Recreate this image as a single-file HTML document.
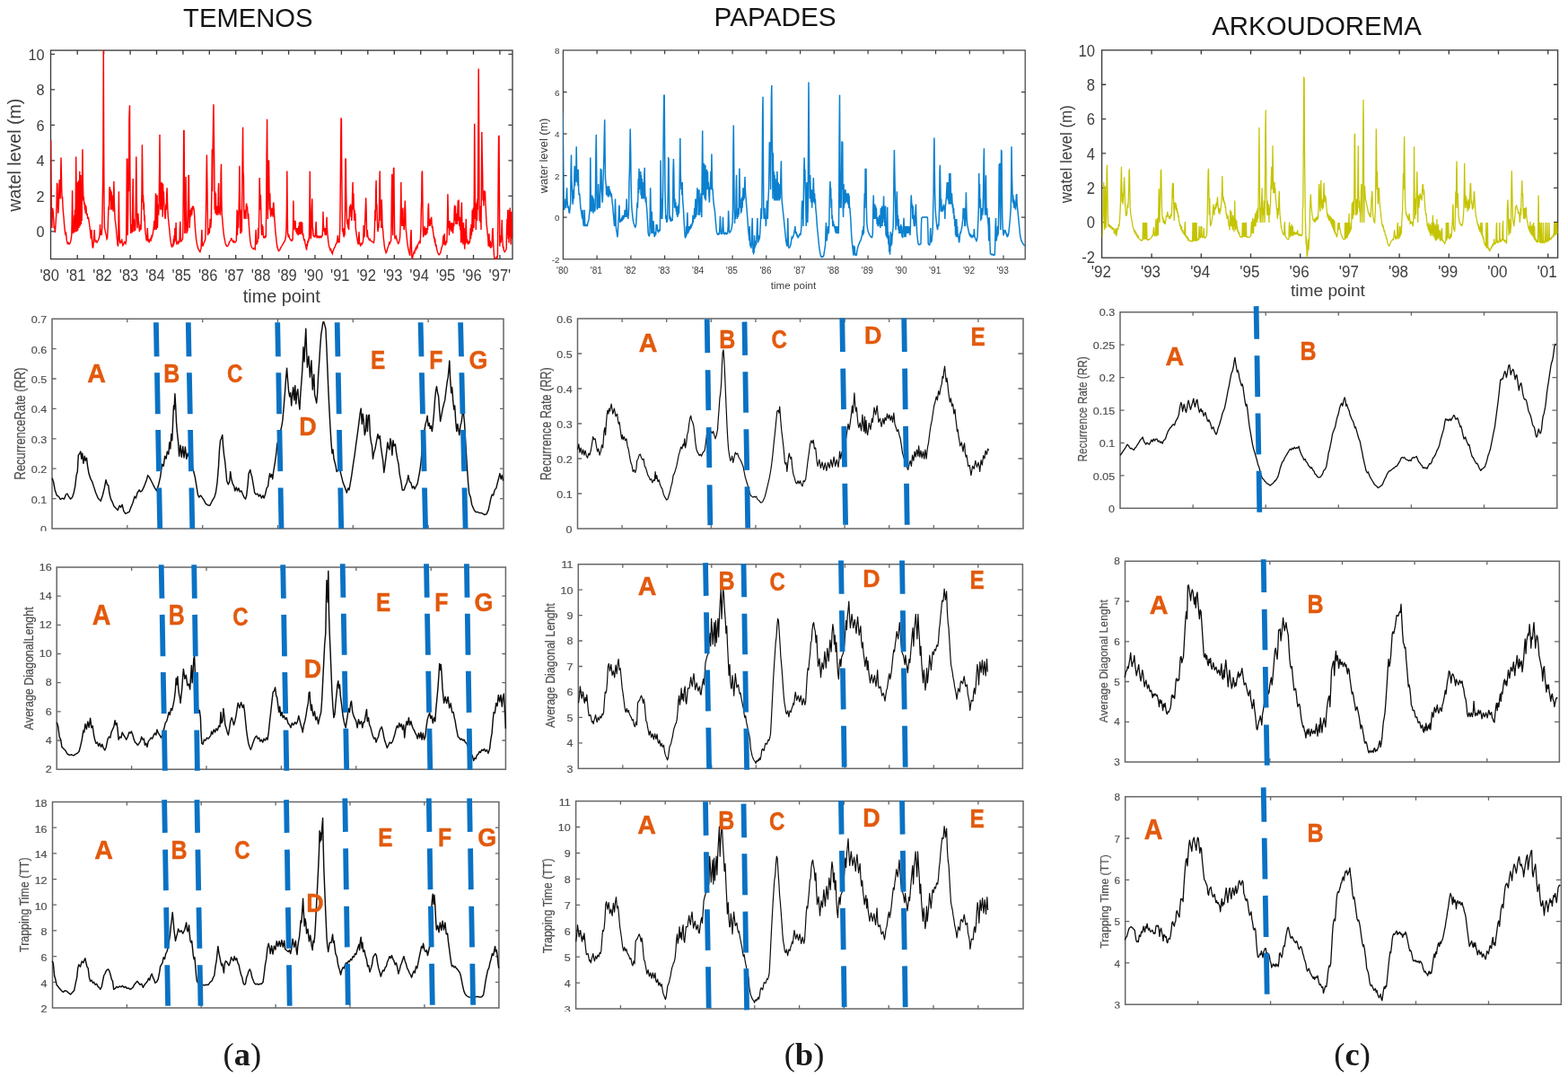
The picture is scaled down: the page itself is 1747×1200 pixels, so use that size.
<!DOCTYPE html>
<html lang="en"><head><meta charset="utf-8"><title>Water level and RQA measures</title>
<style>
html,body{margin:0;padding:0;background:#fff;}
body{width:1747px;height:1200px;overflow:hidden;}
svg{display:block;}
text{white-space:pre;}
</style></head><body>
<svg width="1747" height="1200" viewBox="0 0 1747 1200">
<rect width="1747" height="1200" fill="#fff"/>
<text transform="translate(276.3 30.3) scale(1.000 1.000)" font-size="30.4" text-anchor="middle" fill="#141414" font-family='"Liberation Sans", sans-serif' font-weight="normal" textLength="144.4" lengthAdjust="spacingAndGlyphs">TEMENOS</text>
<text transform="translate(863.6 29) scale(1.000 1.000)" font-size="30.4" text-anchor="middle" fill="#141414" font-family='"Liberation Sans", sans-serif' font-weight="normal" textLength="136" lengthAdjust="spacingAndGlyphs">PAPADES</text>
<text transform="translate(1467 38.5) scale(1.000 1.000)" font-size="30.4" text-anchor="middle" fill="#141414" font-family='"Liberation Sans", sans-serif' font-weight="normal" textLength="233.6" lengthAdjust="spacingAndGlyphs">ARKOUDOREMA</text>
<defs><filter id="soft" filterUnits="userSpaceOnUse" x="0" y="0" width="1747" height="1200" color-interpolation-filters="sRGB"><feGaussianBlur stdDeviation="0.42"/></filter></defs>
<g filter="url(#soft)">
<rect x="56.5" y="56.1" width="514.5" height="232.5" fill="none" stroke="#3c3c3c" stroke-width="1.35"/>
<path d="M86.2 288.6v-4.6M86.2 56.1v4.6M115.6 288.6v-4.6M115.6 56.1v4.6M145.1 288.6v-4.6M145.1 56.1v4.6M174.5 288.6v-4.6M174.5 56.1v4.6M203.9 288.6v-4.6M203.9 56.1v4.6M233.3 288.6v-4.6M233.3 56.1v4.6M262.7 288.6v-4.6M262.7 56.1v4.6M292.2 288.6v-4.6M292.2 56.1v4.6M321.6 288.6v-4.6M321.6 56.1v4.6M351 288.6v-4.6M351 56.1v4.6M380.4 288.6v-4.6M380.4 56.1v4.6M409.8 288.6v-4.6M409.8 56.1v4.6M439.3 288.6v-4.6M439.3 56.1v4.6M468.7 288.6v-4.6M468.7 56.1v4.6M498.1 288.6v-4.6M498.1 56.1v4.6M527.5 288.6v-4.6M527.5 56.1v4.6M556.9 288.6v-4.6M556.9 56.1v4.6M56.5 257.8h4.6M571 257.8h-4.6M56.5 218.3h4.6M571 218.3h-4.6M56.5 178.8h4.6M571 178.8h-4.6M56.5 139.3h4.6M571 139.3h-4.6M56.5 99.8h4.6M571 99.8h-4.6M56.5 60.3h4.6M571 60.3h-4.6" fill="none" stroke="#3c3c3c" stroke-width="1.35"/>
<text transform="translate(55.2 312.6) scale(1.000 1.060)" font-size="16.5" text-anchor="middle" fill="#3d3d3d" font-family='"Liberation Sans", sans-serif' font-weight="normal">'80</text>
<text transform="translate(84.6 312.6) scale(1.000 1.060)" font-size="16.5" text-anchor="middle" fill="#3d3d3d" font-family='"Liberation Sans", sans-serif' font-weight="normal">'81</text>
<text transform="translate(114 312.6) scale(1.000 1.060)" font-size="16.5" text-anchor="middle" fill="#3d3d3d" font-family='"Liberation Sans", sans-serif' font-weight="normal">'82</text>
<text transform="translate(143.5 312.6) scale(1.000 1.060)" font-size="16.5" text-anchor="middle" fill="#3d3d3d" font-family='"Liberation Sans", sans-serif' font-weight="normal">'83</text>
<text transform="translate(172.9 312.6) scale(1.000 1.060)" font-size="16.5" text-anchor="middle" fill="#3d3d3d" font-family='"Liberation Sans", sans-serif' font-weight="normal">'84</text>
<text transform="translate(202.3 312.6) scale(1.000 1.060)" font-size="16.5" text-anchor="middle" fill="#3d3d3d" font-family='"Liberation Sans", sans-serif' font-weight="normal">'85</text>
<text transform="translate(231.7 312.6) scale(1.000 1.060)" font-size="16.5" text-anchor="middle" fill="#3d3d3d" font-family='"Liberation Sans", sans-serif' font-weight="normal">'86</text>
<text transform="translate(261.1 312.6) scale(1.000 1.060)" font-size="16.5" text-anchor="middle" fill="#3d3d3d" font-family='"Liberation Sans", sans-serif' font-weight="normal">'87</text>
<text transform="translate(290.6 312.6) scale(1.000 1.060)" font-size="16.5" text-anchor="middle" fill="#3d3d3d" font-family='"Liberation Sans", sans-serif' font-weight="normal">'88</text>
<text transform="translate(320 312.6) scale(1.000 1.060)" font-size="16.5" text-anchor="middle" fill="#3d3d3d" font-family='"Liberation Sans", sans-serif' font-weight="normal">'89</text>
<text transform="translate(349.4 312.6) scale(1.000 1.060)" font-size="16.5" text-anchor="middle" fill="#3d3d3d" font-family='"Liberation Sans", sans-serif' font-weight="normal">'90</text>
<text transform="translate(378.8 312.6) scale(1.000 1.060)" font-size="16.5" text-anchor="middle" fill="#3d3d3d" font-family='"Liberation Sans", sans-serif' font-weight="normal">'91</text>
<text transform="translate(408.2 312.6) scale(1.000 1.060)" font-size="16.5" text-anchor="middle" fill="#3d3d3d" font-family='"Liberation Sans", sans-serif' font-weight="normal">'92</text>
<text transform="translate(437.7 312.6) scale(1.000 1.060)" font-size="16.5" text-anchor="middle" fill="#3d3d3d" font-family='"Liberation Sans", sans-serif' font-weight="normal">'93</text>
<text transform="translate(467.1 312.6) scale(1.000 1.060)" font-size="16.5" text-anchor="middle" fill="#3d3d3d" font-family='"Liberation Sans", sans-serif' font-weight="normal">'94</text>
<text transform="translate(496.5 312.6) scale(1.000 1.060)" font-size="16.5" text-anchor="middle" fill="#3d3d3d" font-family='"Liberation Sans", sans-serif' font-weight="normal">'95</text>
<text transform="translate(525.9 312.6) scale(1.000 1.060)" font-size="16.5" text-anchor="middle" fill="#3d3d3d" font-family='"Liberation Sans", sans-serif' font-weight="normal">'96</text>
<text transform="translate(544.6 312.6) scale(1.000 1.060)" font-size="16.5" text-anchor="start" fill="#3d3d3d" font-family='"Liberation Sans", sans-serif' font-weight="normal">'97'</text>
<text transform="translate(49.6 264.4) scale(1.000 1.060)" font-size="16.3" text-anchor="end" fill="#3d3d3d" font-family='"Liberation Sans", sans-serif' font-weight="normal">0</text>
<text transform="translate(49.6 224.9) scale(1.000 1.060)" font-size="16.3" text-anchor="end" fill="#3d3d3d" font-family='"Liberation Sans", sans-serif' font-weight="normal">2</text>
<text transform="translate(49.6 185.4) scale(1.000 1.060)" font-size="16.3" text-anchor="end" fill="#3d3d3d" font-family='"Liberation Sans", sans-serif' font-weight="normal">4</text>
<text transform="translate(49.6 145.9) scale(1.000 1.060)" font-size="16.3" text-anchor="end" fill="#3d3d3d" font-family='"Liberation Sans", sans-serif' font-weight="normal">6</text>
<text transform="translate(49.6 106.4) scale(1.000 1.060)" font-size="16.3" text-anchor="end" fill="#3d3d3d" font-family='"Liberation Sans", sans-serif' font-weight="normal">8</text>
<text transform="translate(49.6 66.9) scale(1.000 1.060)" font-size="16.3" text-anchor="end" fill="#3d3d3d" font-family='"Liberation Sans", sans-serif' font-weight="normal">10</text>
<text transform="translate(22.7 172.7) rotate(-90)" font-size="19.6" text-anchor="middle" fill="#3d3d3d" stroke="#3d3d3d" stroke-width="0" font-family='"Liberation Sans", sans-serif' textLength="126" lengthAdjust="spacingAndGlyphs">watel level (m)</text>
<text transform="translate(313.8 337) scale(1.000 1.000)" font-size="19.5" text-anchor="middle" fill="#3d3d3d" font-family='"Liberation Sans", sans-serif' font-weight="normal" textLength="86" lengthAdjust="spacingAndGlyphs">time point</text>
<rect x="627.4" y="56" width="514.8" height="232.8" fill="none" stroke="#3c3c3c" stroke-width="1.2"/>
<path d="M665.1 288.8v-4.2M665.1 56v4.2M702.9 288.8v-4.2M702.9 56v4.2M740.6 288.8v-4.2M740.6 56v4.2M778.4 288.8v-4.2M778.4 56v4.2M816.1 288.8v-4.2M816.1 56v4.2M853.8 288.8v-4.2M853.8 56v4.2M891.6 288.8v-4.2M891.6 56v4.2M929.3 288.8v-4.2M929.3 56v4.2M967.1 288.8v-4.2M967.1 56v4.2M1004.8 288.8v-4.2M1004.8 56v4.2M1042.5 288.8v-4.2M1042.5 56v4.2M1080.3 288.8v-4.2M1080.3 56v4.2M1118 288.8v-4.2M1118 56v4.2M627.4 242.2h4.2M1142.2 242.2h-4.2M627.4 195.7h4.2M1142.2 195.7h-4.2M627.4 149.1h4.2M1142.2 149.1h-4.2M627.4 102.6h4.2M1142.2 102.6h-4.2" fill="none" stroke="#3c3c3c" stroke-width="1.2"/>
<text transform="translate(626.6 304.6) scale(1.000 1.000)" font-size="10.1" text-anchor="middle" fill="#3d3d3d" font-family='"Liberation Sans", sans-serif' font-weight="normal">'80</text>
<text transform="translate(664.3 304.6) scale(1.000 1.000)" font-size="10.1" text-anchor="middle" fill="#3d3d3d" font-family='"Liberation Sans", sans-serif' font-weight="normal">'81</text>
<text transform="translate(702.1 304.6) scale(1.000 1.000)" font-size="10.1" text-anchor="middle" fill="#3d3d3d" font-family='"Liberation Sans", sans-serif' font-weight="normal">'82</text>
<text transform="translate(739.8 304.6) scale(1.000 1.000)" font-size="10.1" text-anchor="middle" fill="#3d3d3d" font-family='"Liberation Sans", sans-serif' font-weight="normal">'83</text>
<text transform="translate(777.6 304.6) scale(1.000 1.000)" font-size="10.1" text-anchor="middle" fill="#3d3d3d" font-family='"Liberation Sans", sans-serif' font-weight="normal">'84</text>
<text transform="translate(815.3 304.6) scale(1.000 1.000)" font-size="10.1" text-anchor="middle" fill="#3d3d3d" font-family='"Liberation Sans", sans-serif' font-weight="normal">'85</text>
<text transform="translate(853 304.6) scale(1.000 1.000)" font-size="10.1" text-anchor="middle" fill="#3d3d3d" font-family='"Liberation Sans", sans-serif' font-weight="normal">'86</text>
<text transform="translate(890.8 304.6) scale(1.000 1.000)" font-size="10.1" text-anchor="middle" fill="#3d3d3d" font-family='"Liberation Sans", sans-serif' font-weight="normal">'87</text>
<text transform="translate(928.5 304.6) scale(1.000 1.000)" font-size="10.1" text-anchor="middle" fill="#3d3d3d" font-family='"Liberation Sans", sans-serif' font-weight="normal">'88</text>
<text transform="translate(966.3 304.6) scale(1.000 1.000)" font-size="10.1" text-anchor="middle" fill="#3d3d3d" font-family='"Liberation Sans", sans-serif' font-weight="normal">'89</text>
<text transform="translate(1004 304.6) scale(1.000 1.000)" font-size="10.1" text-anchor="middle" fill="#3d3d3d" font-family='"Liberation Sans", sans-serif' font-weight="normal">'90</text>
<text transform="translate(1041.7 304.6) scale(1.000 1.000)" font-size="10.1" text-anchor="middle" fill="#3d3d3d" font-family='"Liberation Sans", sans-serif' font-weight="normal">'91</text>
<text transform="translate(1079.5 304.6) scale(1.000 1.000)" font-size="10.1" text-anchor="middle" fill="#3d3d3d" font-family='"Liberation Sans", sans-serif' font-weight="normal">'92</text>
<text transform="translate(1117.2 304.6) scale(1.000 1.000)" font-size="10.1" text-anchor="middle" fill="#3d3d3d" font-family='"Liberation Sans", sans-serif' font-weight="normal">'93</text>
<text transform="translate(623.4 292.6) scale(1.000 1.000)" font-size="9.8" text-anchor="end" fill="#3d3d3d" font-family='"Liberation Sans", sans-serif' font-weight="normal">-2</text>
<text transform="translate(623.4 246.1) scale(1.000 1.000)" font-size="9.8" text-anchor="end" fill="#3d3d3d" font-family='"Liberation Sans", sans-serif' font-weight="normal">0</text>
<text transform="translate(623.4 199.6) scale(1.000 1.000)" font-size="9.8" text-anchor="end" fill="#3d3d3d" font-family='"Liberation Sans", sans-serif' font-weight="normal">2</text>
<text transform="translate(623.4 153) scale(1.000 1.000)" font-size="9.8" text-anchor="end" fill="#3d3d3d" font-family='"Liberation Sans", sans-serif' font-weight="normal">4</text>
<text transform="translate(623.4 106.5) scale(1.000 1.000)" font-size="9.8" text-anchor="end" fill="#3d3d3d" font-family='"Liberation Sans", sans-serif' font-weight="normal">6</text>
<text transform="translate(623.4 59.9) scale(1.000 1.000)" font-size="9.8" text-anchor="end" fill="#3d3d3d" font-family='"Liberation Sans", sans-serif' font-weight="normal">8</text>
<text transform="translate(610.2 173.4) rotate(-90)" font-size="12.6" text-anchor="middle" fill="#3d3d3d" stroke="#3d3d3d" stroke-width="0" font-family='"Liberation Sans", sans-serif' textLength="83.5" lengthAdjust="spacingAndGlyphs">water level (m)</text>
<text transform="translate(884 321.8) scale(1.000 1.000)" font-size="11.6" text-anchor="middle" fill="#3d3d3d" font-family='"Liberation Sans", sans-serif' font-weight="normal" textLength="50.6" lengthAdjust="spacingAndGlyphs">time point</text>
<rect x="1227.6" y="55.9" width="508" height="231.3" fill="none" stroke="#3c3c3c" stroke-width="1.35"/>
<path d="M1283.1 287.2v-4.6M1283.1 55.9v4.6M1338.3 287.2v-4.6M1338.3 55.9v4.6M1393.5 287.2v-4.6M1393.5 55.9v4.6M1448.7 287.2v-4.6M1448.7 55.9v4.6M1503.9 287.2v-4.6M1503.9 55.9v4.6M1559.1 287.2v-4.6M1559.1 55.9v4.6M1614.3 287.2v-4.6M1614.3 55.9v4.6M1669.5 287.2v-4.6M1669.5 55.9v4.6M1724.7 287.2v-4.6M1724.7 55.9v4.6M1227.6 247.6h4.6M1735.6 247.6h-4.6M1227.6 209.3h4.6M1735.6 209.3h-4.6M1227.6 170.9h4.6M1735.6 170.9h-4.6M1227.6 132.6h4.6M1735.6 132.6h-4.6M1227.6 94.2h4.6M1735.6 94.2h-4.6" fill="none" stroke="#3c3c3c" stroke-width="1.35"/>
<text transform="translate(1226.8 309.3) scale(1.000 1.060)" font-size="17.0" text-anchor="middle" fill="#3d3d3d" font-family='"Liberation Sans", sans-serif' font-weight="normal">'92</text>
<text transform="translate(1282 309.3) scale(1.000 1.060)" font-size="17.0" text-anchor="middle" fill="#3d3d3d" font-family='"Liberation Sans", sans-serif' font-weight="normal">'93</text>
<text transform="translate(1337.2 309.3) scale(1.000 1.060)" font-size="17.0" text-anchor="middle" fill="#3d3d3d" font-family='"Liberation Sans", sans-serif' font-weight="normal">'94</text>
<text transform="translate(1392.4 309.3) scale(1.000 1.060)" font-size="17.0" text-anchor="middle" fill="#3d3d3d" font-family='"Liberation Sans", sans-serif' font-weight="normal">'95</text>
<text transform="translate(1447.6 309.3) scale(1.000 1.060)" font-size="17.0" text-anchor="middle" fill="#3d3d3d" font-family='"Liberation Sans", sans-serif' font-weight="normal">'96</text>
<text transform="translate(1502.8 309.3) scale(1.000 1.060)" font-size="17.0" text-anchor="middle" fill="#3d3d3d" font-family='"Liberation Sans", sans-serif' font-weight="normal">'97</text>
<text transform="translate(1558 309.3) scale(1.000 1.060)" font-size="17.0" text-anchor="middle" fill="#3d3d3d" font-family='"Liberation Sans", sans-serif' font-weight="normal">'98</text>
<text transform="translate(1613.2 309.3) scale(1.000 1.060)" font-size="17.0" text-anchor="middle" fill="#3d3d3d" font-family='"Liberation Sans", sans-serif' font-weight="normal">'99</text>
<text transform="translate(1668.4 309.3) scale(1.000 1.060)" font-size="17.0" text-anchor="middle" fill="#3d3d3d" font-family='"Liberation Sans", sans-serif' font-weight="normal">'00</text>
<text transform="translate(1723.6 309.3) scale(1.000 1.060)" font-size="17.0" text-anchor="middle" fill="#3d3d3d" font-family='"Liberation Sans", sans-serif' font-weight="normal">'01</text>
<text transform="translate(1220 292.6) scale(1.000 1.060)" font-size="16.6" text-anchor="end" fill="#3d3d3d" font-family='"Liberation Sans", sans-serif' font-weight="normal">-2</text>
<text transform="translate(1220 254.3) scale(1.000 1.060)" font-size="16.6" text-anchor="end" fill="#3d3d3d" font-family='"Liberation Sans", sans-serif' font-weight="normal">0</text>
<text transform="translate(1220 216) scale(1.000 1.060)" font-size="16.6" text-anchor="end" fill="#3d3d3d" font-family='"Liberation Sans", sans-serif' font-weight="normal">2</text>
<text transform="translate(1220 177.6) scale(1.000 1.060)" font-size="16.6" text-anchor="end" fill="#3d3d3d" font-family='"Liberation Sans", sans-serif' font-weight="normal">4</text>
<text transform="translate(1220 139.3) scale(1.000 1.060)" font-size="16.6" text-anchor="end" fill="#3d3d3d" font-family='"Liberation Sans", sans-serif' font-weight="normal">6</text>
<text transform="translate(1220 100.9) scale(1.000 1.060)" font-size="16.6" text-anchor="end" fill="#3d3d3d" font-family='"Liberation Sans", sans-serif' font-weight="normal">8</text>
<text transform="translate(1220 62.6) scale(1.000 1.060)" font-size="16.6" text-anchor="end" fill="#3d3d3d" font-family='"Liberation Sans", sans-serif' font-weight="normal">10</text>
<text transform="translate(1193.6 171.7) rotate(-90)" font-size="17.6" text-anchor="middle" fill="#3d3d3d" stroke="#3d3d3d" stroke-width="0" font-family='"Liberation Sans", sans-serif' textLength="109" lengthAdjust="spacingAndGlyphs">watel level (m)</text>
<text transform="translate(1479.4 329.9) scale(1.000 1.000)" font-size="19.0" text-anchor="middle" fill="#3d3d3d" font-family='"Liberation Sans", sans-serif' font-weight="normal" textLength="83" lengthAdjust="spacingAndGlyphs">time point</text>
<rect x="58" y="355.3" width="503" height="233.7" fill="none" stroke="#666" stroke-width="1.5"/>
<path d="M141.8 589v-4M141.8 355.3v4M225.7 589v-4M225.7 355.3v4M309.5 589v-4M309.5 355.3v4M393.3 589v-4M393.3 355.3v4M477.1 589v-4M477.1 355.3v4M58 555.6h4.6M561 555.6h-4.0M58 522.2h4.6M561 522.2h-4.0M58 488.8h4.6M561 488.8h-4.0M58 455.4h4.6M561 455.4h-4.0M58 422h4.6M561 422h-4.0M58 388.6h4.6M561 388.6h-4.0" fill="none" stroke="#666" stroke-width="1.3"/>
<clipPath id="cT2"><rect x="0" y="343.3" width="1747" height="248.5"/></clipPath>
<g clip-path="url(#cT2)">
<text transform="translate(52.1 593.9) scale(1.100 1.000)" font-size="11.4" text-anchor="end" fill="#505050" font-family='"Liberation Sans", sans-serif' font-weight="normal" stroke="#505050" stroke-width="0.18">0</text>
<text transform="translate(52.1 560.5) scale(1.100 1.000)" font-size="11.4" text-anchor="end" fill="#505050" font-family='"Liberation Sans", sans-serif' font-weight="normal" stroke="#505050" stroke-width="0.18">0.1</text>
<text transform="translate(52.1 527.1) scale(1.100 1.000)" font-size="11.4" text-anchor="end" fill="#505050" font-family='"Liberation Sans", sans-serif' font-weight="normal" stroke="#505050" stroke-width="0.18">0.2</text>
<text transform="translate(52.1 493.7) scale(1.100 1.000)" font-size="11.4" text-anchor="end" fill="#505050" font-family='"Liberation Sans", sans-serif' font-weight="normal" stroke="#505050" stroke-width="0.18">0.3</text>
<text transform="translate(52.1 460.3) scale(1.100 1.000)" font-size="11.4" text-anchor="end" fill="#505050" font-family='"Liberation Sans", sans-serif' font-weight="normal" stroke="#505050" stroke-width="0.18">0.4</text>
<text transform="translate(52.1 426.9) scale(1.100 1.000)" font-size="11.4" text-anchor="end" fill="#505050" font-family='"Liberation Sans", sans-serif' font-weight="normal" stroke="#505050" stroke-width="0.18">0.5</text>
<text transform="translate(52.1 393.5) scale(1.100 1.000)" font-size="11.4" text-anchor="end" fill="#505050" font-family='"Liberation Sans", sans-serif' font-weight="normal" stroke="#505050" stroke-width="0.18">0.6</text>
<text transform="translate(52.1 360.1) scale(1.100 1.000)" font-size="11.4" text-anchor="end" fill="#505050" font-family='"Liberation Sans", sans-serif' font-weight="normal" stroke="#505050" stroke-width="0.18">0.7</text>
</g>
<text transform="translate(27.5 471.9) rotate(-90)" font-size="16.0" text-anchor="middle" fill="#505050" stroke="#505050" stroke-width="0.2" font-family='"Liberation Sans", sans-serif' textLength="125" lengthAdjust="spacingAndGlyphs">RecurrenceRate (RR)</text>
<rect x="63.2" y="632" width="500.2" height="225.2" fill="none" stroke="#666" stroke-width="1.5"/>
<path d="M146.6 857.2v-4M146.6 632v4M230 857.2v-4M230 632v4M313.4 857.2v-4M313.4 632v4M396.8 857.2v-4M396.8 632v4M480.2 857.2v-4M480.2 632v4M63.2 825h4.6M563.4 825h-4.0M63.2 792.9h4.6M563.4 792.9h-4.0M63.2 760.7h4.6M563.4 760.7h-4.0M63.2 728.5h4.6M563.4 728.5h-4.0M63.2 696.3h4.6M563.4 696.3h-4.0M63.2 664.2h4.6M563.4 664.2h-4.0" fill="none" stroke="#666" stroke-width="1.3"/>
<clipPath id="cT3"><rect x="0" y="620" width="1747" height="246.2"/></clipPath>
<g clip-path="url(#cT3)">
<text transform="translate(57.7 860.9) scale(1.100 1.000)" font-size="11.4" text-anchor="end" fill="#505050" font-family='"Liberation Sans", sans-serif' font-weight="normal" stroke="#505050" stroke-width="0.18">2</text>
<text transform="translate(57.7 828.7) scale(1.100 1.000)" font-size="11.4" text-anchor="end" fill="#505050" font-family='"Liberation Sans", sans-serif' font-weight="normal" stroke="#505050" stroke-width="0.18">4</text>
<text transform="translate(57.7 796.5) scale(1.100 1.000)" font-size="11.4" text-anchor="end" fill="#505050" font-family='"Liberation Sans", sans-serif' font-weight="normal" stroke="#505050" stroke-width="0.18">6</text>
<text transform="translate(57.7 764.4) scale(1.100 1.000)" font-size="11.4" text-anchor="end" fill="#505050" font-family='"Liberation Sans", sans-serif' font-weight="normal" stroke="#505050" stroke-width="0.18">8</text>
<text transform="translate(57.7 732.2) scale(1.100 1.000)" font-size="11.4" text-anchor="end" fill="#505050" font-family='"Liberation Sans", sans-serif' font-weight="normal" stroke="#505050" stroke-width="0.18">10</text>
<text transform="translate(57.7 700) scale(1.100 1.000)" font-size="11.4" text-anchor="end" fill="#505050" font-family='"Liberation Sans", sans-serif' font-weight="normal" stroke="#505050" stroke-width="0.18">12</text>
<text transform="translate(57.7 667.9) scale(1.100 1.000)" font-size="11.4" text-anchor="end" fill="#505050" font-family='"Liberation Sans", sans-serif' font-weight="normal" stroke="#505050" stroke-width="0.18">14</text>
<text transform="translate(57.7 635.7) scale(1.100 1.000)" font-size="11.4" text-anchor="end" fill="#505050" font-family='"Liberation Sans", sans-serif' font-weight="normal" stroke="#505050" stroke-width="0.18">16</text>
</g>
<text transform="translate(36.8 744.9) rotate(-90)" font-size="14.6" text-anchor="middle" fill="#505050" stroke="#505050" stroke-width="0.2" font-family='"Liberation Sans", sans-serif' textLength="137" lengthAdjust="spacingAndGlyphs">Average DiagonalLenght</text>
<rect x="58.5" y="893.5" width="497.4" height="229.5" fill="none" stroke="#666" stroke-width="1.5"/>
<path d="M141.4 1123v-4M141.4 893.5v4M224.2 1123v-4M224.2 893.5v4M307.1 1123v-4M307.1 893.5v4M390 1123v-4M390 893.5v4M472.9 1123v-4M472.9 893.5v4M58.5 1094.3h4.6M555.9 1094.3h-4.0M58.5 1065.6h4.6M555.9 1065.6h-4.0M58.5 1036.9h4.6M555.9 1036.9h-4.0M58.5 1008.2h4.6M555.9 1008.2h-4.0M58.5 979.6h4.6M555.9 979.6h-4.0M58.5 950.9h4.6M555.9 950.9h-4.0M58.5 922.2h4.6M555.9 922.2h-4.0" fill="none" stroke="#666" stroke-width="1.3"/>
<clipPath id="cT4"><rect x="0" y="881.5" width="1747" height="250.5"/></clipPath>
<g clip-path="url(#cT4)">
<text transform="translate(52.6 1128.3) scale(1.100 1.000)" font-size="11.4" text-anchor="end" fill="#505050" font-family='"Liberation Sans", sans-serif' font-weight="normal" stroke="#505050" stroke-width="0.18">2</text>
<text transform="translate(52.6 1099.6) scale(1.100 1.000)" font-size="11.4" text-anchor="end" fill="#505050" font-family='"Liberation Sans", sans-serif' font-weight="normal" stroke="#505050" stroke-width="0.18">4</text>
<text transform="translate(52.6 1070.9) scale(1.100 1.000)" font-size="11.4" text-anchor="end" fill="#505050" font-family='"Liberation Sans", sans-serif' font-weight="normal" stroke="#505050" stroke-width="0.18">6</text>
<text transform="translate(52.6 1042.2) scale(1.100 1.000)" font-size="11.4" text-anchor="end" fill="#505050" font-family='"Liberation Sans", sans-serif' font-weight="normal" stroke="#505050" stroke-width="0.18">8</text>
<text transform="translate(52.6 1013.5) scale(1.100 1.000)" font-size="11.4" text-anchor="end" fill="#505050" font-family='"Liberation Sans", sans-serif' font-weight="normal" stroke="#505050" stroke-width="0.18">10</text>
<text transform="translate(52.6 984.8) scale(1.100 1.000)" font-size="11.4" text-anchor="end" fill="#505050" font-family='"Liberation Sans", sans-serif' font-weight="normal" stroke="#505050" stroke-width="0.18">12</text>
<text transform="translate(52.6 956.2) scale(1.100 1.000)" font-size="11.4" text-anchor="end" fill="#505050" font-family='"Liberation Sans", sans-serif' font-weight="normal" stroke="#505050" stroke-width="0.18">14</text>
<text transform="translate(52.6 927.5) scale(1.100 1.000)" font-size="11.4" text-anchor="end" fill="#505050" font-family='"Liberation Sans", sans-serif' font-weight="normal" stroke="#505050" stroke-width="0.18">16</text>
<text transform="translate(52.6 898.8) scale(1.100 1.000)" font-size="11.4" text-anchor="end" fill="#505050" font-family='"Liberation Sans", sans-serif' font-weight="normal" stroke="#505050" stroke-width="0.18">18</text>
</g>
<text transform="translate(32.3 1008.2) rotate(-90)" font-size="14.6" text-anchor="middle" fill="#505050" stroke="#505050" stroke-width="0.2" font-family='"Liberation Sans", sans-serif' textLength="105.5" lengthAdjust="spacingAndGlyphs">Trapping Time (TT)</text>
<rect x="643.5" y="355" width="496.5" height="234" fill="none" stroke="#666" stroke-width="1.5"/>
<path d="M693.1 589v-4M693.1 355v4M742.7 589v-4M742.7 355v4M792.3 589v-4M792.3 355v4M841.9 589v-4M841.9 355v4M891.5 589v-4M891.5 355v4M941.1 589v-4M941.1 355v4M990.7 589v-4M990.7 355v4M1040.3 589v-4M1040.3 355v4M1089.9 589v-4M1089.9 355v4M643.5 550h4.6M1140 550h-5.6M643.5 511h4.6M1140 511h-5.6M643.5 472h4.6M1140 472h-5.6M643.5 433h4.6M1140 433h-5.6M643.5 394h4.6M1140 394h-5.6" fill="none" stroke="#666" stroke-width="1.3"/>
<clipPath id="cP2"><rect x="0" y="343" width="1747" height="255"/></clipPath>
<g clip-path="url(#cP2)">
<text transform="translate(637.6 594.1) scale(1.100 1.000)" font-size="11.4" text-anchor="end" fill="#505050" font-family='"Liberation Sans", sans-serif' font-weight="normal" stroke="#505050" stroke-width="0.18">0</text>
<text transform="translate(637.6 555.1) scale(1.100 1.000)" font-size="11.4" text-anchor="end" fill="#505050" font-family='"Liberation Sans", sans-serif' font-weight="normal" stroke="#505050" stroke-width="0.18">0.1</text>
<text transform="translate(637.6 516.1) scale(1.100 1.000)" font-size="11.4" text-anchor="end" fill="#505050" font-family='"Liberation Sans", sans-serif' font-weight="normal" stroke="#505050" stroke-width="0.18">0.2</text>
<text transform="translate(637.6 477.1) scale(1.100 1.000)" font-size="11.4" text-anchor="end" fill="#505050" font-family='"Liberation Sans", sans-serif' font-weight="normal" stroke="#505050" stroke-width="0.18">0.3</text>
<text transform="translate(637.6 438.1) scale(1.100 1.000)" font-size="11.4" text-anchor="end" fill="#505050" font-family='"Liberation Sans", sans-serif' font-weight="normal" stroke="#505050" stroke-width="0.18">0.4</text>
<text transform="translate(637.6 399.1) scale(1.100 1.000)" font-size="11.4" text-anchor="end" fill="#505050" font-family='"Liberation Sans", sans-serif' font-weight="normal" stroke="#505050" stroke-width="0.18">0.5</text>
<text transform="translate(637.6 360.1) scale(1.100 1.000)" font-size="11.4" text-anchor="end" fill="#505050" font-family='"Liberation Sans", sans-serif' font-weight="normal" stroke="#505050" stroke-width="0.18">0.6</text>
</g>
<text transform="translate(613.7 472.3) rotate(-90)" font-size="15.8" text-anchor="middle" fill="#505050" stroke="#505050" stroke-width="0.2" font-family='"Liberation Sans", sans-serif' textLength="126" lengthAdjust="spacingAndGlyphs">Recurrence Rate (RR)</text>
<rect x="644.3" y="628.7" width="495.1" height="227.6" fill="none" stroke="#666" stroke-width="1.5"/>
<path d="M693.8 856.3v-4M693.8 628.7v4M743.3 856.3v-4M743.3 628.7v4M792.8 856.3v-4M792.8 628.7v4M842.3 856.3v-4M842.3 628.7v4M891.8 856.3v-4M891.8 628.7v4M941.3 856.3v-4M941.3 628.7v4M990.8 856.3v-4M990.8 628.7v4M1040.3 856.3v-4M1040.3 628.7v4M1089.8 856.3v-4M1089.8 628.7v4M644.3 827.8h4.6M1139.4 827.8h-5.6M644.3 799.4h4.6M1139.4 799.4h-5.6M644.3 771h4.6M1139.4 771h-5.6M644.3 742.5h4.6M1139.4 742.5h-5.6M644.3 714h4.6M1139.4 714h-5.6M644.3 685.6h4.6M1139.4 685.6h-5.6M644.3 657.2h4.6M1139.4 657.2h-5.6" fill="none" stroke="#666" stroke-width="1.3"/>
<clipPath id="cP3"><rect x="0" y="616.7" width="1747" height="248.6"/></clipPath>
<g clip-path="url(#cP3)">
<text transform="translate(638.4 860.7) scale(1.100 1.000)" font-size="11.4" text-anchor="end" fill="#505050" font-family='"Liberation Sans", sans-serif' font-weight="normal" stroke="#505050" stroke-width="0.18">3</text>
<text transform="translate(638.4 832.2) scale(1.100 1.000)" font-size="11.4" text-anchor="end" fill="#505050" font-family='"Liberation Sans", sans-serif' font-weight="normal" stroke="#505050" stroke-width="0.18">4</text>
<text transform="translate(638.4 803.8) scale(1.100 1.000)" font-size="11.4" text-anchor="end" fill="#505050" font-family='"Liberation Sans", sans-serif' font-weight="normal" stroke="#505050" stroke-width="0.18">5</text>
<text transform="translate(638.4 775.3) scale(1.100 1.000)" font-size="11.4" text-anchor="end" fill="#505050" font-family='"Liberation Sans", sans-serif' font-weight="normal" stroke="#505050" stroke-width="0.18">6</text>
<text transform="translate(638.4 746.9) scale(1.100 1.000)" font-size="11.4" text-anchor="end" fill="#505050" font-family='"Liberation Sans", sans-serif' font-weight="normal" stroke="#505050" stroke-width="0.18">7</text>
<text transform="translate(638.4 718.4) scale(1.100 1.000)" font-size="11.4" text-anchor="end" fill="#505050" font-family='"Liberation Sans", sans-serif' font-weight="normal" stroke="#505050" stroke-width="0.18">8</text>
<text transform="translate(638.4 690) scale(1.100 1.000)" font-size="11.4" text-anchor="end" fill="#505050" font-family='"Liberation Sans", sans-serif' font-weight="normal" stroke="#505050" stroke-width="0.18">9</text>
<text transform="translate(638.4 661.5) scale(1.100 1.000)" font-size="11.4" text-anchor="end" fill="#505050" font-family='"Liberation Sans", sans-serif' font-weight="normal" stroke="#505050" stroke-width="0.18">10</text>
<text transform="translate(638.4 633.1) scale(1.100 1.000)" font-size="11.4" text-anchor="end" fill="#505050" font-family='"Liberation Sans", sans-serif' font-weight="normal" stroke="#505050" stroke-width="0.18">11</text>
</g>
<text transform="translate(618.1 741.5) rotate(-90)" font-size="14.4" text-anchor="middle" fill="#505050" stroke="#505050" stroke-width="0.2" font-family='"Liberation Sans", sans-serif' textLength="139" lengthAdjust="spacingAndGlyphs">Average Diagonal Lenght</text>
<rect x="641.6" y="892.6" width="498.4" height="231.4" fill="none" stroke="#666" stroke-width="1.5"/>
<path d="M691.4 1124v-4M691.4 892.6v4M741.2 1124v-4M741.2 892.6v4M791 1124v-4M791 892.6v4M840.8 1124v-4M840.8 892.6v4M890.6 1124v-4M890.6 892.6v4M940.4 1124v-4M940.4 892.6v4M990.2 1124v-4M990.2 892.6v4M1040 1124v-4M1040 892.6v4M1089.8 1124v-4M1089.8 892.6v4M641.6 1095.1h4.6M1140 1095.1h-5.6M641.6 1066.2h4.6M1140 1066.2h-5.6M641.6 1037.2h4.6M1140 1037.2h-5.6M641.6 1008.3h4.6M1140 1008.3h-5.6M641.6 979.4h4.6M1140 979.4h-5.6M641.6 950.5h4.6M1140 950.5h-5.6M641.6 921.5h4.6M1140 921.5h-5.6" fill="none" stroke="#666" stroke-width="1.3"/>
<clipPath id="cP4"><rect x="0" y="880.6" width="1747" height="246.6"/></clipPath>
<g clip-path="url(#cP4)">
<text transform="translate(635.7 1128.9) scale(1.100 1.000)" font-size="11.4" text-anchor="end" fill="#505050" font-family='"Liberation Sans", sans-serif' font-weight="normal" stroke="#505050" stroke-width="0.18">3</text>
<text transform="translate(635.7 1100) scale(1.100 1.000)" font-size="11.4" text-anchor="end" fill="#505050" font-family='"Liberation Sans", sans-serif' font-weight="normal" stroke="#505050" stroke-width="0.18">4</text>
<text transform="translate(635.7 1071) scale(1.100 1.000)" font-size="11.4" text-anchor="end" fill="#505050" font-family='"Liberation Sans", sans-serif' font-weight="normal" stroke="#505050" stroke-width="0.18">5</text>
<text transform="translate(635.7 1042.1) scale(1.100 1.000)" font-size="11.4" text-anchor="end" fill="#505050" font-family='"Liberation Sans", sans-serif' font-weight="normal" stroke="#505050" stroke-width="0.18">6</text>
<text transform="translate(635.7 1013.2) scale(1.100 1.000)" font-size="11.4" text-anchor="end" fill="#505050" font-family='"Liberation Sans", sans-serif' font-weight="normal" stroke="#505050" stroke-width="0.18">7</text>
<text transform="translate(635.7 984.3) scale(1.100 1.000)" font-size="11.4" text-anchor="end" fill="#505050" font-family='"Liberation Sans", sans-serif' font-weight="normal" stroke="#505050" stroke-width="0.18">8</text>
<text transform="translate(635.7 955.3) scale(1.100 1.000)" font-size="11.4" text-anchor="end" fill="#505050" font-family='"Liberation Sans", sans-serif' font-weight="normal" stroke="#505050" stroke-width="0.18">9</text>
<text transform="translate(635.7 926.4) scale(1.100 1.000)" font-size="11.4" text-anchor="end" fill="#505050" font-family='"Liberation Sans", sans-serif' font-weight="normal" stroke="#505050" stroke-width="0.18">10</text>
<text transform="translate(635.7 897.5) scale(1.100 1.000)" font-size="11.4" text-anchor="end" fill="#505050" font-family='"Liberation Sans", sans-serif' font-weight="normal" stroke="#505050" stroke-width="0.18">11</text>
</g>
<text transform="translate(614.8 1009.3) rotate(-90)" font-size="15.0" text-anchor="middle" fill="#505050" stroke="#505050" stroke-width="0.2" font-family='"Liberation Sans", sans-serif' textLength="106" lengthAdjust="spacingAndGlyphs">Trapping Time (TT)</text>
<rect x="1248" y="347.8" width="486.8" height="218.5" fill="none" stroke="#666" stroke-width="1.5"/>
<path d="M1329.1 566.3v-4M1329.1 347.8v4M1410.2 566.3v-4M1410.2 347.8v4M1491.3 566.3v-4M1491.3 347.8v4M1572.4 566.3v-4M1572.4 347.8v4M1653.5 566.3v-4M1653.5 347.8v4M1248 529.9h4.6M1734.8 529.9h-5.4M1248 493.5h4.6M1734.8 493.5h-5.4M1248 457.1h4.6M1734.8 457.1h-5.4M1248 420.6h4.6M1734.8 420.6h-5.4M1248 384.2h4.6M1734.8 384.2h-5.4" fill="none" stroke="#666" stroke-width="1.3"/>
<clipPath id="cA2"><rect x="0" y="335.8" width="1747" height="239.5"/></clipPath>
<g clip-path="url(#cA2)">
<text transform="translate(1242.1 570.9) scale(1.100 1.000)" font-size="11.4" text-anchor="end" fill="#505050" font-family='"Liberation Sans", sans-serif' font-weight="normal" stroke="#505050" stroke-width="0.18">0</text>
<text transform="translate(1242.1 534.5) scale(1.100 1.000)" font-size="11.4" text-anchor="end" fill="#505050" font-family='"Liberation Sans", sans-serif' font-weight="normal" stroke="#505050" stroke-width="0.18">0.05</text>
<text transform="translate(1242.1 498) scale(1.100 1.000)" font-size="11.4" text-anchor="end" fill="#505050" font-family='"Liberation Sans", sans-serif' font-weight="normal" stroke="#505050" stroke-width="0.18">0.1</text>
<text transform="translate(1242.1 461.6) scale(1.100 1.000)" font-size="11.4" text-anchor="end" fill="#505050" font-family='"Liberation Sans", sans-serif' font-weight="normal" stroke="#505050" stroke-width="0.18">0.15</text>
<text transform="translate(1242.1 425.2) scale(1.100 1.000)" font-size="11.4" text-anchor="end" fill="#505050" font-family='"Liberation Sans", sans-serif' font-weight="normal" stroke="#505050" stroke-width="0.18">0.2</text>
<text transform="translate(1242.1 388.8) scale(1.100 1.000)" font-size="11.4" text-anchor="end" fill="#505050" font-family='"Liberation Sans", sans-serif' font-weight="normal" stroke="#505050" stroke-width="0.18">0.25</text>
<text transform="translate(1242.1 352.4) scale(1.100 1.000)" font-size="11.4" text-anchor="end" fill="#505050" font-family='"Liberation Sans", sans-serif' font-weight="normal" stroke="#505050" stroke-width="0.18">0.3</text>
</g>
<text transform="translate(1211.2 455.9) rotate(-90)" font-size="14.2" text-anchor="middle" fill="#505050" stroke="#505050" stroke-width="0.2" font-family='"Liberation Sans", sans-serif' textLength="117.3" lengthAdjust="spacingAndGlyphs">Recurrence Rate (RR)</text>
<rect x="1253.5" y="625.3" width="483.9" height="223.7" fill="none" stroke="#666" stroke-width="1.5"/>
<path d="M1334.2 849v-4M1334.2 625.3v4M1414.8 849v-4M1414.8 625.3v4M1495.5 849v-4M1495.5 625.3v4M1576.1 849v-4M1576.1 625.3v4M1656.8 849v-4M1656.8 625.3v4M1253.5 804.3h4.6M1737.4 804.3h-5.4M1253.5 759.5h4.6M1737.4 759.5h-5.4M1253.5 714.8h4.6M1737.4 714.8h-5.4M1253.5 670h4.6M1737.4 670h-5.4" fill="none" stroke="#666" stroke-width="1.3"/>
<clipPath id="cA3"><rect x="0" y="613.3" width="1747" height="244.7"/></clipPath>
<g clip-path="url(#cA3)">
<text transform="translate(1247.9 853.1) scale(1.100 1.000)" font-size="10.7" text-anchor="end" fill="#505050" font-family='"Liberation Sans", sans-serif' font-weight="normal" stroke="#505050" stroke-width="0.18">3</text>
<text transform="translate(1247.9 808.4) scale(1.100 1.000)" font-size="10.7" text-anchor="end" fill="#505050" font-family='"Liberation Sans", sans-serif' font-weight="normal" stroke="#505050" stroke-width="0.18">4</text>
<text transform="translate(1247.9 763.7) scale(1.100 1.000)" font-size="10.7" text-anchor="end" fill="#505050" font-family='"Liberation Sans", sans-serif' font-weight="normal" stroke="#505050" stroke-width="0.18">5</text>
<text transform="translate(1247.9 718.9) scale(1.100 1.000)" font-size="10.7" text-anchor="end" fill="#505050" font-family='"Liberation Sans", sans-serif' font-weight="normal" stroke="#505050" stroke-width="0.18">6</text>
<text transform="translate(1247.9 674.2) scale(1.100 1.000)" font-size="10.7" text-anchor="end" fill="#505050" font-family='"Liberation Sans", sans-serif' font-weight="normal" stroke="#505050" stroke-width="0.18">7</text>
<text transform="translate(1247.9 629.4) scale(1.100 1.000)" font-size="10.7" text-anchor="end" fill="#505050" font-family='"Liberation Sans", sans-serif' font-weight="normal" stroke="#505050" stroke-width="0.18">8</text>
</g>
<text transform="translate(1234.3 736.7) rotate(-90)" font-size="13.4" text-anchor="middle" fill="#505050" stroke="#505050" stroke-width="0.2" font-family='"Liberation Sans", sans-serif' textLength="137" lengthAdjust="spacingAndGlyphs">Average Diagonal Lenght</text>
<rect x="1253.7" y="887.7" width="485.7" height="231.5" fill="none" stroke="#666" stroke-width="1.5"/>
<path d="M1334.7 1119.2v-4M1334.7 887.7v4M1415.6 1119.2v-4M1415.6 887.7v4M1496.6 1119.2v-4M1496.6 887.7v4M1577.5 1119.2v-4M1577.5 887.7v4M1658.5 1119.2v-4M1658.5 887.7v4M1253.7 1072.9h4.6M1739.4 1072.9h-5.4M1253.7 1026.6h4.6M1739.4 1026.6h-5.4M1253.7 980.3h4.6M1739.4 980.3h-5.4M1253.7 934h4.6M1739.4 934h-5.4" fill="none" stroke="#666" stroke-width="1.3"/>
<clipPath id="cA4"><rect x="0" y="875.7" width="1747" height="247.9"/></clipPath>
<g clip-path="url(#cA4)">
<text transform="translate(1248.1 1123.9) scale(1.100 1.000)" font-size="10.7" text-anchor="end" fill="#505050" font-family='"Liberation Sans", sans-serif' font-weight="normal" stroke="#505050" stroke-width="0.18">3</text>
<text transform="translate(1248.1 1077.6) scale(1.100 1.000)" font-size="10.7" text-anchor="end" fill="#505050" font-family='"Liberation Sans", sans-serif' font-weight="normal" stroke="#505050" stroke-width="0.18">4</text>
<text transform="translate(1248.1 1031.3) scale(1.100 1.000)" font-size="10.7" text-anchor="end" fill="#505050" font-family='"Liberation Sans", sans-serif' font-weight="normal" stroke="#505050" stroke-width="0.18">5</text>
<text transform="translate(1248.1 985) scale(1.100 1.000)" font-size="10.7" text-anchor="end" fill="#505050" font-family='"Liberation Sans", sans-serif' font-weight="normal" stroke="#505050" stroke-width="0.18">6</text>
<text transform="translate(1248.1 938.7) scale(1.100 1.000)" font-size="10.7" text-anchor="end" fill="#505050" font-family='"Liberation Sans", sans-serif' font-weight="normal" stroke="#505050" stroke-width="0.18">7</text>
<text transform="translate(1248.1 892.4) scale(1.100 1.000)" font-size="10.7" text-anchor="end" fill="#505050" font-family='"Liberation Sans", sans-serif' font-weight="normal" stroke="#505050" stroke-width="0.18">8</text>
</g>
<text transform="translate(1234.8 1004.5) rotate(-90)" font-size="13.6" text-anchor="middle" fill="#505050" stroke="#505050" stroke-width="0.2" font-family='"Liberation Sans", sans-serif' textLength="104.6" lengthAdjust="spacingAndGlyphs">Trapping Time (TT)</text>
<clipPath id="clA1"><rect x="1227.6" y="55.9" width="508.0" height="232.3"/></clipPath>
<path d="M1227.8 264.3L1228.4 252.1L1229 239.8L1229.4 211.3L1229.8 203.1L1230.2 231.7L1230.6 256.2L1231 231.7L1231.4 207.2L1231.8 252.1L1232.2 254.1L1232.7 231.7L1233.1 190.9L1233.5 183.7L1233.9 211.3L1234.3 241.9L1234.7 252.1L1235.3 250L1235.9 252.1L1236.5 251.1L1237.1 254.1L1237.8 252.1L1238.4 253.1L1239 255.1L1239.6 254.1L1240.2 256.2L1240.8 254.1L1241.4 260.2L1242 256.2L1242.7 261.3L1243.3 254.1L1243.9 263.3L1244.5 258.2L1245.1 254.1L1245.7 256.2L1246.3 250L1246.9 252.1L1247.6 243.9L1248.2 231.7L1248.6 221.5L1249 203.1L1249.4 185.8L1249.8 203.1L1250.2 225.6L1250.6 215.3L1251 227.6L1251.4 221.5L1251.8 217.4L1252.2 207.2L1252.7 197.4L1253.1 211.3L1253.5 227.6L1253.9 231.7L1254.3 237.8L1254.7 240.9L1255.1 235.8L1255.5 239.8L1255.9 231.7L1256.3 227.6L1256.7 231.7L1257.1 225.6L1257.6 211.3L1258 190.9L1258.4 188.4L1258.8 211.3L1259.2 231.7L1259.6 235.8L1260 239.8L1260.4 241.9L1260.8 243.9L1261.4 248L1262 252.1L1262.7 254.1L1263.3 256.2L1263.9 258.2L1264.5 257.2L1265.1 260.2L1265.7 259.2L1266.3 262.3L1266.9 261.3L1267.6 264.3L1268.2 263.3L1268.8 265.3L1269.4 266.4L1270 266.8L1270.6 267.4L1271.2 268L1271.8 267.4L1272.4 268L1273.1 267.4L1273.5 248L1273.9 266.4L1274.3 248L1274.7 266.8L1275.1 248L1275.5 266.8L1275.9 248L1276.3 266.8L1276.7 248L1277.1 266.8L1277.6 248L1278 266.8L1278.6 267.4L1279.2 266.8L1279.8 267.4L1280.4 266.8L1281 266.4L1281.6 266L1282.2 265.3L1282.9 264.3L1283.5 263.3L1284.1 262.3L1284.7 263.3L1285.1 256.2L1285.5 253.1L1285.9 260.2L1286.5 262.3L1287.1 263.3L1287.6 252.1L1288 243.9L1288.4 260.2L1288.8 263.3L1289.2 252.1L1289.6 242.9L1290 260.2L1290.4 262.3L1290.8 231.7L1291.2 210.2L1291.6 231.7L1292 248L1292.4 231.7L1292.9 211.3L1293.3 190.9L1293.7 188.8L1294.1 211.3L1294.5 231.7L1294.9 239.8L1295.3 243.9L1295.7 241.9L1296.1 248L1296.5 243.9L1296.9 249L1297.3 246L1297.8 250L1298.4 248L1299 243.9L1299.6 239.8L1300.2 241.9L1300.8 235.8L1301.4 240.9L1302 239.8L1302.7 243.9L1303.3 241.9L1303.9 242.9L1304.5 239.8L1305.1 240.9L1305.7 231.7L1306.1 211.3L1306.5 204.1L1306.9 221.5L1307.3 204.1L1307.8 231.7L1308.2 246L1308.6 231.7L1309 225.6L1309.4 231.7L1309.8 225.6L1310.2 233.7L1310.6 227.6L1311 235.8L1311.4 231.7L1311.8 237.8L1312.2 235.8L1312.7 241.9L1313.1 239.8L1313.5 246L1314.1 248L1314.7 252.1L1315.3 250L1315.9 256.2L1316.5 252.1L1317.1 258.2L1317.8 256.2L1318.4 260.2L1319 258.2L1319.6 262.3L1320 252.1L1320.4 247L1320.8 260.2L1321.2 264.3L1321.8 263.3L1322.4 265.3L1323.1 264.3L1323.7 267.4L1324.3 266.4L1324.9 268L1325.5 268.4L1326.1 268.8L1326.7 268.4L1327.3 269L1328 268.4L1328.6 268.8L1329 248L1329.4 268.4L1329.8 248L1330.2 268.8L1330.6 248L1331 268.8L1331.4 248L1331.8 268.8L1332.2 248L1332.7 268.8L1333.1 248L1333.5 268.4L1334.1 267.4L1334.7 266.4L1335.3 266.8L1335.7 260.2L1336.1 252.1L1336.5 262.3L1336.9 265.3L1337.6 264.3L1338 252.1L1338.4 264.3L1338.8 252.1L1339.2 262.3L1339.6 264.3L1340.2 264.7L1340.8 264.3L1341.2 254.1L1341.6 262.3L1342 264.3L1342.7 265.3L1343.3 264.3L1343.9 263.3L1344.5 262.3L1344.9 252.1L1345.3 231.7L1345.7 211.3L1346.1 190.9L1346.5 187.8L1346.9 211.3L1347.3 239.8L1347.8 220.4L1348.2 243.9L1348.6 252.1L1349.2 250L1349.8 248L1350.4 243.9L1351 239.8L1351.6 231.7L1352 227.6L1352.4 235.8L1352.9 239.8L1353.3 231.7L1353.7 230.7L1354.1 233.7L1354.5 227.6L1354.9 231.7L1355.3 225.6L1355.7 229.6L1356.1 223.5L1356.5 219.4L1356.9 227.6L1357.3 231.7L1357.8 235.8L1358.2 237.8L1358.6 231.7L1359 238.8L1359.4 233.7L1359.8 235.8L1360.2 231.7L1360.6 227.6L1361 223.5L1361.4 211.3L1361.8 196L1362.2 211.3L1362.7 223.5L1363.1 219.4L1363.5 225.6L1363.9 223.5L1364.3 227.6L1364.7 225.6L1365.1 231.7L1365.5 229.6L1365.9 235.8L1366.3 239.8L1366.7 237.8L1367.1 243.9L1367.6 241.9L1368 239.8L1368.4 243.9L1368.8 248L1369.2 252.1L1369.6 250L1370 256.2L1370.4 243.9L1370.8 233.7L1371.2 243.9L1371.6 252.1L1372 235.8L1372.4 252.1L1372.9 241.9L1373.3 256.2L1373.7 239.8L1374.1 252.1L1374.5 241.9L1374.9 258.2L1375.3 243.9L1375.7 223.5L1376.1 243.9L1376.5 256.2L1376.9 243.9L1377.3 254.1L1377.8 246L1378.2 256.2L1378.6 252.1L1379 258.2L1379.4 256.2L1379.8 260.2L1380.2 258.2L1380.6 261.3L1381 260.2L1381.4 263.3L1382 263.9L1382.7 264.3L1383.3 263.9L1383.9 264.3L1384.3 248L1384.7 263.9L1385.1 248L1385.5 263.9L1385.9 248L1386.3 263.9L1386.7 248L1387.1 263.9L1387.6 248L1388 263.9L1388.4 248L1388.8 263.9L1389.4 264.3L1390 263.9L1390.6 264.3L1391.2 264.7L1391.8 264.3L1392.4 263.9L1393.1 263.3L1393.7 262.3L1394.1 252.1L1394.5 247L1394.9 260.2L1395.3 252.1L1395.7 242.9L1396.1 256.2L1396.5 260.2L1396.9 252.1L1397.3 243.9L1397.8 252.1L1398.2 243.9L1398.6 237.8L1399 252.1L1399.4 243.9L1400 235.8L1400.4 234.7L1400.8 248L1401.2 231.7L1401.6 243.9L1402 231.7L1402.4 190.9L1402.9 141.9L1403.3 190.9L1403.7 231.7L1404.1 248L1404.5 231.7L1404.9 248L1405.3 231.7L1405.7 221.5L1406.1 209.2L1406.5 231.7L1406.9 248L1407.3 231.7L1407.8 239.8L1408.2 223.5L1408.6 231.7L1409 248L1409.4 211.3L1409.8 150L1410.2 122.5L1410.6 170.4L1411 211.3L1411.4 231.7L1411.8 239.8L1412.2 223.5L1412.7 231.7L1413.1 239.8L1413.5 227.6L1413.9 248L1414.3 231.7L1414.7 239.8L1415.1 231.7L1415.5 227.6L1415.9 211.3L1416.3 201.1L1416.7 185.8L1417.1 211.3L1417.6 190.9L1418 162.3L1418.4 190.9L1418.8 215.3L1419.2 203.1L1419.6 215.3L1420 203.1L1420.4 215.3L1420.8 209.2L1421.2 219.4L1421.6 223.5L1422 227.6L1422.4 231.7L1422.9 235.8L1423.3 243.9L1423.7 231.7L1424.1 239.8L1424.5 231.7L1424.9 221.5L1425.3 212.9L1425.7 231.7L1426.1 239.8L1426.5 243.9L1426.9 248L1427.3 252.1L1427.8 254.1L1428.2 256.2L1428.8 258.2L1429.4 260.2L1430 261.3L1430.6 262.3L1431 252.1L1431.4 247L1431.8 260.2L1432.2 263.3L1432.9 264.3L1433.5 265.3L1434.1 266L1434.7 266.4L1435.3 266.8L1435.9 266.4L1436.3 252.1L1436.7 247.6L1437.1 260.2L1437.6 264.3L1438 252.1L1438.4 262.3L1438.8 260.2L1439.2 250L1439.6 260.2L1440 263.3L1440.4 252.1L1440.8 260.2L1441.2 262.3L1441.6 258.2L1442 261.3L1442.4 258.2L1442.9 261.3L1443.3 259.2L1443.7 261.3L1444.1 259.2L1444.5 260.2L1444.9 258.2L1445.3 261.3L1445.7 256.2L1446.1 261.3L1446.5 260.2L1446.9 261.9L1447.3 261.3L1447.8 261.9L1448.2 261.3L1448.6 262.3L1449 261.9L1449.4 262.3L1449.8 261.9L1450.2 262.7L1450.6 262.3L1451 260.2L1451.4 231.7L1451.8 230.7L1452.2 170.4L1452.7 86.4L1453.1 86.8L1453.5 170.4L1453.9 201.1L1454.3 243.9L1454.7 252.1L1455.1 272.5L1455.5 264.3L1455.9 278.6L1456.3 286.4L1456.7 284.7L1457.1 272.5L1457.6 266.4L1458 278.6L1458.4 272.5L1458.8 264.3L1459.2 252.1L1459.6 231.7L1460 221.5L1460.4 216.4L1460.8 227.6L1461.2 231.7L1461.6 235.8L1462 239.8L1462.4 241.9L1462.9 243.9L1463.3 246L1463.7 244.9L1464.1 247L1464.5 243.9L1464.9 248L1465.3 243.9L1465.7 247L1466.1 241.9L1466.5 246L1466.9 243.9L1467.3 241.9L1467.8 244.9L1468.2 239.8L1468.6 243.9L1469 231.7L1469.4 211.3L1469.8 205.1L1470.2 223.5L1470.6 231.7L1471 235.8L1471.4 211.3L1471.8 200.7L1472.2 221.5L1472.7 231.7L1473.1 223.5L1473.5 233.7L1473.9 221.5L1474.3 231.7L1474.7 211.3L1475.1 203.5L1475.5 221.5L1475.9 225.6L1476.3 217.4L1476.7 221.5L1477.1 219.4L1477.6 227.6L1478 231.7L1478.4 235.8L1478.8 239.8L1479.2 241.9L1479.6 237.8L1480 243.9L1480.4 241.9L1480.8 246L1481.2 239.8L1481.6 243.9L1482 240.9L1482.4 248L1482.9 241.9L1483.3 250L1483.7 242.9L1484.1 252.1L1484.5 243.9L1484.9 254.1L1485.3 243.9L1485.7 256.2L1486.1 244.9L1486.5 258.2L1486.9 246L1487.3 260.2L1487.8 258.2L1488.2 261.3L1488.6 260.2L1489 263.3L1489.4 264.3L1489.8 262.3L1490.2 260.2L1490.6 252.1L1491 248L1491.4 256.2L1491.8 252.1L1492.2 248L1492.7 254.1L1493.1 256.2L1493.5 258.2L1493.9 260.2L1494.3 261.3L1494.7 262.3L1495.1 263.3L1495.5 264.3L1495.9 265.3L1496.3 266L1496.9 266.4L1497.6 266.8L1498.2 266.4L1498.6 248L1499 266.4L1499.4 248L1499.8 266L1500.2 248L1500.6 265.3L1501 248L1501.4 264.3L1501.8 248L1502.2 262.3L1502.7 248L1503.1 237.8L1503.5 260.2L1503.9 248L1504.3 258.2L1504.7 252.1L1505.1 256.2L1505.5 254.1L1505.9 243.9L1506.3 227.6L1506.7 225.6L1507.1 243.9L1507.6 235.8L1508 223.5L1508.4 239.8L1508.8 211.3L1509.2 150L1509.6 149L1510 211.3L1510.4 239.8L1510.8 235.8L1511.2 221.5L1511.6 239.8L1512 231.7L1512.4 237.8L1512.9 190.9L1513.3 162.3L1513.7 211.3L1514.1 231.7L1514.5 223.5L1514.9 235.8L1515.3 231.7L1515.7 248L1516.1 231.7L1516.5 211.3L1516.9 205.1L1517.3 223.5L1517.8 248L1518.2 211.3L1518.6 150L1519 110.9L1519.4 150L1519.8 248L1520.2 211.3L1520.6 207.2L1521 217.4L1521.4 221.5L1521.8 223.5L1522.2 225.6L1522.7 227.6L1523.1 229.6L1523.5 231.7L1523.9 233.7L1524.3 235.8L1524.7 237.8L1525.1 236.8L1525.5 239.8L1525.9 237.8L1526.3 241.9L1526.7 239.8L1527.1 241.9L1527.6 231.7L1528 221.5L1528.4 217.4L1528.8 212.9L1529.2 227.6L1529.6 239.8L1530 241.9L1530.4 243.9L1530.8 246L1531.2 247L1531.6 249L1532 241.9L1532.4 231.7L1532.9 190.9L1533.3 143.5L1533.7 170.4L1534.1 211.3L1534.5 190.9L1534.9 211.3L1535.3 227.6L1535.7 221.5L1536.1 211.3L1536.5 209.2L1536.9 221.5L1537.3 227.6L1537.8 231.7L1538.2 235.8L1538.6 239.8L1539 243.9L1539.4 246L1539.8 249L1540.2 252.1L1540.6 250L1541 254.1L1541.4 252.1L1541.8 256.2L1542.2 258.2L1542.7 256.2L1543.1 260.2L1543.5 262.3L1543.9 261.3L1544.3 264.3L1544.7 266.4L1545.1 265.3L1545.5 268.4L1545.9 270.4L1546.3 271.5L1546.7 272.5L1547.1 273.5L1547.6 274.1L1548 273.5L1548.4 272.5L1548.8 271.5L1549.2 270.4L1549.6 269.4L1550 268.8L1550.4 268.4L1550.8 268L1551.2 267.4L1551.6 266.8L1552 266.4L1552.4 267.4L1552.9 264.3L1553.3 260.2L1553.7 256.2L1554.1 260.2L1554.5 264.3L1554.9 266L1555.3 265.3L1555.7 264.3L1556.1 262.3L1556.5 266.4L1556.9 252.1L1557.3 248L1557.8 260.2L1558.2 266.4L1558.6 264.3L1559 265.3L1559.4 252.1L1559.8 264.3L1560.2 260.2L1560.6 262.3L1561 252.1L1561.4 260.2L1561.8 248L1562.2 239.8L1562.7 231.7L1563.1 211.3L1563.5 192.9L1563.9 211.3L1564.3 170.4L1564.7 152.1L1565.1 190.9L1565.5 221.5L1565.9 231.7L1566.3 235.8L1566.7 239.8L1567.1 237.8L1567.6 241.9L1568 239.8L1568.4 243.9L1568.8 241.9L1569.2 246L1569.6 243.9L1570 237.8L1570.7 243.9L1571.3 250L1571.9 246L1572.5 249L1573.1 247L1573.7 250L1574.3 252.1L1574.8 243.9L1575.2 211.3L1575.6 163.3L1576 211.3L1576.4 243.9L1576.8 221.5L1577.2 231.7L1577.6 239.8L1578 221.5L1578.4 211.3L1578.8 191.3L1579.2 211.3L1579.7 248L1580.1 221.5L1580.5 217.4L1580.9 231.7L1581.3 225.6L1581.7 221.5L1582.1 215.3L1582.5 221.5L1582.9 217.4L1583.3 221.5L1583.7 219.4L1584.1 223.5L1584.6 211.3L1585 206.2L1585.4 205.1L1585.8 211.3L1586.2 217.4L1586.6 211.3L1587 221.5L1587.4 225.6L1587.8 231.7L1588.2 235.8L1588.6 239.8L1589 237.8L1589.4 243.9L1589.9 248L1590.3 252.1L1590.7 250L1591.1 254.1L1591.5 256.2L1591.9 248L1592.3 258.2L1592.7 252.1L1593.1 260.2L1593.5 250L1593.9 263.3L1594.3 252.1L1594.8 260.2L1595.2 248L1595.6 262.3L1596 250L1596.4 239.8L1596.8 252.1L1597.2 264.3L1597.6 248L1598 260.2L1598.4 252.1L1598.8 266.4L1599.2 250L1599.7 268.4L1600.1 252.1L1600.5 267.4L1600.9 243.9L1601.3 266.4L1601.7 252.1L1602.1 264.3L1602.5 250L1602.9 266.4L1603.3 256.2L1603.7 264.3L1604.1 258.2L1604.6 268.4L1605 256.2L1605.4 267.4L1605.8 264.3L1606.2 268.4L1606.6 254.1L1607 266.4L1607.4 267.4L1607.8 268.4L1608.4 269.4L1609 270.4L1609.7 271.5L1610.3 269.4L1610.9 268.4L1611.3 248L1611.7 267.4L1612.1 266.4L1612.5 248L1612.9 265.3L1613.3 264.3L1613.7 248L1614.1 264.3L1614.6 265.3L1615 264.3L1615.4 266.4L1615.8 260.2L1616.2 265.3L1616.6 262.3L1617 264.3L1617.4 260.2L1617.8 252.1L1618.2 248L1618.6 231.7L1619 227.6L1619.4 252.1L1619.9 256.2L1620.3 254.1L1620.7 258.2L1621.1 252.1L1621.5 231.7L1621.9 213.3L1622.3 231.7L1622.7 190.9L1623.1 179.6L1623.5 211.3L1623.9 231.7L1624.3 215.3L1624.8 231.7L1625.2 241.9L1625.6 243.9L1626 248L1626.4 247L1626.8 249L1627.2 250L1627.6 249L1628 251.1L1628.4 250L1628.8 252.1L1629.2 250L1629.7 249L1630.1 243.9L1630.5 239.8L1630.9 231.7L1631.3 211.3L1631.7 181.7L1632.1 211.3L1632.5 231.7L1632.9 217.4L1633.3 227.6L1633.7 219.4L1634.1 231.7L1634.6 223.5L1635 235.8L1635.4 225.6L1635.8 231.7L1636.2 221.5L1636.6 233.7L1637 225.6L1637.4 231.7L1637.8 215.3L1638.2 205.1L1638.6 204.1L1639 217.4L1639.4 227.6L1639.9 223.5L1640.3 231.7L1640.7 233.7L1641.1 227.6L1641.5 231.7L1641.9 221.5L1642.3 214.3L1642.7 213.3L1643.1 223.5L1643.5 231.7L1643.9 235.8L1644.3 239.8L1644.8 241.9L1645.2 243.9L1645.6 246L1646 249L1646.4 248L1646.8 252.1L1647.2 250L1647.6 254.1L1648 256.2L1648.4 252.1L1648.8 258.2L1649.2 256.2L1649.7 248L1650.1 260.2L1650.5 258.2L1650.9 262.3L1651.3 248L1651.7 264.3L1652.1 262.3L1652.5 266.4L1652.9 264.3L1653.3 268.4L1653.7 270.4L1654.1 272.5L1654.6 271.5L1655 274.5L1655.4 272.5L1655.8 248L1656.2 275.6L1656.6 276.6L1657 274.5L1657.4 248L1657.8 274.5L1658.2 276.6L1658.6 277.6L1659 276.6L1659.4 278.6L1659.9 279.6L1660.3 278.6L1660.7 277.6L1661.1 276.6L1661.5 275.6L1661.9 276.6L1662.3 274.5L1662.7 273.5L1663.1 272.5L1663.5 273.5L1663.9 272.5L1664.3 270.4L1664.8 266.4L1665.2 271.5L1665.6 272.5L1666 270.4L1666.4 271.5L1666.8 269.4L1667.2 252.1L1667.6 248L1668 269.4L1668.4 270.4L1668.8 269.4L1669.2 270.4L1669.7 268.4L1670.1 269.4L1670.5 268.4L1670.9 248L1671.3 268.4L1671.7 269.4L1672.1 267.4L1672.5 268.4L1672.9 267.4L1673.3 268.4L1673.7 266.4L1674.1 252.1L1674.6 246L1675 267.4L1675.4 268L1675.8 267.4L1676.2 268.4L1676.6 267.4L1677 269.4L1677.4 268.4L1677.8 269.4L1678.2 270.4L1678.6 271.5L1679 252.1L1679.4 231.7L1679.9 222.5L1680.3 231.7L1680.7 252.1L1681.1 262.3L1681.5 252.1L1681.9 243.9L1682.3 252.1L1682.7 260.2L1683.1 256.2L1683.5 252.1L1683.9 211.3L1684.3 190.2L1684.8 211.3L1685.2 231.7L1685.6 243.9L1686 248L1686.4 250L1686.8 252.1L1687.2 248L1687.6 243.9L1688 239.8L1688.4 231.7L1688.8 230.7L1689.2 229.6L1689.7 228.6L1690.1 231.7L1690.5 233.7L1690.9 232.7L1691.3 235.8L1691.7 237.8L1692.1 235.8L1692.5 239.8L1692.9 238.8L1693.3 248L1693.7 243.9L1694.1 231.7L1694.6 239.8L1695 221.5L1695.4 211.3L1695.8 201.1L1696.2 217.4L1696.6 215.3L1697 231.7L1697.4 239.8L1697.8 243.9L1698.2 231.7L1698.6 237.8L1699 243.9L1699.4 231.7L1699.9 241.9L1700.3 230.7L1700.7 239.8L1701.1 243.9L1701.5 246L1701.9 248L1702.3 250L1702.7 252.1L1703.1 254.1L1703.5 256.2L1703.9 252.1L1704.3 258.2L1704.8 247L1705.2 260.2L1705.6 252.1L1706 261.3L1706.4 252.1L1706.8 262.3L1707.2 250L1707.6 263.3L1708 252.1L1708.4 264.3L1708.8 248L1709.2 266.4L1709.7 252.1L1710.1 267.4L1710.5 264.3L1710.9 268.4L1711.3 266.4L1711.7 269.4L1712.1 267.4L1712.5 270.4L1712.9 269.4L1713.3 270L1713.7 252.1L1714.1 217.4L1714.6 252.1L1715 270L1715.4 269.4L1715.8 248L1716.2 269.4L1716.6 270.4L1717 269.4L1717.4 248L1717.8 270L1718.2 270.4L1718.6 269.4L1719 270.4L1719.4 248L1719.9 270.4L1720.3 269.4L1720.7 270.4L1721.1 269.4L1721.5 270L1721.9 248L1722.3 269.4L1722.7 268.4L1723.1 269.4L1723.5 268.4L1723.9 248L1724.3 268L1724.8 267.4L1725.2 268.4L1725.6 267.4L1726 248L1726.4 267.4L1726.8 266.4L1727.2 266.8L1727.6 266L1728 266.4L1728.4 265.3L1728.8 264.3L1729.2 264.7L1729.7 263.9L1730.1 263.3L1730.5 262.3L1730.9 263.3L1731.3 262.3L1731.7 248L1732.1 262.3L1732.5 248L1732.9 261.9L1733.3 248L1733.7 261.3L1734.1 248L1734.6 261.3L1735 248L1735.4 260.2" fill="none" stroke="#c4c400" stroke-width="1.25" clip-path="url(#clA1)" stroke-linejoin="miter" stroke-miterlimit="3"/>
<path d="M1248.2 507.4L1250.2 504.4L1252.2 501.3L1254.3 498.3L1255.9 495.2L1257.1 496.2L1258.4 498.3L1259.6 499.9L1260.8 499.3L1262 500.7L1263.3 501.3L1264.5 499.3L1265.7 498.3L1266.9 496.2L1268.2 494.2L1269.4 492.1L1270.6 490.1L1271.8 489.1L1273.1 487L1274.3 491.1L1275.5 493.2L1276.7 495.2L1278 493.2L1279.2 494.2L1280.4 495.2L1281.6 493.2L1282.9 490.1L1284.1 492.1L1285.3 489.1L1286.5 491.1L1287.8 489.1L1289 489.1L1290.2 492.1L1291.4 491.1L1292.7 493.2L1293.9 492.1L1295.1 494.2L1296.3 491.1L1297.6 490.1L1298.8 488.1L1300 484L1301.2 480.9L1302.4 478.9L1303.7 476.8L1304.9 475.8L1306.1 473.8L1307.3 472.8L1308.6 473.8L1309.8 469.7L1311 467.7L1312.2 465.6L1313.5 461.5L1314.3 455.4L1315.1 451.3L1315.9 448.3L1316.7 451.3L1317.6 458.5L1318.4 454.4L1319.2 450.3L1320 453.4L1320.8 457.4L1321.6 459.5L1322.4 455.4L1323.3 449.3L1324.1 446.2L1324.9 449.3L1325.7 453.4L1326.5 456.4L1327.3 453.4L1328.2 450.3L1329 447.2L1329.8 444.2L1330.6 449.3L1331.4 453.4L1332.2 450.3L1333.1 446.2L1333.9 445.2L1334.7 451.3L1335.5 455.4L1336.3 459.5L1337.1 457.4L1338 455.4L1338.8 458.5L1339.6 457.4L1340.4 460.5L1341.2 463.6L1342 461.5L1342.9 459.5L1343.7 462.6L1344.5 465.6L1345.3 468.7L1346.1 469.7L1346.9 467.7L1347.8 469.7L1348.6 471.7L1349.4 474.8L1350.2 477.9L1351 476.8L1351.8 475.8L1352.7 478.9L1353.5 480.9L1354.3 483L1355.1 484L1355.9 482.3L1356.7 478.9L1357.6 475.8L1358.4 473.8L1359.6 469.7L1360.8 465.6L1362 460.5L1363.3 457.4L1364.5 454.4L1365.7 448.3L1366.9 442.1L1368.2 435L1369.4 429.9L1370.6 422.8L1371.8 416.6L1373.1 413.6L1374.3 408.5L1375.1 402.3L1375.9 398.3L1376.7 404.4L1377.6 409.5L1378.4 414.6L1379.2 412.6L1380 415.6L1380.8 420.7L1381.6 423.8L1382.4 426.8L1383.3 429.9L1384.1 427.9L1384.9 430.9L1385.7 437L1386.5 443.2L1387.3 448.3L1388.2 452.3L1389 450.3L1389.8 455.4L1390.6 462.6L1391.4 469.7L1392.2 475.8L1393.1 480.9L1394.3 488.1L1395.5 495.2L1396.7 500.3L1398 504.4L1399.2 508.5L1400.4 512.6L1401.6 517.7L1402.9 520.7L1404.1 525.8L1405.3 529.9L1406.5 533L1407.8 534L1409 536L1410.2 537L1411.4 538.7L1412.7 539.1L1413.9 540.1L1415.1 541.1L1416.3 540.1L1417.6 539.1L1418.8 538.1L1420 536L1420.6 536L1422.2 534L1423.9 530.9L1425.1 526.8L1426.3 521.7L1427.6 517.7L1428.8 514.6L1430 513.6L1431.2 510.5L1432.4 508.5L1433.7 506.4L1434.9 504.4L1436.1 502.3L1437.3 500.3L1438.6 501.3L1439.8 499.3L1441 500.3L1442.2 498.3L1443.5 499.9L1444.7 498.7L1445.9 499.3L1447.1 497.2L1448 501.3L1448.8 503.4L1449.6 505.4L1450.4 507.4L1451.6 509.5L1452.9 512.6L1454.1 511.5L1455.3 514.6L1456.5 515.6L1457.8 518.7L1459 519.7L1460.2 521.7L1461.4 520.7L1462.7 523.8L1463.9 524.8L1465.1 527.9L1466.3 528.9L1467.6 530.9L1468.8 531.9L1470 531.9L1471.2 531.3L1472.4 529.9L1473.7 527.9L1474.5 524.8L1475.3 523.8L1476.5 522.8L1477.8 519.7L1478.6 514.6L1479.4 510.5L1480.2 504.4L1481 502.3L1481.8 498.3L1482.7 494.2L1483.5 490.1L1484.3 485L1485.1 481.9L1485.9 479.9L1486.7 477.9L1487.6 475.8L1488.4 471.7L1489.2 467.7L1490 464.6L1490.8 462.6L1491.6 459.5L1492.4 455.4L1493.3 452.3L1494.1 450.3L1494.9 449.3L1495.7 452.3L1496.5 449.3L1497.3 445.2L1498.2 442.8L1499 446.2L1499.8 452.3L1500.6 450.3L1501.4 453.4L1502.2 455.4L1503.1 457.4L1503.9 461.5L1504.7 463.6L1505.5 465.6L1506.3 467.7L1507.1 468.7L1508 470.7L1508.8 473.8L1509.6 476.8L1510.4 475.8L1511.2 478.9L1512 481.9L1512.9 485L1513.7 488.1L1514.5 490.1L1515.3 492.1L1516.1 496.2L1516.9 500.3L1517.8 504.4L1518.6 509.5L1519.4 512.6L1520.2 516.6L1521 519.7L1521.8 523.8L1522.7 525.8L1523.5 526.8L1524.3 525.8L1525.1 527.9L1525.9 529.9L1526.7 531.9L1528 534L1529.2 536L1530.4 538.1L1531.6 540.1L1532.9 541.1L1534.1 542.1L1535.3 543.6L1536.5 542.8L1537.8 542.1L1539 541.1L1540.2 540.1L1541.4 537L1542.7 534L1543.9 531.9L1545.1 528.9L1546.3 526.8L1547.6 524.8L1548.8 524.8L1550 523.8L1551.2 522.8L1552.4 521.7L1553.7 521.1L1554.9 519.7L1556.1 519.7L1557.3 517.7L1558.6 515.6L1559.8 513.6L1561 510.5L1562.2 509.5L1563.5 510.1L1564.7 509.5L1565.9 511.5L1567.1 512.1L1568.4 512.6L1569.6 513.6L1570.8 512.6L1572 513.6L1573.3 510.5L1574.5 509.5L1575.7 510.1L1576.9 509.5L1578.2 508.5L1579.4 511.5L1580.6 514.6L1581.8 515.6L1583.1 517.7L1584.3 518.7L1585.5 521.7L1586.7 520.7L1588 521.7L1589.2 521.1L1590 522.3L1591.5 518.7L1592.7 516.6L1593.9 517L1595.2 514.6L1596.4 510.5L1597.6 509.5L1598.8 507.4L1600.1 504.4L1601.3 501.3L1602.5 499.3L1603.7 496.2L1605 490.1L1606.2 486L1607.4 481.9L1608.6 477.9L1609.9 469.7L1610.7 466.6L1611.5 467.7L1612.3 468.1L1613.1 467.2L1613.9 468.7L1614.8 467.7L1615.6 466.6L1616.4 468.7L1617.2 467.7L1618 465.6L1618.8 464.6L1619.7 462.6L1620.5 463.2L1621.3 465.6L1622.1 467.2L1622.9 466.6L1623.7 465.6L1624.6 467.7L1625.4 470.7L1626.2 472.8L1627 475.8L1627.8 474.8L1628.6 477.9L1629.4 481.9L1630.3 486L1631.1 489.1L1631.9 488.1L1632.7 487L1633.5 490.1L1634.3 492.1L1635.2 494.2L1636 496.2L1636.8 495.2L1637.6 498.3L1638.4 502.3L1639.2 505.4L1640.1 508.5L1640.9 509.5L1641.7 510.5L1642.5 512.6L1643.3 513.6L1644.1 515.6L1645 516.6L1645.8 516.2L1646.6 517.7L1647.4 519.7L1648.2 521.7L1649 523.2L1649.9 524.4L1650.7 522.8L1651.9 522.3L1653.1 521.1L1654.3 520.3L1655.6 516.6L1656.8 512.6L1658 507.4L1659.2 504.4L1660.5 500.3L1661.7 494.2L1662.9 488.1L1664.1 481.9L1665.4 475.8L1666.6 466.6L1667.8 457.4L1669 448.3L1670.3 437L1671.1 428.9L1671.9 422.8L1672.7 423.2L1673.5 421.7L1674.3 422.3L1675.2 418.7L1676 415.6L1676.8 413.6L1677.6 416.6L1678.4 420.7L1679.2 416.6L1680.1 411.5L1680.9 407.4L1681.7 406.4L1682.5 411.5L1683.3 417.7L1684.1 414.6L1685 412.6L1685.8 411.5L1686.6 413.6L1687.4 418.7L1688.2 422.8L1689 418.7L1689.9 417.7L1690.7 422.8L1691.5 428.9L1692.3 435L1693.1 430.9L1693.9 427.9L1694.8 426.8L1695.6 430.9L1696.4 437L1697.2 441.1L1698 444.2L1698.8 445.2L1699.7 444.8L1700.5 446.2L1701.3 449.3L1702.1 453.4L1702.9 457.4L1703.7 459.5L1704.6 461.5L1705.4 463.6L1706.2 466.6L1707 470.7L1707.8 473.8L1708.6 474.8L1709.4 475.8L1710.3 479.9L1711.1 485L1711.9 487L1712.7 486L1713.5 481.9L1714.3 477.9L1715.2 480.9L1716 483L1716.8 481.9L1717.6 477.9L1718.4 469.7L1719.2 463.6L1720.1 461.5L1720.9 457.4L1721.7 453.4L1722.5 447.2L1723.3 439.1L1724.1 433L1725.4 424.8L1726.6 416.6L1727.8 408.5L1728.6 404.4L1729.4 402.3L1730.3 398.3L1731.1 392.1L1731.9 386L1732.7 384L1733.5 383" fill="none" stroke="#0c0c0c" stroke-width="1.3" stroke-linejoin="round"/>
<path d="M1399.6 341.1L1400.2 377.8M1400.5 396.2L1401.2 442.1M1401.5 460.5L1402.3 506.4M1402.6 524.8L1403.3 570.7" fill="none" stroke="#0a72c4" stroke-width="5.8"/>
<text transform="translate(1308.8 407.0) scale(0.955 1)" font-size="30.0" font-weight="bold" text-anchor="middle" fill="#e2590c" stroke="#e2590c" stroke-width="0.45" font-family='"Liberation Sans", sans-serif'>A</text>
<text transform="translate(1457.6 400.9) scale(0.856 1)" font-size="29.2" font-weight="bold" text-anchor="middle" fill="#e2590c" stroke="#e2590c" stroke-width="0.45" font-family='"Liberation Sans", sans-serif'>B</text>
<path d="M1253.2 754.9L1254.4 748.7L1255.6 746.7L1256.4 742.6L1257.2 744.7L1258.1 738.5L1258.9 734.4L1259.7 727.3L1260.5 736.5L1261.3 742.6L1262.1 738.5L1263 736.5L1263.8 730.4L1264.6 740.6L1265.4 746.7L1266.2 752.8L1267 748.7L1267.9 744.7L1268.7 740.6L1269.5 748.7L1270.3 754.9L1271.1 758.9L1271.9 752.8L1272.8 746.7L1273.6 750.8L1274.4 758.9L1275.2 765.1L1276 761L1276.8 757.9L1277.7 763L1278.5 767.1L1279.8 763L1281.2 770.5L1282.6 769.1L1283.4 773.2L1284.2 777.3L1285 773.2L1285.8 775.3L1286.6 773.2L1287.4 773.2L1288.3 775.3L1289.1 774.2L1289.9 777.3L1290.7 781.4L1291.5 787.5L1292.3 779.3L1293.2 783.4L1294 780.4L1294.8 785.5L1295.6 791.6L1296.4 784.4L1297.2 787.5L1298.1 783.4L1298.9 789.6L1299.7 794.7L1300.5 795.7L1301.3 792.6L1302.1 793.6L1303 791.6L1303.8 789.6L1304.6 785.5L1305.4 775.3L1306.2 774.2L1307 777.3L1307.9 775.3L1308.7 778.3L1309.5 767.1L1310.3 756.9L1311.1 755.9L1311.9 758.9L1312.8 756.9L1313.6 757.9L1314.4 744.7L1315.2 732.4L1316 731.4L1316.8 738.5L1317.7 734.4L1318.5 732.4L1319.3 718.1L1320.1 703.8L1320.9 689.6L1321.7 681.4L1322.6 689.6L1323.4 652.8L1324.2 651.8L1325 655.9L1325.8 663L1326.6 669.1L1327.4 661L1328.3 656.9L1329.1 658.9L1329.9 667.1L1330.7 673.2L1331.5 665.1L1332.3 677.3L1333.2 663L1334 660L1334.8 671.2L1335.6 681.4L1336.4 689.6L1337.2 679.3L1338.1 681.4L1338.9 693.6L1339.7 705.9L1340.5 718.1L1341.3 730.4L1342.1 732.4L1343 728.3L1343.8 734.4L1344.6 730.4L1345.4 738.5L1346.2 741.6L1347 734.4L1347.9 738.5L1348.7 733.4L1349.5 742.6L1350.3 745.7L1351.8 738.5L1353.3 746.4L1354.9 743.2L1356.4 750.2L1357.9 746.4L1359.4 752.5L1360.9 739.6L1361.7 754.9L1362.6 756.9L1363.4 746.7L1364.2 754.9L1365 742.6L1365.8 735.5L1366.6 744.7L1367.4 752.8L1368.3 765.1L1369.1 754.9L1369.9 746.7L1370.7 754.9L1371.5 761L1372.3 767.1L1373.2 763L1374 754.9L1374.8 758.9L1375.6 765.1L1376.4 761L1377.2 764L1378.1 756.9L1378.9 752.8L1379.7 748.7L1380.5 754.9L1381.3 750.8L1382.1 752.8L1383 748.7L1383.8 744.7L1384.6 750.8L1385.4 756.9L1386.2 763L1387 762L1387.9 761L1388.7 765.1L1389.5 769.1L1390.3 773.2L1391.1 775.3L1391.9 771.2L1392.8 769.1L1393.6 779.3L1394.4 783.4L1395.2 789.6L1396 785.5L1396.8 779.3L1397.7 789.6L1398.5 795.7L1399.3 803.8L1400.1 812L1400.9 813L1401.7 807.9L1402.6 803.8L1403.4 801.8L1404.2 797.7L1405 801.8L1405.8 807.9L1406.6 795.7L1407.4 791.6L1408.3 785.5L1409.1 779.3L1409.9 781.4L1410.7 775.3L1411.5 771.2L1412.3 767.1L1413.2 773.2L1414 771.2L1414.8 763L1415.6 758.9L1416.4 754.9L1417.2 763L1418.1 754.9L1418.9 744.7L1419.7 734.4L1420.5 724.2L1421.3 722.2L1422.1 728.3L1423 734.4L1423.8 722.2L1424.6 701.8L1425.5 701.8L1426.3 700.8L1427.1 714L1428 705.9L1428.8 697.7L1429.6 688.5L1431.2 702.8L1432.9 693.6L1433.7 699.8L1434.5 703.8L1435.3 707.9L1436.1 722.2L1436.9 734.4L1437.8 742.6L1438.6 744.7L1439.4 742.6L1440.2 752.8L1441 761L1441.8 769.1L1442.7 768.1L1443.5 767.1L1444.3 773.2L1445.1 781.4L1445.9 787.5L1446.7 785.5L1447.6 784.4L1448.4 787.5L1449.2 795.7L1450 801.8L1450.8 805.9L1451.6 810L1452.4 808.9L1453.3 814L1454.1 816.1L1454.9 822.2L1455.7 816.1L1456.5 813L1457.3 818.1L1458.2 812L1459 816.1L1459.8 820.2L1461.2 812.3L1462.5 817.4L1463.9 814L1465.2 817.4L1466.6 806.6L1468 820.2L1468.8 813L1469.6 807.9L1470.4 816.1L1471.2 799.8L1472 807.9L1472.9 816.1L1473.7 807.9L1474.5 803.8L1475.3 799.8L1476.1 805.9L1476.9 810L1477.8 795.7L1478.6 787.5L1479.4 781.4L1480.2 777.3L1481 775.3L1481.8 787.5L1482.7 767.1L1483.5 746.7L1484.3 742.6L1485.1 738.5L1485.9 736.5L1486.7 752.8L1487.6 734.4L1488.4 725.3L1489.2 736.5L1490 730.4L1490.8 734.4L1491.6 744.7L1492.9 734.4L1494.1 740.6L1495.3 737.5L1496.5 742.6L1497.3 739.6L1498.2 738.5L1499 742.6L1499.8 740.6L1500.6 746.7L1501.4 750.8L1502.2 744.7L1503.1 746.7L1503.9 754.9L1504.7 761L1505.5 767.1L1506.3 773.2L1507.1 771.2L1508 775.3L1508.8 781.4L1509.6 785.5L1510.4 791.6L1511.2 789.6L1512 787.5L1512.9 791.6L1513.7 795.7L1514.5 799.8L1515.3 805.9L1516.1 812L1516.9 807.9L1517.8 810L1518.6 816.1L1519.4 820.2L1520.2 826.3L1521 828.3L1521.8 826.3L1522.7 828.3L1523.5 832.4L1524.3 836.5L1525.1 838.9L1526.3 836.2L1527.6 838.3L1528.8 836.2L1530 838.5L1530.8 834.4L1531.6 833.4L1532.4 837.5L1533.3 835.5L1534.1 836.5L1534.9 834.4L1535.7 832.4L1536.5 828.3L1537.3 825.3L1538.2 832.4L1539 828.3L1539.8 822.2L1540.6 812L1541.4 803.8L1542.2 799.8L1543.1 793.6L1543.9 783.4L1544.7 771.2L1545.5 758.9L1546.3 744.7L1547.1 734.4L1548 742.6L1548.8 738.5L1549.6 730.4L1550.4 718.1L1551.2 705.9L1552 703.8L1552.9 705.9L1553.7 701.8L1554.5 697.7L1555.3 691.6L1556.1 685.5L1557.8 686.5L1559.4 681.4L1560.2 682.4L1561 673.2L1561.8 689.6L1562.7 705.9L1563.5 716.1L1564.3 718.1L1565.1 722.2L1565.9 721.2L1566.7 734.4L1567.6 744.7L1568.4 754.9L1569.2 765.1L1570 763L1570.8 767.1L1571.6 775.3L1572.4 785.5L1573.3 787.5L1574.1 791.6L1575.6 791.3L1577.1 799.2L1578.6 798.9L1580.1 805.3L1581.7 804.1L1583.2 811.1L1584.7 807.9L1585.5 814L1586.3 816.1L1587.1 810L1588 814L1588.8 805.9L1590 814L1590.7 811L1591.5 807.9L1592.3 812L1593.1 805.9L1593.9 813L1594.8 801.8L1595.6 793.6L1596.9 799.1L1598.3 788.2L1599.7 793.6L1600.5 789.6L1601.3 785.5L1602.1 791.6L1602.9 794.7L1604.6 788.5L1606.2 792.6L1607 785.5L1607.8 783.4L1608.6 779.3L1609.4 775.3L1610.3 769.1L1611.1 773.2L1611.9 765.1L1612.7 758.9L1613.5 754.9L1614.3 747.7L1615.2 748.7L1616 754.9L1616.8 761L1617.6 752.8L1618.4 750.8L1619.2 751.8L1620.1 754.9L1620.9 758.9L1621.7 764L1622.5 756.9L1623.3 758.9L1624.1 761L1625 763L1626.3 757.9L1627.7 761.3L1629 758.9L1629.9 765.1L1630.7 767.1L1631.5 773.2L1632.3 777.3L1633.1 779.3L1633.9 785.5L1634.8 795.7L1635.6 798.7L1636.8 794.1L1638 798.7L1639.2 794.1L1640.5 798.7L1641.3 793.6L1642.1 781.4L1642.9 791.6L1643.7 797.7L1644.9 794.4L1646 797.1L1647.2 791.2L1648.3 795.3L1649.4 791.6L1650.3 795.7L1651.1 800.8L1652.6 794.5L1654.1 798.9L1655.6 794.1L1657.1 799.8L1658.7 791.3L1660.2 796.5L1661.7 793.6L1662.5 799.8L1663.3 800.8L1664.1 803.8L1665 804.9L1665.8 795.7L1666.6 787.5L1667.4 783.4L1668.2 791.6L1669 783.4L1669.9 787.5L1670.7 779.3L1671.5 773.2L1672.3 781.4L1673.1 771.2L1673.9 773.2L1674.8 765.1L1675.6 758.9L1676.4 756.9L1677.2 763L1678 758.9L1678.8 764L1679.7 754.9L1680.5 746.7L1681.9 755.7L1683.4 743.4L1684.9 747.9L1686.3 737.7L1687.8 752.8L1688.6 742.6L1689.4 738.5L1690.3 730.4L1691.1 740.6L1691.9 744.7L1692.7 734.4L1693.5 742.6L1694.3 738.5L1695.2 736.5L1696 748.7L1696.8 742.6L1697.6 734.4L1698.4 722.2L1699.2 712L1700.1 728.3L1700.9 714L1701.7 710L1702.5 705.9L1703.3 707.9L1704.1 695.7L1705 705.9L1705.8 722.2L1706.6 710L1707.4 712L1708.2 701.8L1709 693.6L1709.9 707.9L1710.7 722.2L1711.5 714L1712.3 707.9L1713.1 710L1713.9 718.1L1714.8 730.4L1715.6 734.4L1716.4 738.5L1717.2 742.6L1718 746.7L1718.8 758.9L1719.7 744.7L1720.5 742.6L1721.3 754.9L1722.1 763L1722.9 771.2L1723.7 763L1724.6 767.1L1725.4 763L1726.2 771.2L1727 775.3L1727.8 781.4L1728.6 775.3L1729.4 773.2L1730.3 779.3L1731.1 781.4L1731.9 787.5L1732.7 783.4L1733.5 779.3L1734.3 777.3L1735.2 778.3" fill="none" stroke="#0c0c0c" stroke-width="1.3" stroke-linejoin="round"/>
<path d="M1407.7 623.2L1408.3 660.0M1408.7 678.9L1409.5 724.2M1409.8 743.0L1410.6 788.5M1410.9 807.5L1411.7 852.8" fill="none" stroke="#0a72c4" stroke-width="5.8"/>
<text transform="translate(1291.1 683.6) scale(0.973 1)" font-size="29.5" font-weight="bold" text-anchor="middle" fill="#e2590c" stroke="#e2590c" stroke-width="0.45" font-family='"Liberation Sans", sans-serif'>A</text>
<text transform="translate(1465.5 683.4) scale(0.856 1)" font-size="29.2" font-weight="bold" text-anchor="middle" fill="#e2590c" stroke="#e2590c" stroke-width="0.45" font-family='"Liberation Sans", sans-serif'>B</text>
<path d="M1253.2 1047.4L1254.4 1044.4L1255.6 1043.4L1256.8 1038.3L1258.1 1034.2L1259.3 1033.2L1260.5 1032.6L1261.7 1033.8L1263 1035.2L1264.2 1036.2L1265 1042.3L1265.8 1047.4L1266.6 1049.5L1267.4 1048.5L1268.3 1049.5L1269.4 1041.9L1270.6 1043.6L1271.7 1037.9L1272.8 1039.1L1274 1032.1L1274.8 1036.2L1275.6 1038.3L1276.4 1032.1L1277.2 1034.2L1278.1 1029.1L1278.9 1034.2L1279.7 1036.2L1280.5 1034.2L1281.3 1037.2L1282.1 1038.3L1283.8 1036.2L1285.4 1040.3L1286.2 1039.3L1287 1040.3L1287.9 1032.1L1288.7 1031.1L1289.5 1032.1L1290.3 1031.1L1291.1 1034.2L1291.9 1043.4L1292.8 1036.2L1293.6 1034.2L1294.4 1038.3L1295.2 1042.3L1296 1048.5L1296.8 1041.3L1297.7 1042.3L1298.5 1044.4L1299.3 1043.4L1300.1 1049.5L1300.9 1050.5L1301.7 1046.4L1302.6 1045.4L1303.4 1046.4L1304.2 1042.3L1305 1036.2L1305.8 1028.1L1306.6 1027L1307.4 1030.1L1308.3 1032.1L1309.1 1028.1L1309.9 1026L1310.7 1015.8L1311.5 1014.8L1312.3 1017.9L1313.2 1019.9L1314 1021.9L1314.8 1009.7L1315.6 1001.5L1316.4 1002.6L1317.2 1001.5L1318.1 1004.6L1318.9 989.3L1319.7 977L1320.5 966.8L1321.3 958.7L1322.1 956.6L1323 964.8L1323.8 952.6L1324.6 942.3L1325.4 936.2L1326.2 940.3L1327 944.4L1327.9 948.5L1328.7 938.3L1329.5 935.2L1330.3 933.2L1331.1 938.3L1331.9 942.3L1332.8 947.4L1333.6 938.3L1334.4 933.2L1335.2 934.2L1336 942.3L1336.8 950.5L1337.7 944.4L1338.5 945.4L1339.3 956.6L1340.1 964.8L1340.9 973L1341.7 980.1L1342.6 981.1L1343.4 983.2L1344.2 985.2L1345 987.2L1345.8 995.4L1346.6 997.4L1347.4 991.3L1348.3 989.3L1349.1 988.3L1349.9 993.4L1350.7 997.4L1351.5 999.5L1352.3 997.4L1353.2 996.4L1354 1001.5L1354.8 1005.6L1355.6 1003.6L1356.4 1006.6L1357.2 1005.6L1358.1 1007.7L1358.9 1009.7L1359.7 1015.8L1360.5 1007.7L1361.3 1001.5L1362.1 1009.7L1363 1005.6L1363.8 1007.7L1364.6 1001.5L1365.4 995.4L1366.2 989.3L1367 997.4L1367.9 1005.6L1368.7 997.4L1369.5 991.3L1370.3 989.3L1371.1 997.4L1371.9 1001.5L1372.8 993.4L1373.6 989.3L1374.4 993.4L1375.2 997.4L1376 991.3L1376.8 987.2L1377.7 995.4L1378.5 993.4L1379.3 989.3L1380.1 983.2L1380.9 981.1L1382.6 986.2L1384.2 981.1L1385 983.2L1385.8 995.4L1386.6 997.4L1387.4 1001.5L1388.3 1003.6L1389.1 1001.5L1389.9 1003.6L1390.7 1009.7L1391.5 1015.8L1392.3 1019.9L1393.2 1017.9L1394 1015.8L1394.8 1024L1395.6 1028.1L1396.4 1034.2L1397.2 1036.2L1398.1 1034.2L1398.9 1036.2L1399.7 1048.5L1400.5 1058.7L1401.3 1065.8L1402.1 1066.8L1403 1064.8L1403.8 1062.8L1404.6 1063.8L1405.4 1059.7L1406.2 1062.8L1407 1066.8L1407.9 1060.7L1408.7 1058.7L1409.5 1056.6L1410.3 1056.6L1411.1 1062.8L1411.9 1061.7L1412.8 1063.8L1413.6 1062.8L1414.4 1065.8L1415.2 1070.9L1416 1073L1416.8 1078.1L1417.7 1076L1418.5 1074L1419.3 1076L1420.1 1075L1420.9 1077L1421.7 1074L1422.6 1076L1423.4 1075L1424.2 1077L1425 1070.9L1425.5 1062.8L1426.3 1061.7L1427.1 1064.8L1428 1066.8L1428.8 1063.8L1429.6 1056.6L1430.4 1053.6L1431.2 1054.6L1432 1048.5L1432.9 1042.3L1433.7 1038.3L1434.5 1034.2L1435.3 1033.2L1436.1 1036.2L1436.9 1040.3L1437.8 1044.4L1438.6 1045.4L1439.4 1043.4L1440.2 1044.4L1441 1046.4L1441.8 1048.5L1442.7 1049.5L1443.5 1050.5L1444.3 1048.5L1445.1 1049.5L1445.9 1052.6L1446.7 1056.6L1447.6 1057.7L1448.4 1055.6L1449.2 1054.6L1450 1055.6L1450.8 1058.7L1451.6 1062.8L1452.4 1064.8L1453.3 1068.9L1454.1 1070.9L1454.9 1074L1455.7 1079.1L1456.5 1082.1L1457.3 1081.1L1458.2 1079.1L1459 1081.1L1459.8 1084.2L1460.6 1085.2L1461.4 1087.2L1462.2 1088.3L1463.1 1090.3L1463.9 1088.3L1464.7 1091.3L1465.5 1089.3L1466.3 1088.3L1467.1 1089.3L1468 1087.2L1468.8 1091.3L1469.6 1095.4L1470.4 1097.4L1471.2 1096.4L1472 1098.5L1472.9 1100.5L1473.7 1099.5L1474.5 1106.6L1475.3 1103.6L1476.1 1100.5L1476.9 1098.5L1477.8 1099.5L1478.6 1093.4L1479.4 1085.2L1480.2 1079.1L1481 1076L1481.8 1077L1482.7 1073L1483.5 1058.7L1484.3 1044.4L1485.1 1032.1L1485.9 1026L1486.7 1024L1487.6 1026L1488.4 1013.8L1489.2 1001.5L1490 995.4L1490.8 993.4L1491.6 994.4L1492.4 991.3L1493.3 988.3L1494.1 984.2L1494.9 983.2L1495.7 979.1L1496.5 977L1497.3 981.1L1498.2 975L1499 970.9L1499.8 971.9L1500.6 969.9L1501.4 975L1502.2 973L1503.1 970.9L1503.9 966.8L1504.7 975L1505.5 981.1L1506.3 989.3L1507.1 997.4L1508 1001.5L1508.8 999.5L1509.6 1005.6L1510.4 1011.7L1511.2 1017.9L1512 1024L1512.9 1026L1513.7 1025L1514.5 1028.1L1515.3 1032.1L1516.1 1038.3L1516.9 1044.4L1517.8 1050.5L1518.6 1054.6L1519.4 1052.6L1520.2 1056.6L1521 1062.8L1521.8 1068.9L1522.7 1079.1L1523.5 1081.1L1524.3 1083.2L1525.1 1087.2L1525.9 1093.4L1526.7 1097.4L1527.6 1098.5L1528.4 1097.4L1529.2 1099.5L1530 1101.5L1530.8 1103.6L1531.6 1102.6L1532.4 1101.5L1533.3 1105.6L1534.1 1103.6L1534.9 1107.7L1535.7 1109.7L1536.5 1111.7L1537.3 1109.7L1538.2 1107.7L1539 1112.8L1539.8 1114.8L1540.6 1109.7L1541.4 1103.6L1542.2 1099.5L1543.1 1101.5L1543.9 1098.5L1544.7 1099.5L1545.5 1091.3L1546.3 1083.2L1547.1 1075L1548 1066.8L1548.8 1060.7L1549.6 1061.7L1550.4 1054.6L1551.2 1046.4L1552 1042.3L1552.9 1040.3L1553.7 1041.3L1554.5 1040.3L1555.3 1038.3L1556.1 1037.2L1556.9 1041.3L1557.8 1039.3L1558.6 1040.3L1559.4 1038.3L1560.2 1039.3L1561 1041.3L1561.8 1040.3L1562.7 1044.4L1563.5 1042.3L1564.3 1040.3L1565.1 1041.3L1565.9 1038.3L1566.7 1040.3L1567.6 1044.4L1568.4 1048.5L1569.2 1052.6L1570 1056.6L1570.8 1059.7L1571.6 1058.7L1572.4 1060.7L1573.3 1064.8L1574.1 1068.9L1574.9 1070.9L1575.7 1069.9L1576.5 1070.9L1577.3 1069.9L1578.2 1071.9L1579 1070.9L1579.8 1071.9L1580.6 1070.9L1581.4 1073L1582.2 1070.9L1583.1 1071.9L1583.9 1073L1584.7 1075L1585.5 1079.1L1586.3 1081.1L1587.1 1083.2L1588 1082.1L1588.8 1084.2L1590 1085.2L1590.7 1087.2L1591.5 1084.2L1592.3 1082.1L1593.1 1085.2L1593.9 1083.2L1594.8 1084.2L1595.6 1079.1L1596.4 1073L1597.2 1066.8L1598 1062.8L1598.8 1066.8L1599.7 1060.7L1600.5 1062.8L1601.3 1056.6L1602.1 1052.6L1602.9 1050.5L1603.7 1054.6L1604.6 1049.5L1605.4 1051.5L1606.2 1048.5L1607 1047.4L1607.8 1044.4L1608.6 1040.3L1609.4 1036.2L1610.3 1032.1L1611.1 1026L1611.9 1021.9L1612.7 1015.8L1613.5 1011.7L1614.3 1005.6L1615.2 999.5L1616 995.4L1616.8 997.4L1617.6 1001.5L1618.4 1007.7L1619.2 999.5L1620.1 1005.6L1620.9 1002.6L1621.7 1004.6L1622.5 1012.8L1623.3 1005.6L1624.1 1003.6L1625.4 1006.9L1626.6 1004.6L1627.8 1008.4L1629 1005.6L1629.9 1009.7L1630.7 1011.7L1631.5 1015.8L1632.3 1017.9L1633.1 1021.9L1633.9 1028.1L1634.8 1036.2L1635.6 1042.3L1636.4 1048.5L1637.2 1054.6L1638 1052.6L1638.8 1050.5L1639.7 1048.5L1640.5 1052.6L1641.3 1055.6L1642.1 1050.5L1642.9 1054.6L1643.7 1050.5L1644.6 1056.6L1645.4 1058.7L1646.2 1063.8L1647 1060.7L1647.8 1058.7L1649 1063.3L1650.3 1060.7L1651.5 1066.3L1652.7 1062.8L1653.5 1064.8L1654.3 1066.8L1655.2 1068.9L1656.8 1059.7L1658.4 1062.8L1660.1 1053.6L1661.7 1056.6L1662.5 1048.5L1663.3 1044.4L1664.1 1052.6L1665 1050.5L1665.8 1053.6L1666.6 1046.4L1667.4 1040.3L1668.2 1034.2L1669 1028.1L1669.9 1026L1670.7 1032.1L1671.5 1021.9L1672.3 1013.8L1673.1 1009.7L1673.9 1007.7L1674.8 1011.7L1675.6 1001.5L1676.4 993.4L1677.2 987.2L1678 985.2L1678.8 984.2L1679.7 987.2L1680.5 989.3L1681.3 981.1L1682.1 975L1682.9 970.9L1683.7 975L1684.6 981.1L1685.4 973L1686.2 966.8L1687 962.8L1687.8 964.8L1688.6 968.9L1689.4 973L1690.3 966.8L1691.1 960.7L1691.9 956.6L1692.7 954.6L1693.5 962.8L1694.3 964.8L1695.2 962.8L1696 966.8L1696.8 968.9L1697.6 977L1698.4 970.9L1699.2 964.8L1700.1 958.7L1700.9 954.6L1701.7 952.6L1702.5 968.9L1703.3 962.8L1704.1 956.6L1705 952.6L1705.8 948.5L1706.6 947.4L1707.4 973L1708.2 977L1709 970.9L1709.9 966.8L1710.7 962.8L1711.5 973L1712.3 985.2L1713.1 993.4L1713.9 989.3L1714.8 985.2L1715.6 997.4L1716.4 1005.6L1717.2 1009.7L1718 1007.7L1718.8 1003.6L1719.7 1011.7L1720.5 1019.9L1721.3 1011.7L1722.1 1005.6L1722.9 1003.6L1723.7 1007.7L1724.6 1015.8L1725.4 1009.7L1726.2 1005.6L1727 1001.5L1727.8 1005.6L1728.6 1003.6L1729.4 1009.7L1730.3 1001.5L1731.1 997.4L1731.9 999.5L1732.7 995.4L1733.5 1001.5L1734.3 1005.6L1735.2 997.4L1736 989.3L1736.8 987.2L1737.6 986.2L1738.4 987.2" fill="none" stroke="#0c0c0c" stroke-width="1.3" stroke-linejoin="round"/>
<path d="M1407.7 877.4L1408.4 915.8M1408.7 933.8L1409.5 979.5M1409.8 997.9L1410.6 1044.0M1410.9 1061.7L1411.7 1107.7" fill="none" stroke="#0a72c4" stroke-width="5.8"/>
<text transform="translate(1285.2 935.2) scale(0.937 1)" font-size="30.6" font-weight="bold" text-anchor="middle" fill="#e2590c" stroke="#e2590c" stroke-width="0.45" font-family='"Liberation Sans", sans-serif'>A</text>
<text transform="translate(1465.5 938.3) scale(0.833 1)" font-size="30.0" font-weight="bold" text-anchor="middle" fill="#e2590c" stroke="#e2590c" stroke-width="0.45" font-family='"Liberation Sans", sans-serif'>B</text>
<clipPath id="clP1"><rect x="627.4" y="56.0" width="514.8" height="232.8"/></clipPath>
<path d="M627.1 125.6L627.8 190.9L628.2 231.7L628.8 233.7L629.4 227.6L630 221.5L630.6 231.7L631.2 217.4L631.6 209.2L632 223.5L632.7 231.7L633.3 229.6L633.9 235.8L634.5 237.8L635.1 231.7L635.7 225.6L636.1 190.9L636.5 172.5L636.9 201.1L637.3 207.2L637.8 221.5L638.2 227.6L638.6 223.5L639 211.3L639.4 221.5L639.8 199L640.2 184.7L640.6 207.2L641 186.8L641.4 203.1L641.8 190.9L642.2 163.3L642.7 194.9L643.1 203.1L643.5 188.8L643.9 207.2L644.3 188.8L644.7 211.3L645.1 217.4L645.7 215.3L646.3 223.5L646.9 231.7L647.6 235.8L648.2 239.8L648.8 243.9L649.2 233.7L649.6 246L650 250L650.6 252.1L651.2 233.7L651.8 252.1L652.4 250L653.1 252.1L653.7 250L654.3 252.1L654.9 248L655.5 247L656.1 243.9L656.7 237.8L657.3 231.7L657.8 175.6L658.2 211.3L658.6 235.8L659 223.5L659.4 235.8L659.8 217.4L660.2 231.7L660.6 219.4L661 237.8L661.4 221.5L661.8 235.8L662.2 227.6L662.7 235.8L663.1 231.7L663.5 211.3L663.9 170.4L664.3 150L664.7 190.9L665.1 231.7L665.5 233.7L665.9 223.5L666.3 231.7L666.7 205.1L667.1 217.4L667.6 231.7L668 221.5L668.4 231.7L668.8 211.3L669.2 187.8L669.6 203.1L670 188.8L670.4 211.3L670.8 217.4L671.2 225.6L671.6 217.4L672 201.1L672.4 190.9L672.9 172.5L673.3 150L673.7 133.3L674.1 170.4L674.5 199L674.9 203.1L675.3 207.2L675.7 217.4L676.1 209.2L676.5 217.4L676.9 207.2L677.3 219.4L677.8 209.2L678.2 219.4L678.6 207.2L679 217.4L679.4 211.3L679.8 217.4L680.2 213.3L680.6 219.4L681 215.3L681.4 217.4L681.8 221.5L682.2 225.6L682.7 229.6L683.1 235.8L683.5 239.8L683.9 243.9L684.3 250L684.7 252.1L685.1 237.8L685.5 221.5L685.9 237.8L686.3 252.1L686.7 256.2L687.1 258.2L687.6 262.3L688 264.3L688.4 260.2L688.8 248L689.2 243.9L689.6 231.7L690 228.6L690.4 241.9L690.8 248L691.2 246L691.6 247L692 243.9L692.4 247L692.9 241.9L693.3 246L693.7 239.8L694.1 244.9L694.5 241.9L694.9 243.9L695.3 239.8L695.7 241.9L696.1 233.7L696.5 241.9L696.9 237.8L697.3 241.9L697.8 231.7L698.2 221.5L698.6 231.7L699 241.9L699.4 237.8L699.8 243.9L700.2 239.8L700.6 231.7L701 201.1L701.4 190.9L701.8 170.4L702.2 143.5L702.7 170.4L703.1 203.1L703.5 221.5L703.9 231.7L704.3 235.8L704.7 239.8L705.1 243.9L705.5 246L705.9 248L706.5 250L707.1 252.1L707.8 253.1L708.4 252.1L708.8 248L709.2 241.9L709.6 231.7L710 225.6L710.4 231.7L710.8 221.5L711.2 199L711.6 215.3L712 187.8L712.4 211.3L712.9 190.9L713.3 209.2L713.7 190.9L714.1 217.4L714.5 194.9L714.9 221.5L715.3 199L715.7 211.3L716.1 221.5L716.5 203.1L716.9 215.3L717.3 221.5L717.8 194.9L718.2 186.8L718.6 211.3L719 221.5L719.4 225.6L719.8 219.4L720.2 227.6L720.6 231.7L721 237.8L721.4 243.9L721.8 252.1L722.2 260.2L722.9 262.3L723.5 263.3L723.9 260.2L724.3 231.7L724.7 209.2L725.1 231.7L725.5 252.1L725.9 260.2L726.3 235.8L726.7 252.1L727.1 260.2L727.6 252.1L728 246L728.4 252.1L728.8 260.2L729.2 264.3L729.6 260.2L730 258.2L730.4 262.3L730.8 260.2L731.2 250L731.6 256.2L732 250L732.4 254.1L732.9 258.2L733.3 257.2L733.7 258.2L734.1 257.2L734.5 258.2L734.9 256.2L735.3 257.2L735.7 231.7L736.1 178.6L736.5 211.3L736.9 243.9L737.3 221.5L737.8 243.9L738.2 231.7L738.6 211.3L739 170.4L739.4 129.6L739.8 106.2L740.2 106.2L740.6 162.3L741 211.3L741.4 231.7L741.8 243.9L742.2 239.8L742.7 248L743.1 246L743.5 247L743.9 231.7L744.3 211.3L744.7 176.2L745.1 176.6L745.5 211.3L745.9 243.9L746.3 239.8L746.7 246L747.1 241.9L747.6 247L748 243.9L748.4 246L748.8 244.9L749.2 246L749.6 231.7L750 190.9L750.4 177L750.8 190.9L751.2 221.5L751.6 231.7L752 221.5L752.4 231.7L752.9 225.6L753.3 235.8L753.7 231.7L754.1 239.8L754.5 229.6L754.9 241.9L755.3 231.7L755.7 239.8L756.1 227.6L756.5 237.8L756.9 221.5L757.3 190.9L757.8 154.1L758.2 190.9L758.6 203.1L759 211.3L759.4 205.1L759.8 217.4L760.2 203.1L760.6 221.5L761 227.6L761.4 231.7L761.8 239.8L762.2 248L762.7 256.2L763.1 262.3L763.5 265.3L763.9 262.3L764.3 264.3L764.7 252.1L765.1 262.3L765.5 246L765.9 236.8L766.3 252.1L766.7 260.2L767.1 252.1L767.6 258.2L768 252.1L768.4 256.2L768.8 252.1L769.2 255.1L769.6 250L770 254.1L770.4 250L770.8 252.1L771.2 248L771.6 250L772 239.8L772.4 248L772.9 239.8L773.3 243.9L773.7 231.7L774.1 243.9L774.5 231.7L774.9 221.5L775.3 241.9L775.7 231.7L776.1 239.8L776.5 221.5L776.9 209.2L777.3 221.5L777.8 211.3L778.2 239.8L778.6 231.7L779 211.3L779.4 239.8L779.8 219.4L780.2 235.8L780.6 231.7L781 215.3L781.4 237.8L781.8 241.9L782.2 190.9L782.7 145.6L783.1 190.9L783.5 217.4L783.9 190.9L784.3 181.7L784.7 211.3L785.1 221.5L785.5 190.9L785.9 183.7L786.3 223.5L786.7 211.3L787.1 194.9L787.6 188.8L788 211.3L788.4 190.9L788.8 205.1L789.2 203.1L789.6 211.3L790 219.4L790.4 225.6L790.8 211.3L791.2 207.2L791.6 201.1L792 190.9L792.4 211.3L792.9 171.5L793.3 194.9L793.7 211.3L794.1 211.3L794.7 221.5L795.3 227.6L795.9 231.7L796.5 235.8L797.1 243.9L797.8 252.1L798.4 258.2L799 260.2L799.6 261.3L800.2 261.3L800.8 260.2L801.4 261.3L802 252.1L802.4 240.9L802.9 252.1L803.3 260.2L803.9 260.7L804.5 260.2L805.1 252.1L805.5 241.9L805.9 252.1L806.3 260.2L806.9 259.8L807.6 260.7L808.2 259.2L808.8 260.2L809.4 260.7L810 259.8L810.6 260.2L811.2 252.1L811.6 234.7L812 243.9L812.4 258.2L813.1 259.2L813.7 258.2L814.3 257.2L814.9 255.1L815.5 252.1L816.1 248L816.5 231.7L816.9 170.4L817.3 139.4L817.8 190.9L818.2 231.7L818.6 249L819 235.8L819.4 243.9L819.8 237.8L820.2 211.3L820.6 194.9L821 231.7L821.4 243.9L821.8 235.8L822.2 241.9L822.7 231.7L823.1 239.8L823.5 211.3L823.9 187.4L824.3 211.3L824.7 231.7L825.1 221.5L825.5 237.8L825.9 223.5L826.3 235.8L826.7 219.4L827.1 231.7L827.6 219.4L828 209.2L828.4 223.5L828.8 209.2L829.2 221.5L829.6 207.2L830 197L830.4 211.3L830.8 217.4L831.2 221.5L831.6 227.6L832 231.7L832.4 237.8L832.9 243.9L833.3 250L833.7 256.2L834.1 260.2L834.5 264.3L834.9 268.4L835.3 252.1L835.7 272.5L836.1 274.5L836.5 270.4L836.9 276.6L837.3 272.5L837.8 252.1L838.2 242.9L838.6 262.3L839 280.7L839.6 282.3L840.2 280.7L840.6 262.3L841 276.6L841.4 268.4L841.8 274.5L842.2 270.4L842.7 272.5L843.1 262.3L843.5 252.1L843.9 242.9L844.3 260.2L844.7 270.4L845.1 264.3L845.5 268.4L845.9 262.3L846.3 266.4L846.7 260.2L847.1 252.1L847.6 241.9L848 231.7L848.4 243.9L848.8 231.7L849.2 190.9L849.6 129.6L850 107.8L850.4 170.4L850.8 231.7L851.2 243.9L851.6 237.8L852 231.7L852.4 243.9L852.9 239.8L853.3 252.1L853.7 248L854.1 231.7L854.5 223.5L854.9 231.7L855.3 243.9L855.7 231.7L856.1 219.4L856.5 211.3L856.9 190.9L857.3 158.2L857.8 190.9L858.2 158.2L858.6 211.3L859 158.2L859.4 109.2L859.8 94.9L860.2 150L860.6 170.4L861 221.5L861.4 170.4L861.8 211.3L862.2 190.9L862.7 223.5L863.1 194.9L863.5 221.5L863.9 199L864.3 223.5L864.7 207.2L865.1 223.5L865.5 203.1L865.9 190.9L866.3 211.3L866.7 223.5L867.1 203.1L867.6 221.5L868 205.1L868.4 223.5L868.8 211.3L869.2 221.5L869.6 207.2L870 190.9L870.4 179.2L870.8 211.3L871.2 223.5L871.6 227.6L872 231.7L872.4 235.8L872.9 239.8L873.3 243.9L873.7 248L874.1 252.1L874.5 256.2L874.9 260.2L875.3 264.3L875.7 268.4L876.1 270.4L876.5 272.5L876.9 274.5L877.3 264.3L877.8 242.9L878.2 264.3L878.6 275.6L879.2 276.2L879.8 275.6L880.4 274.5L881 272.5L881.6 268.4L882.2 264.3L882.9 265.3L883.5 264.3L884.1 262.3L884.7 260.2L885.3 256.2L885.9 252.1L886.3 258.2L886.7 260.2L887.1 258.2L887.6 262.3L888 260.2L888.4 264.3L888.8 262.3L889.2 265.3L889.6 264.3L890 263.3L890.4 262.3L890.8 261.3L891.2 260.2L891.6 262.3L892 261.3L892.4 258.2L892.9 252.1L893.3 231.7L893.7 223.5L894.1 243.9L894.5 223.5L894.9 252.1L895.3 221.5L895.7 190.9L896.1 175.6L896.5 190.9L896.9 188.8L897.3 211.3L897.8 231.7L898.2 252.1L898.6 211.3L899 203.1L899.4 231.7L899.8 248L900.2 231.7L900.6 150L901 91.5L901.4 150L901.8 194.9L902.2 221.5L902.7 194.9L903.1 211.3L903.5 221.5L903.9 225.6L904.3 211.3L904.7 231.7L905.1 221.5L905.5 225.6L905.9 211.3L906.3 198L906.7 211.3L907.1 225.6L907.6 215.3L908 227.6L908.4 221.5L908.8 231.7L909.2 235.8L909.6 239.8L910 246L910.4 252.1L910.8 256.2L911.2 260.2L911.6 264.3L912 268.4L912.4 272.5L912.9 276.6L913.5 280.7L914.1 283.7L914.7 285.8L915.3 286.4L915.9 285.8L916.5 286.4L917.1 285.8L917.8 284.7L918.4 280.7L919 276.6L919.6 272.5L920 256.2L920.4 248L920.8 260.2L921.2 268.4L921.6 264.3L922 260.2L922.4 252.1L922.9 256.2L923.3 260.2L923.7 252.1L924.1 231.7L924.5 211.3L924.9 202.1L925.3 211.3L925.7 209.2L926.1 231.7L926.5 221.5L926.9 243.9L927.3 239.8L927.8 252.1L928.2 246L928.6 248L929 252.1L929.4 250L929.8 254.1L930.2 252.1L930.6 258.2L931 254.1L931.4 260.2L931.8 252.1L932.2 259.2L932.7 254.1L933.1 260.2L933.5 252.1L933.9 259.2L934.3 260.2L934.7 231.7L935.1 150L935.5 105.8L935.9 170.4L936.3 231.7L936.7 221.5L937.1 231.7L937.6 190.9L938 157.2L938.4 211.3L938.8 158.2L939.2 231.7L939.6 241.9L940 205.1L940.4 231.7L940.8 211.3L941.2 227.6L941.6 215.3L942 211.3L942.4 225.6L942.9 215.3L943.3 223.5L943.7 215.3L944.1 225.6L944.5 217.4L944.9 227.6L945.3 215.3L945.7 231.7L946.1 217.4L946.5 231.7L946.9 231.7L947.3 237.8L947.8 243.9L948.2 252.1L948.6 260.2L949 266.4L949.4 270.4L949.8 274.5L950.2 278.6L950.6 281.7L951 284.7L951.4 273.5L951.8 282.7L952.2 274.5L952.7 283.7L953.1 284.7L953.5 282.7L953.9 283.7L954.3 284.7L954.7 280.7L955.1 278.6L955.5 276.6L956.1 274.5L956.7 272.5L957.3 271.5L958 269.4L958.6 268.4L959.2 267.4L959.8 264.3L960.4 262.3L961 256.2L961.6 262.3L962 252.1L962.4 260.2L962.9 231.7L963.3 215.3L963.7 231.7L964.1 188.4L965 188.4L965.4 231.7L965.8 248L966.2 252.1L966.8 256.2L967.4 258.2L968.1 260.2L968.7 261.3L969.3 262.3L969.9 263.3L970.5 264.3L971.1 263.9L971.7 264.3L972.3 260.2L972.8 231.7L973.2 217.4L973.6 231.7L974 243.9L974.4 231.7L974.8 227.6L975.2 243.9L975.6 229.6L976 239.8L976.4 231.7L976.8 243.9L977.2 250L977.7 241.9L978.1 252.1L978.5 243.9L978.9 252.1L979.3 246L979.7 239.8L980.1 250L980.5 243.9L980.9 254.1L981.3 231.7L981.7 243.9L982.1 252.1L982.6 229.6L983 252.1L983.4 230.7L983.8 248L984.2 231.7L984.6 218.4L985 243.9L985.4 229.6L985.8 252.1L986.2 243.9L986.6 229.6L987 262.3L987.4 260.2L987.9 264.3L988.3 252.1L988.7 230.7L989.1 266.4L989.5 258.2L989.9 272.5L990.3 262.3L990.7 280.7L991.1 272.5L991.5 283.7L991.9 278.6L992.3 258.2L992.8 274.5L993.2 260.2L993.6 272.5L994 264.3L994.4 260.2L994.8 256.2L995.2 252.1L995.6 231.7L996 190.9L996.4 167L996.8 190.9L997.2 211.3L997.7 231.7L998.1 256.2L998.5 248L998.9 231.7L999.3 213.3L999.7 231.7L1000.1 252.1L1000.5 239.8L1000.9 256.2L1001.3 243.9L1001.7 260.2L1002.1 252.1L1002.6 258.2L1003 260.2L1003.4 256.2L1003.8 250L1004.2 260.2L1004.6 252.1L1005 264.3L1005.4 260.2L1005.8 265.3L1006.2 258.2L1006.6 252.1L1007 242.9L1007.4 252.1L1007.9 264.3L1008.3 260.2L1008.7 252.1L1009.1 264.3L1009.5 254.1L1009.9 260.2L1010.3 252.1L1010.7 260.2L1011.1 254.1L1011.5 260.2L1011.9 252.1L1012.3 259.2L1012.8 254.1L1013.2 260.2L1013.6 252.1L1014 262.3L1014.4 252.1L1014.8 231.7L1015.2 217.4L1015.6 223.5L1016 231.7L1016.4 227.6L1016.8 243.9L1017.2 229.6L1017.7 241.9L1018.1 248L1018.5 252.1L1018.9 239.8L1019.3 252.1L1019.7 243.9L1020.1 231.7L1020.5 227.6L1020.9 243.9L1021.3 252.1L1021.7 260.2L1022.1 264.3L1022.6 268.4L1023 271.5L1023.6 272.5L1024.2 272.1L1024.8 272.5L1025.4 272.1L1026 271.5L1026.4 252.1L1026.8 242.9L1027.4 242.3L1028.3 241.9L1029.3 242.3L1030.3 241.9L1031.3 242.3L1032.3 241.9L1033.4 242.3L1033.8 252.1L1034.2 271.5L1034.8 272.5L1035.4 272.9L1036 272.5L1036.4 260.2L1036.8 254.1L1037.2 268.4L1037.7 269.4L1038.1 268.4L1038.5 264.3L1038.9 260.2L1039.3 252.1L1039.7 231.7L1040.1 215.3L1040.5 170.4L1040.9 153.5L1041.3 190.9L1041.7 217.4L1042.1 231.7L1042.6 239.8L1043 243.9L1043.4 248L1043.8 252.1L1044.2 254.1L1044.6 256.2L1045 252.1L1045.4 250L1045.8 252.1L1046.2 243.9L1046.6 231.7L1047 190.9L1047.4 183.7L1047.9 211.3L1048.3 235.8L1048.7 221.5L1049.1 231.7L1049.5 235.8L1049.9 231.7L1050.3 235.8L1050.7 229.6L1051.1 233.7L1051.5 227.6L1051.9 231.7L1052.3 229.6L1052.8 243.9L1053.2 231.7L1053.6 227.6L1054 223.5L1054.4 219.4L1054.8 211.3L1055.2 203.1L1055.6 221.5L1056 207.2L1056.4 223.5L1056.8 203.1L1057.2 227.6L1057.7 192.9L1058.1 211.3L1058.5 227.6L1058.9 192.9L1059.3 211.3L1059.7 221.5L1060.1 227.6L1060.5 215.3L1060.9 223.5L1061.3 231.7L1061.7 227.6L1062.1 237.8L1062.6 231.7L1063 243.9L1063.4 239.8L1063.8 252.1L1064.2 243.9L1064.6 262.3L1065 248L1065.4 264.3L1065.8 243.9L1066.2 260.2L1066.6 252.1L1067 264.3L1067.4 260.2L1067.9 264.3L1068.3 268.4L1068.7 270.4L1069.1 266.4L1069.5 262.3L1069.9 258.2L1070.3 260.2L1070.7 258.2L1071.1 256.2L1071.5 254.1L1071.9 252.1L1072.3 248L1072.8 243.9L1073.2 231.7L1073.6 239.8L1074 243.9L1074.4 231.7L1074.8 252.1L1075.2 243.9L1075.6 252.1L1076 231.7L1076.4 214.3L1076.8 231.7L1077.2 243.9L1077.7 250L1078.1 252.1L1078.5 254.1L1078.9 256.2L1079.3 258.2L1079.7 260.2L1080.1 261.3L1080.5 262.3L1080.9 261.3L1081.3 262.3L1081.7 263.3L1082.1 262.3L1082.6 263.3L1083 264.3L1083.4 263.3L1083.8 264.3L1084.2 262.3L1084.6 264.3L1085 260.2L1085.4 255.1L1085.8 262.3L1086.2 264.3L1086.6 265.3L1087 266.4L1087.4 267.4L1087.9 268.4L1088.3 267.4L1088.7 266.4L1089.1 262.3L1089.5 252.1L1089.9 243.9L1090.3 231.7L1090.7 192.9L1091.1 211.3L1091.5 205.1L1091.9 231.7L1092.3 221.5L1092.8 246L1093.2 231.7L1093.6 243.9L1094 235.8L1094.4 231.7L1094.8 239.8L1095.2 231.7L1095.6 211.3L1096 180.7L1096.4 165.3L1096.8 211.3L1097.2 231.7L1097.7 239.8L1098.1 211.3L1098.5 195.3L1098.9 231.7L1099.3 239.8L1099.7 231.7L1100.1 241.9L1100.5 243.9L1100.9 248L1101.3 252.1L1101.7 268.4L1102.1 241.9L1102.6 252.1L1103 272.5L1103.4 282.7L1104 283.1L1104.6 283.7L1105.2 283.1L1105.8 283.7L1106.4 284.3L1107 283.7L1107.7 284.3L1108.3 283.7L1108.7 272.5L1109.1 252.1L1109.5 242.9L1109.9 260.2L1110.3 268.4L1110.7 260.2L1111.1 264.3L1111.5 252.1L1111.9 262.3L1112.3 258.2L1112.8 231.7L1113.2 182.7L1113.6 211.3L1114 181.7L1114.4 231.7L1114.8 256.2L1115.2 211.3L1115.6 168L1116 168.4L1116.4 211.3L1116.8 243.9L1117.2 252.1L1117.7 260.2L1118.1 262.3L1118.5 260.2L1118.9 256.2L1119.3 258.2L1119.7 257.2L1120.1 256.2L1120.5 260.2L1120.9 258.2L1121.3 262.3L1121.7 260.2L1122.1 264.3L1122.6 262.3L1123 263.3L1123.4 261.3L1123.8 260.2L1124.2 256.2L1124.6 252.1L1125 248L1125.4 243.9L1125.8 237.8L1126.2 231.7L1126.6 211.3L1127 163.3L1127.4 190.9L1127.9 211.3L1128.3 225.6L1128.7 217.4L1129.1 227.6L1129.5 221.5L1129.9 231.7L1130.3 223.5L1130.7 231.7L1131.1 225.6L1131.5 233.7L1131.9 227.6L1132.3 217.4L1132.8 216.4L1133.2 227.6L1133.6 231.7L1134 235.8L1134.4 239.8L1134.8 243.9L1135.2 248L1135.6 252.1L1136 256.2L1136.4 260.2L1136.8 263.3L1137.2 265.3L1137.7 267.4L1138.1 268.4L1138.5 269.4L1139.1 270.4L1139.7 271.5L1140.3 272.5L1140.9 272.9L1141.5 273.5L1142.1 273.5" fill="none" stroke="#0b80cf" stroke-width="1.5" clip-path="url(#clP1)" stroke-linejoin="miter" stroke-miterlimit="3"/>
<path d="M643.6 501L644.8 494.9L646 504.1L647.2 499L648.5 506.1L649.7 501L650.9 507.1L652.1 502L653.4 508.2L654.6 510.2L655.8 505.1L657 507.1L658.3 502L659.5 494.9L660.7 486.7L661.9 489.8L663.2 488.8L664.4 496.9L665.6 503.1L666.8 500L668.1 507.1L669.3 503.1L670.5 495.9L671.7 499L673 480.6L673.8 476.5L674.6 484.7L675.4 472.4L676.2 462.2L677 457.1L677.9 461.2L678.7 455.1L679.5 458.2L680.3 454.1L681.1 450L682.8 461.2L684.4 455.1L686 463.8L687.7 461.2L688.5 468.4L689.3 472.4L690.1 470.4L690.9 476.5L691.7 482.7L692.6 488.8L693.4 484.7L694.2 489.8L695.4 486.7L696.6 490.8L697.9 488.8L699.1 496.9L700.3 501L701.5 508.2L702.8 515.3L704 518.4L705.2 525.5L706.4 523.5L707.7 526.5L708.9 522.4L709.7 513.3L710.9 511.2L712.1 507.1L713.4 506.1L714.6 510.2L715.8 512.2L717 511.2L718.3 519.4L719.5 521.4L720.7 525.5L721.9 529.6L723.2 531.6L724.4 534.7L725.6 533.7L726.8 537.8L728.1 534.7L729.3 535.7L730.1 525.5L730.9 533.7L731.7 529.6L733 536.7L734.2 534.7L735.4 539.8L736.6 542.9L737.9 544.9L739.1 550L740.3 553.1L741.5 555.1L742.8 557.1L744 556.1L745.2 552L746.4 548L747.7 541.8L748.9 537.8L750.1 529.6L751.3 527.6L752.6 523.5L753.8 519.4L755 513.3L756.2 507.1L757.4 503.1L758.7 498L759.9 500L761.1 494.9L761.9 496.9L762.8 488.8L763.6 499L764.8 492.9L765.6 484.7L766.8 480.6L767.7 472.4L768.7 466.3L769.7 463.3L770.7 468.4L771.7 470.4L772.8 474.5L773.8 482.7L774.8 492.9L775.8 500L776.8 503.1L777.9 505.1L779.1 507.6L780.3 506.1L781.5 508.2L782.8 505.1L784 503.1L785.2 502L786.4 492.9L787.7 482.7L789.3 479.6L790.9 478.6L792.1 480.6L793.4 482.7L794.6 480.6L795.8 484.7L797 488.8L798.3 484.7L799.5 478.6L800.3 466.3L801.1 456.1L801.9 443.9L802.8 437.8L803.6 427.6L804.4 407.1L805.2 392.9L806 389.8L806.8 401L807.7 419.4L808.5 439.8L809.3 458.2L810.1 476.5L810.9 490.8L811.7 501L812.6 507.1L813.8 513.3L815 511.2L815.6 508.2L816.8 515.3L818.1 509.2L819.3 504.1L820.5 506.1L821.7 505.1L823 509.2L824.2 511.2L825.4 513.3L826.6 516.3L827.9 519.4L829.1 525.5L830.3 531.6L831.5 535.7L832.8 539.8L834 543.9L835.2 549L836.4 552L837.7 553.1L838.9 554.1L840.1 553.1L841.3 554.1L842.6 553.1L843.8 556.1L845 557.1L846.2 558.2L847.4 559.8L848.7 559.8L849.9 558.6L851.1 556.1L852.3 553.1L853.6 548L854.8 542.9L856 537.8L857.2 532.7L858.5 525.5L859.7 517.3L860.9 507.1L862.1 494.9L863.4 482.7L864.6 470.4L865.8 458.2L867 457.1L867.9 460.2L868.7 453.1L869.5 464.3L870.3 474.5L871.1 482.7L871.9 488.8L872.8 496.9L873.6 505.1L874.4 515.3L875.2 517.3L876 515.3L876.8 525.5L877.7 517.3L878.5 509.2L879.3 505.1L880.1 509.2L880.9 511.2L881.7 509.2L882.6 519.4L883.4 525.5L884.2 529.6L885 531.6L885.8 534.7L886.6 537.8L887.9 538.8L889.1 535.7L890.3 538.8L891.5 535.7L892.8 539.8L894 541.8L895.2 535.7L896.4 536.7L897.7 533.7L898.9 523.5L900.1 513.3L901.3 505.1L902.6 494.9L903.8 490.8L905 493.9L906.2 490.3L907.4 500L908.7 499L909.5 507.1L910.3 515.3L911.1 519.4L912.8 512.2L914.4 521.4L916 514.8L917.7 523.5L919.3 515.8L920.9 524.5L922.6 515.3L924.2 521.4L925.8 512.2L927.4 520.4L929.1 509.2L930.7 519.4L932.3 512.2L934 520.4L934.8 513.3L935.6 503.1L936.6 511.2L937.7 505.1L938.9 501L940.1 496.9L941.3 492.9L942.6 488.8L943.8 480.6L945 472.4L946.2 478.6L947.4 470.4L948.7 460.2L949.5 452L950.3 460.2L951.1 450L951.9 437.8L952.8 452L953.6 458.2L954.4 454.1L955.2 464.3L956 472.4L956.8 476.5L958.2 471.1L959.6 479.9L960.9 462.2L961.7 472.4L962.6 480.6L963.4 464.3L964.2 482.7L965 468.4L965.8 480.6L966.6 484.7L968.3 471.4L969.9 478.6L970.7 472.4L971.5 466.3L972.3 470.4L973.2 462.2L974 454.1L975.6 462.2L977.2 452L978.9 470.4L980.5 466.3L982.1 475.5L983.8 466.3L985 472.4L986 465.3L987.2 468.4L988.5 461.2L989.7 466.3L990.9 462.2L992.1 468.4L993.4 463.3L994.6 470.4L995.8 460.2L997 472.4L998.3 476.5L999.5 480.6L1000.7 478.6L1001.9 484.7L1003.2 488.8L1004.4 496.9L1005.6 505.1L1006.8 509.2L1008.1 513.3L1009.3 517.3L1010.5 520.4L1011.7 523.5L1013 517.3L1014.2 513.3L1015.4 519.4L1016.6 507.1L1017.9 513.3L1019.1 503.1L1020.3 509.2L1021.5 501L1022.8 508.2L1023.6 496.9L1024.8 509.2L1026 502L1027.2 510.2L1028.5 503.1L1029.7 511.2L1030.9 501L1032.1 511.2L1033.4 499L1034.6 492.9L1035.8 482.7L1037 474.5L1038.3 468.4L1039.5 460.2L1040.7 452L1041.9 448L1043.2 441.8L1044.4 445.9L1045.6 435.7L1046.8 439.8L1048.1 431.6L1049.3 427.6L1050.1 419.4L1050.9 421.4L1051.7 413.3L1052.6 408.2L1053.4 417.3L1054.2 425.5L1055 421.4L1055.8 427.6L1056.6 435.7L1057.4 441.8L1058.3 448L1059.4 443.9L1060.6 452.4L1061.7 450L1062.8 461L1064 456.1L1064.8 466.3L1065.6 472.4L1066.4 480.6L1067.2 478.6L1068.1 486.7L1068.9 490.8L1069.7 496.9L1071.3 492.9L1073 503.1L1073.8 496.9L1074.6 493.9L1075.4 505.1L1076.2 509.2L1077 507.1L1077.9 513.3L1078.7 519.4L1080.3 518.4L1081.9 529.6L1082.8 524.5L1083.6 519.4L1085.2 522.4L1086.8 513.3L1088.5 520.4L1090.1 515.3L1090.9 519.4L1091.7 525.5L1093 512.7L1094.3 518.2L1095.6 507.7L1096.9 510.9L1098.1 502.2L1099.4 506.3L1100.7 500L1101.5 502" fill="none" stroke="#0c0c0c" stroke-width="1.2" stroke-linejoin="round"/>
<path d="M787.7 355.5L788.3 393.1M788.6 412.2L789.3 457.1M789.6 476.1L790.3 521.0M790.6 540.2L791.3 585.1" fill="none" stroke="#0a72c4" stroke-width="5.8"/>
<path d="M829.5 358.6L830.1 395.9M830.4 414.3L831.1 459.8M831.4 478.2L832.2 523.9M832.5 542.2L833.2 588.2" fill="none" stroke="#0a72c4" stroke-width="5.8"/>
<path d="M938.3 354.5L938.9 392.0M939.2 410.6L940.0 456.1M940.3 474.9L941.0 520.4M941.3 538.8L942.1 584.7" fill="none" stroke="#0a72c4" stroke-width="5.8"/>
<path d="M1007.2 354.5L1007.8 392.0M1008.1 410.6L1008.7 456.1M1009.0 474.9L1009.7 520.4M1010.0 538.8L1010.7 584.7" fill="none" stroke="#0a72c4" stroke-width="5.8"/>
<text transform="translate(722.1 392.2) scale(0.964 1)" font-size="29.7" font-weight="bold" text-anchor="middle" fill="#e2590c" stroke="#e2590c" stroke-width="0.45" font-family='"Liberation Sans", sans-serif'>A</text>
<text transform="translate(810.3 387.6) scale(0.865 1)" font-size="28.9" font-weight="bold" text-anchor="middle" fill="#e2590c" stroke="#e2590c" stroke-width="0.45" font-family='"Liberation Sans", sans-serif'>B</text>
<text transform="translate(868.3 388.4) scale(0.816 1)" font-size="29.5" font-weight="bold" text-anchor="middle" fill="#e2590c" stroke="#e2590c" stroke-width="0.45" font-family='"Liberation Sans", sans-serif'>C</text>
<text transform="translate(972.6 383.1) scale(0.948 1)" font-size="28.4" font-weight="bold" text-anchor="middle" fill="#e2590c" stroke="#e2590c" stroke-width="0.45" font-family='"Liberation Sans", sans-serif'>D</text>
<text transform="translate(1089.7 384.7) scale(0.834 1)" font-size="29.2" font-weight="bold" text-anchor="middle" fill="#e2590c" stroke="#e2590c" stroke-width="0.45" font-family='"Liberation Sans", sans-serif'>E</text>
<path d="M644.6 783.3L645.6 775.1L646.4 764.9L648.1 778.2L649.7 771L650.5 779.2L651.3 783.3L652.1 777.1L653 781.2L653.8 774.1L654.6 783.3L655.4 791.4L656.2 797.6L657.9 796.5L659.5 804.7L660.3 803.7L661.1 806.7L661.9 802.7L662.8 799.6L663.6 796.5L664.4 801.6L665.2 804.7L666.3 799.4L667.5 802.2L668.6 798L669.8 800L670.9 795.5L671.7 796.5L672.6 793.5L673.4 781.2L674.2 771L675 772L675.8 769L676.6 758.8L677.4 742.4L678.3 739.4L679.5 747.7L680.8 740.4L682.1 752.4L683.4 747.7L684.7 755L686 741L687.2 750.6L688.1 740.4L689.1 734.3L690.1 746.5L691.1 744.5L692.1 754.7L693.2 766.9L694.2 773.1L695.2 781.2L696.2 789.4L697.2 793.5L698.3 789.4L699.3 793.5L700.3 791.4L701.3 795.5L702.3 797.6L703.4 799.6L704.4 802.7L705.4 801.6L706.4 807.8L707.4 809.8L708.5 804.7L709.5 807.8L710.5 783.3L711.5 781.2L712.6 780.2L713.6 777.1L714.6 775.1L715.6 778.2L716.6 783.3L717.4 779.2L718.3 785.3L719.1 795.5L719.9 803.7L720.7 804.7L721.5 809.8L722.3 813.9L723.2 819L724.4 814.5L725.7 821.6L727 817.7L728.3 823.8L729.6 817.7L730.9 823.5L732.1 818L733 826.1L733.8 828.2L734.9 824.7L736.1 831.4L737.2 828.4L738.3 832.4L739.5 830.2L740.3 836.3L741.1 840.4L741.9 842.4L742.8 844.5L743.6 846.9L744.4 844.5L745.2 838.4L746 832.2L746.8 830.2L747.7 828.2L748.5 824.1L749.3 821L750.1 815.9L750.9 811.8L751.7 809.8L752.6 806.7L753.4 805.7L754.2 801.6L755 793.5L755.8 781.2L756.6 775.1L757.4 785.3L758.3 779.2L759.1 766.9L759.9 779.2L760.7 773.1L761.5 781.2L762.3 769L763.2 764.9L764 781.2L764.8 784.3L765.6 775.1L766.4 766.9L768.1 766.9L769.7 754.7L770.5 760.8L771.3 764.9L772.1 756.7L773 750.6L774.6 768.5L776.2 760.8L777.9 770L779.5 764.9L780.3 773.1L781.1 774.1L781.9 766.9L782.8 760.8L783.6 756.7L784.4 762.9L785.2 750.6L786 738.4L787 734.3L788.1 730.2L789.1 728.2L790.1 715.9L791.1 705.7L791.7 720L792.6 689.4L793.4 701.6L794.2 718L795 705.7L795.8 693.5L796.6 720L797.4 691.4L798.3 715.9L799.1 701.6L799.9 689.4L800.7 709.8L801.5 687.3L802.3 671L803.2 656.7L804 689.4L804.8 671L805.6 656.7L806.4 660.8L807.2 677.1L808.1 689.4L808.9 705.7L809.7 697.6L810.5 718L811.3 734.3L812.1 752.7L813 740.4L813.8 758.8L814.6 766.9L815.2 766.9L816 752.7L816.8 760.8L817.7 775.1L818.5 762.9L819.3 750.6L820.9 765.9L822.6 762.9L823.4 769L824.2 773.1L825 772L825.8 777.1L826.6 781.2L827.4 785.3L828.3 789.4L829.1 795.5L829.9 799.6L830.7 797.6L831.5 803.7L832.3 807.8L833.2 811.8L834 815.9L834.8 819L835.6 824.1L836.4 834.3L837.2 838.4L838.1 842.4L838.9 844.5L839.7 846.5L840.5 847.6L841.3 848.6L842.1 850.6L843 847.6L843.8 848.6L844.6 846.5L845.4 847.6L846.2 844.5L847 846.5L847.9 842.4L848.7 836.3L849.5 834.3L851.1 836.3L852.8 828.2L854.4 829.2L856 824.1L856.8 825.1L857.7 822L858.5 818L859.3 803.7L860.1 787.3L860.9 771L861.7 754.7L862.6 740.4L863.4 728.2L864.2 715.9L865 709.8L865.8 697.6L866.6 689.4L867.4 691.4L868.3 705.7L869.1 718L869.9 732.2L870.7 740.4L871.5 750.6L872.3 762.9L873.2 775.1L874 783.3L874.8 787.3L875.6 793.5L876.4 795.5L877.7 791.9L878.9 798.6L880.1 791.9L881.3 793.5L882.1 789.4L883 787.3L883.8 783.3L884.6 785.3L885.4 777.1L886.2 771L887.7 780.3L889.3 775.1L890.8 781.8L892.3 775.1L893.8 785.5L895.3 778.3L896.8 785.3L897.7 781.2L898.5 766.9L899.3 752.7L900.1 744.5L900.9 746.5L901.7 736.3L902.6 728.2L903.4 715.9L904.2 713.9L905 701.6L905.8 695.5L906.6 693.5L907.4 699.6L908.3 703.7L909.1 715.9L909.9 707.8L910.7 728.2L911.5 742.4L913 733.9L914.5 754.7L915.9 738.4L917.4 745.7L918.9 726.1L920.3 744.1L921.8 722.4L923.3 736.7L924.8 713.1L926.2 726.1L927 705.7L927.9 695.5L928.7 701.6L929.5 718L930.3 707.8L931.1 726.1L931.9 715.9L932.8 738.4L933.6 750.6L934.4 756.7L935.2 740.4L936 734.3L936.8 742.4L937.7 732.2L938.5 730.2L939.3 728.2L940.1 724.1L940.9 718L941.7 705.7L942.6 691.4L943.4 701.6L944.2 687.3L945 679.2L945.8 670L946.6 687.3L947.4 699.6L949.1 684.3L950.7 699.6L952.3 690.4L954 705.7L954.8 695.5L955.6 687.3L957.2 707.8L958.9 697.6L959.7 713.9L960.5 722L961.3 715.9L962.1 728.2L963 734.3L963.8 742.4L964.6 736.3L965.4 732.2L966.2 746.5L967 736.3L967.9 748.6L968.7 754.7L969.5 760.8L971.1 751.6L972.8 760.8L974.4 752.7L976 764.9L976.8 756.7L977.7 746.5L978.5 762.9L979.3 766.9L981 765L982.7 775.2L984.3 772.2L986 781.2L986.8 775.1L987.7 769L988.5 766.9L989.3 760.8L990.1 754.7L990.9 750.6L991.7 756.7L992.6 752.7L993.4 746.5L994.2 738.4L995 730.2L995.8 724.1L996.6 726.1L997.4 718L998.3 711.8L999.1 703.7L1000.7 711.8L1002.3 693.5L1003.2 705.7L1004 718L1004.8 726.1L1005.6 728.2L1006.4 730.2L1007.2 734.3L1008.1 740.4L1008.9 730.2L1009.7 738.4L1010.5 742.4L1011.3 749.6L1012.1 742.4L1013 734.3L1013.8 738.4L1014.6 728.2L1015.4 718L1016.2 707.8L1017 699.6L1017.9 720L1018.7 701.6L1019.5 693.5L1020.3 684.3L1021.1 697.6L1021.9 711.8L1022.8 684.3L1023.6 699.6L1024.4 711.8L1025.2 730.2L1026 720L1026.8 738.4L1027.7 750.6L1028.5 760.8L1029.3 746.5L1030.1 754.7L1030.9 769L1031.7 762.9L1032.6 744.5L1033.4 760.8L1034.2 752.7L1035 742.4L1035.8 730.2L1036.6 738.4L1037.4 746.5L1038.3 736.3L1039.1 726.1L1040.2 729.4L1041.4 723.3L1042.5 724.9L1043.7 718.8L1044.8 720L1045.6 713.9L1046.4 701.6L1047.2 695.5L1048.1 685.3L1048.9 677.1L1049.7 669L1050.9 670L1052.1 656.2L1053.4 668.5L1054.6 658.8L1055.4 681.2L1056.2 693.5L1057 699.6L1057.9 713.9L1058.7 728.2L1059.5 740.4L1060.3 744.5L1061.1 748.6L1061.9 754.7L1062.8 758.8L1063.6 764.9L1064.4 769L1065.2 773.1L1066 779.2L1067.7 766.9L1069.3 771L1070.1 760.8L1070.9 758.8L1072.6 761.8L1074.2 753.7L1075.8 764.9L1077.4 762.9L1078.3 773.1L1079.1 777.1L1079.9 781.2L1080.7 791.4L1082.3 780.2L1084 781.2L1084.8 771L1085.6 766.9L1086.4 773.1L1087.2 764.9L1088.1 750.6L1088.9 740.4L1089.7 746.5L1090.5 762.9L1091.8 737.5L1093.1 749.2L1094.4 735.5L1095.6 751.8L1096.9 737.2L1098.2 752.9L1099.5 734.3L1100.3 748.6" fill="none" stroke="#0c0c0c" stroke-width="1.2" stroke-linejoin="round"/>
<path d="M786.0 627.1L786.7 663.9M787.0 682.2L787.8 728.2M788.1 746.5L789.0 792.4M789.3 810.8L790.1 856.7" fill="none" stroke="#0a72c4" stroke-width="5.8"/>
<path d="M828.5 628.2L829.1 665.3M829.4 683.7L830.1 729.2M830.4 747.8L831.1 793.5M831.4 811.8L832.1 857.8" fill="none" stroke="#0a72c4" stroke-width="5.8"/>
<path d="M937.0 624.5L937.6 661.8M937.9 680.2L938.6 726.1M938.9 744.5L939.7 790.4M940.0 808.8L940.7 854.7" fill="none" stroke="#0a72c4" stroke-width="5.8"/>
<path d="M1005.0 624.5L1005.6 661.8M1005.9 680.2L1006.6 726.1M1006.9 744.5L1007.7 790.4M1008.0 808.8L1008.7 854.7" fill="none" stroke="#0a72c4" stroke-width="5.8"/>
<text transform="translate(721.1 662.9) scale(0.955 1)" font-size="30.0" font-weight="bold" text-anchor="middle" fill="#e2590c" stroke="#e2590c" stroke-width="0.45" font-family='"Liberation Sans", sans-serif'>A</text>
<text transform="translate(809.5 656.7) scale(0.856 1)" font-size="29.2" font-weight="bold" text-anchor="middle" fill="#e2590c" stroke="#e2590c" stroke-width="0.45" font-family='"Liberation Sans", sans-serif'>B</text>
<text transform="translate(866.2 658.2) scale(0.809 1)" font-size="29.7" font-weight="bold" text-anchor="middle" fill="#e2590c" stroke="#e2590c" stroke-width="0.45" font-family='"Liberation Sans", sans-serif'>C</text>
<text transform="translate(971.0 654.0) scale(0.952 1)" font-size="28.2" font-weight="bold" text-anchor="middle" fill="#e2590c" stroke="#e2590c" stroke-width="0.45" font-family='"Liberation Sans", sans-serif'>D</text>
<text transform="translate(1088.7 655.7) scale(0.834 1)" font-size="29.2" font-weight="bold" text-anchor="middle" fill="#e2590c" stroke="#e2590c" stroke-width="0.45" font-family='"Liberation Sans", sans-serif'>E</text>
<path d="M641.7 1049.1L642.7 1040.8L643.5 1030.5L645.2 1043.9L646.8 1036.7L647.7 1045L648.5 1049.1L649.3 1042.9L650.1 1047L650.9 1039.8L651.8 1049.1L652.6 1057.4L653.4 1063.6L655.1 1062.5L656.7 1070.8L657.5 1069.7L658.3 1072.8L659.2 1068.7L660 1065.6L660.8 1062.5L661.6 1067.7L662.4 1070.8L663.6 1065.4L664.8 1068.3L665.9 1064L667.1 1066L668.2 1061.5L669 1062.5L669.8 1059.4L670.7 1047L671.5 1036.7L672.3 1037.7L673.1 1034.6L674 1024.3L674.8 1007.8L675.6 1004.7L676.9 1013.1L678.2 1005.7L679.5 1017.8L680.8 1013.1L682.1 1020.5L683.4 1006.3L684.6 1016.1L685.5 1005.7L686.5 999.5L687.5 1011.9L688.6 1009.9L689.6 1020.2L690.6 1032.6L691.6 1038.8L692.7 1047L693.7 1055.3L694.7 1059.4L695.7 1055.3L696.8 1059.4L697.8 1057.4L698.8 1061.5L699.9 1063.6L700.9 1065.6L701.9 1068.7L702.9 1067.7L704 1073.9L705 1075.9L706 1070.8L707 1073.9L708.1 1049.1L709.1 1047L710.1 1046L711.2 1042.9L712.2 1040.8L713.2 1043.9L714.2 1049.1L715.1 1045L715.9 1051.2L716.7 1061.5L717.5 1069.7L718.4 1070.8L719.2 1075.9L720 1080.1L720.8 1085.2L722.1 1080.7L723.4 1087.9L724.7 1083.9L726 1090.1L727.3 1083.9L728.6 1089.8L729.9 1084.2L730.7 1092.5L731.5 1094.5L732.7 1091L733.8 1097.8L735 1094.7L736.1 1098.9L737.3 1096.6L738.1 1102.8L738.9 1106.9L739.7 1109L740.5 1111L741.4 1113.5L742.2 1111L743 1104.9L743.8 1098.7L744.7 1096.6L745.5 1094.5L746.3 1090.4L747.1 1087.3L747.9 1082.1L748.8 1078L749.6 1075.9L750.4 1072.8L751.2 1071.8L752.1 1067.7L752.9 1059.4L753.7 1047L754.5 1040.8L755.3 1051.2L756.2 1045L757 1032.6L757.8 1045L758.6 1038.8L759.5 1047L760.3 1034.6L761.1 1030.5L761.9 1047L762.7 1050.1L763.6 1040.8L764.4 1032.6L766 1032.6L767.7 1020.2L768.5 1026.4L769.3 1030.5L770.1 1022.3L771 1016.1L772.6 1034.1L774.3 1026.4L775.9 1035.7L777.5 1030.5L778.4 1038.8L779.2 1039.8L780 1032.6L780.8 1026.4L781.7 1022.3L782.5 1028.4L783.3 1016.1L784.1 1003.7L785.1 999.5L786.2 995.4L787.2 993.3L788.2 981L789.3 970.6L789.9 985.1L790.7 954.1L791.5 966.5L792.3 983L793.2 970.6L794 958.2L794.8 985.1L795.6 956.2L796.5 981L797.3 966.5L798.1 954.1L798.9 974.8L799.7 952L800.6 935.5L801.4 921.1L802.2 954.1L803 935.5L803.9 921.1L804.7 925.2L805.5 941.7L806.3 954.1L807.1 970.6L808 962.4L808.8 983L809.6 999.5L810.4 1018.1L811.3 1005.7L812.1 1024.3L812.9 1032.6L813.5 1032.6L814.3 1018.1L815.2 1026.4L816 1040.8L816.8 1028.4L817.6 1016.1L819.3 1031.5L820.9 1028.4L821.7 1034.6L822.6 1038.8L823.4 1037.7L824.2 1042.9L825 1047L825.8 1051.2L826.7 1055.3L827.5 1061.5L828.3 1065.6L829.1 1063.6L830 1069.7L830.8 1073.9L831.6 1078L832.4 1082.1L833.2 1085.2L834.1 1090.4L834.9 1100.7L835.7 1104.9L836.5 1109L837.4 1111L838.2 1113.1L839 1114.1L839.8 1115.2L840.6 1117.2L841.5 1114.1L842.3 1115.2L843.1 1113.1L843.9 1114.1L844.8 1111L845.6 1113.1L846.4 1109L847.2 1102.8L848 1100.7L849.7 1102.8L851.3 1094.5L853 1095.6L854.6 1090.4L855.4 1091.4L856.3 1088.3L857.1 1084.2L857.9 1069.7L858.7 1053.2L859.5 1036.7L860.4 1020.2L861.2 1005.7L862 993.3L862.8 981L863.7 974.8L864.5 962.4L865.3 954.1L866.1 956.2L866.9 970.6L867.8 983L868.6 997.5L869.4 1005.7L870.2 1016.1L871.1 1028.4L871.9 1040.8L872.7 1049.1L873.5 1053.2L874.3 1059.4L875.2 1061.5L876.4 1057.9L877.6 1064.6L878.9 1057.9L880.1 1059.4L880.9 1055.3L881.7 1053.2L882.6 1049.1L883.4 1051.2L884.2 1042.9L885 1036.7L886.6 1046.1L888.1 1040.8L889.6 1047.6L891.1 1040.8L892.7 1051.3L894.2 1044.1L895.7 1051.2L896.5 1047L897.4 1032.6L898.2 1018.1L899 1009.9L899.8 1011.9L900.7 1001.6L901.5 993.3L902.3 981L903.1 978.9L903.9 966.5L904.8 960.3L905.6 958.2L906.4 964.4L907.2 968.6L908.1 981L908.9 972.7L909.7 993.3L910.5 1007.8L912 999.1L913.5 1020.2L915 1003.7L916.4 1011.1L917.9 991.3L919.4 1009.4L920.9 987.6L922.4 1002L923.8 978.1L925.3 991.3L926.1 970.6L927 960.3L927.8 966.5L928.6 983L929.4 972.7L930.2 991.3L931.1 981L931.9 1003.7L932.7 1016.1L933.5 1022.3L934.4 1005.7L935.2 999.5L936 1007.8L936.8 997.5L937.6 995.4L938.5 993.3L939.3 989.2L940.1 983L940.9 970.6L941.8 956.2L942.6 966.5L943.4 952L944.2 943.8L945 934.5L945.9 952L946.7 964.4L948.3 948.9L950 964.4L951.6 955.1L953.3 970.6L954.1 960.3L954.9 952L956.6 972.7L958.2 962.4L959 978.9L959.8 987.1L960.7 981L961.5 993.3L962.3 999.5L963.1 1007.8L964 1001.6L964.8 997.5L965.6 1011.9L966.4 1001.6L967.2 1014L968.1 1020.2L968.9 1026.4L970.5 1017.1L972.2 1026.4L973.8 1018.1L975.5 1030.5L976.3 1022.3L977.1 1011.9L977.9 1028.4L978.8 1032.6L980.4 1030.6L982.1 1041L983.8 1037.9L985.5 1047L986.4 1040.8L987.2 1034.6L988 1032.6L988.8 1026.4L989.6 1020.2L990.5 1016.1L991.3 1022.3L992.1 1018.1L992.9 1011.9L993.8 1003.7L994.6 995.4L995.4 989.2L996.2 991.3L997 983L997.9 976.8L998.7 968.6L1000.3 976.8L1002 958.2L1002.8 970.6L1003.6 983L1004.4 991.3L1005.3 993.3L1006.1 995.4L1006.9 999.5L1007.7 1005.7L1008.6 995.4L1009.4 1003.7L1010.2 1007.8L1011 1015L1011.8 1007.8L1012.7 999.5L1013.5 1003.7L1014.3 993.3L1015.1 983L1016 972.7L1016.8 964.4L1017.6 985.1L1018.4 966.5L1019.2 958.2L1020.1 948.9L1020.9 962.4L1021.7 976.8L1022.5 948.9L1023.4 964.4L1024.2 976.8L1025 995.4L1025.8 985.1L1026.6 1003.7L1027.5 1016.1L1028.3 1026.4L1029.1 1011.9L1029.9 1020.2L1030.8 1034.6L1031.6 1028.4L1032.4 1009.9L1033.2 1026.4L1034 1018.1L1034.9 1007.8L1035.7 995.4L1036.5 1003.7L1037.3 1011.9L1038.2 1001.6L1039 991.3L1040.1 994.6L1041.3 988.4L1042.4 990L1043.6 983.8L1044.7 985.1L1045.5 978.9L1046.4 966.5L1047.2 960.3L1048 950L1048.8 941.7L1049.7 933.5L1050.9 934.5L1052.1 920.6L1053.4 932.9L1054.6 923.1L1055.4 945.8L1056.2 958.2L1057.1 964.4L1057.9 978.9L1058.7 993.3L1059.5 1005.7L1060.3 1009.9L1061.2 1014L1062 1020.2L1062.8 1024.3L1063.6 1030.5L1064.5 1034.6L1065.3 1038.8L1066.1 1045L1067.7 1032.6L1069.4 1036.7L1070.2 1026.4L1071 1024.3L1072.7 1027.4L1074.3 1019.2L1076 1030.5L1077.6 1028.4L1078.4 1038.8L1079.3 1042.9L1080.1 1047L1080.9 1057.4L1082.5 1046L1084.2 1047L1085 1036.7L1085.8 1032.6L1086.7 1038.8L1087.5 1030.5L1088.3 1016.1L1089.1 1005.7L1089.9 1011.9L1090.8 1028.4L1092.1 1002.8L1093.3 1014.6L1094.6 1000.7L1095.9 1017.2L1097.2 1002.5L1098.5 1018.4L1099.8 999.5L1100.6 1014" fill="none" stroke="#0c0c0c" stroke-width="1.2" stroke-linejoin="round"/>
<path d="M786.0 893.2L786.6 930.9M786.9 949.3L787.6 994.8M787.9 1013.2L788.7 1058.9M789.0 1077.2L789.7 1123.2" fill="none" stroke="#0a72c4" stroke-width="5.8"/>
<path d="M828.5 895.6L829.1 933.2M829.4 951.3L830.1 997.2M830.4 1015.6L831.1 1061.5M831.4 1079.3L832.1 1125.4" fill="none" stroke="#0a72c4" stroke-width="5.8"/>
<path d="M937.0 892.1L937.6 929.6M937.9 947.9L938.6 993.6M938.9 1011.9L939.7 1058.1M940.0 1076.4L940.7 1122.1" fill="none" stroke="#0a72c4" stroke-width="5.8"/>
<path d="M1005.0 892.1L1005.6 929.6M1005.9 947.9L1006.6 993.6M1006.9 1011.9L1007.7 1058.1M1008.0 1076.4L1008.7 1122.1" fill="none" stroke="#0a72c4" stroke-width="5.8"/>
<text transform="translate(720.7 928.9) scale(0.964 1)" font-size="29.7" font-weight="bold" text-anchor="middle" fill="#e2590c" stroke="#e2590c" stroke-width="0.45" font-family='"Liberation Sans", sans-serif'>A</text>
<text transform="translate(809.3 923.8) scale(0.856 1)" font-size="29.2" font-weight="bold" text-anchor="middle" fill="#e2590c" stroke="#e2590c" stroke-width="0.45" font-family='"Liberation Sans", sans-serif'>B</text>
<text transform="translate(865.8 924.8) scale(0.824 1)" font-size="29.2" font-weight="bold" text-anchor="middle" fill="#e2590c" stroke="#e2590c" stroke-width="0.45" font-family='"Liberation Sans", sans-serif'>C</text>
<text transform="translate(971.0 920.7) scale(0.921 1)" font-size="29.2" font-weight="bold" text-anchor="middle" fill="#e2590c" stroke="#e2590c" stroke-width="0.45" font-family='"Liberation Sans", sans-serif'>D</text>
<text transform="translate(1088.7 921.7) scale(0.834 1)" font-size="29.2" font-weight="bold" text-anchor="middle" fill="#e2590c" stroke="#e2590c" stroke-width="0.45" font-family='"Liberation Sans", sans-serif'>E</text>
<clipPath id="clT1"><rect x="56.5" y="56.1" width="514.5" height="232.5"/></clipPath>
<path d="M56.7 156.1L57.3 233.7L57.8 254.1L58.4 231.6L59 233.7L59.6 241.8L60.2 254.1L60.8 252L61.4 259.2L62 250L62.7 239.8L63.1 227.6L63.5 204.1L63.9 205.1L64.3 223.5L64.7 237.8L65.1 233.7L65.5 225.5L65.9 209.2L66.3 200L66.7 213.3L67.1 221.4L67.6 199L68 175.5L68.4 192.9L68.8 213.3L69.2 221.4L69.6 219.4L70 229.6L70.4 235.7L71 241.8L71.6 250L72.2 256.1L72.9 262.2L73.5 258.2L74.1 266.3L74.7 269.4L75.3 271.4L76.1 270.4L76.9 272L77.8 271.4L78.6 269.4L79.2 266.3L79.8 262.2L80.2 243.9L80.6 212.2L81 243.9L81.4 260.2L81.8 245.9L82.2 258.2L82.7 239.8L83.1 259.2L83.5 233.7L83.9 258.2L84.3 223.5L84.7 174.5L85.1 213.3L85.5 258.2L85.9 233.7L86.3 203.1L86.7 257.1L87.1 213.3L87.6 201L88 254.1L88.4 223.5L88.8 190.8L89.2 252L89.6 213.3L90 194.9L90.4 250L90.8 213.3L91.2 245.9L91.6 192.9L92 166.3L92.4 203.1L92.9 223.5L93.3 219.4L93.7 227.6L94.1 225.5L94.5 233.7L94.9 227.6L95.3 237.8L95.9 229.6L96.5 239.8L97.1 237.8L97.8 243.9L98.4 241.8L99 245.9L99.6 250L100.2 254.1L100.8 260.2L101.4 266.3L102 256.1L102.7 270.4L103.3 276.5L103.9 274.5L104.5 266.3L105.1 256.1L105.7 266.3L106.3 269.4L107.1 268.4L108 270L108.8 268.8L109.6 267.3L110.4 265.3L111 262.2L111.6 250L112 262.2L112.4 260.2L112.9 256.1L113.3 262.2L113.7 254.1L114.1 233.7L114.5 209.2L114.9 172.4L115.3 56.1L115.7 172.4L116.1 233.7L116.5 254.1L117.1 256.1L117.8 260.2L118.4 262.2L119 266.3L119.6 265.3L120.2 254.1L120.8 233.7L121.2 229.6L121.6 233.7L122 209.2L122.4 208.2L122.9 223.5L123.3 211.2L123.7 233.7L124.1 213.3L124.5 227.6L124.9 217.3L125.3 233.7L125.7 219.4L126.1 235.7L126.5 221.4L126.9 202L127.3 223.5L127.8 237.8L128.2 245.9L128.6 246.9L129.2 252L129.8 260.2L130.4 266.3L131 272.4L131.6 274.5L132 254.1L132.4 213.3L132.9 254.1L133.3 268.4L133.9 271.4L134.5 268.4L135.1 270.4L135.7 266.3L136.3 271.4L136.9 273.5L137.6 272.4L138.2 270.4L138.8 269.4L139.4 270.4L140 271.4L140.6 268.4L141 233.7L141.4 176.5L141.8 233.7L142.2 262.2L142.7 233.7L143.1 176.5L143.5 213.3L143.9 131.6L144.5 117.3L144.9 192.9L145.3 233.7L145.7 260.2L146.1 254.1L146.5 258.2L146.9 250L147.3 259.2L147.8 223.5L148.2 199L148.6 233.7L149 258.2L149.4 243.9L149.8 256.1L150.2 254.1L150.6 257.1L151 250L151.4 213.3L151.8 174.5L152.2 213.3L152.7 243.9L153.1 254.1L153.5 245.9L153.9 237.8L154.3 245.9L154.7 248L155.1 254.1L155.5 258.2L155.9 252L156.3 254.1L156.7 250L157.1 256.1L157.6 233.7L158 213.3L158.4 161.2L158.8 192.9L159.2 225.5L159.6 217.3L160 233.7L160.4 225.5L160.8 245.9L161.2 239.8L161.6 254.1L162 258.2L162.7 264.3L163.3 268.4L163.9 266.3L164.3 254.1L164.7 262.2L165.1 269.4L165.7 266.3L166.3 269.4L166.9 268.4L167.6 266.3L168.2 267.3L168.8 263.3L169.4 264.3L170 262.2L170.6 258.2L171.2 254.1L171.8 245.9L172.2 254.1L172.7 256.1L173.1 233.7L173.5 215.3L173.9 233.7L174.3 256.1L174.7 229.6L175.1 217.3L175.5 254.1L175.9 233.7L176.3 227.6L176.7 239.8L177.1 229.6L177.6 192.9L178 150L178.4 192.9L178.8 233.7L179.2 205.1L179.6 225.5L180 203.1L180.4 233.7L180.8 204.1L181.2 241.8L181.6 205.1L182 223.5L182.4 213.3L182.9 227.6L183.3 233.7L183.7 239.8L184.1 243.9L184.5 237.8L184.9 227.6L185.3 233.7L185.7 217.3L186.1 209.2L186.5 223.5L186.9 233.7L187.3 241.8L188 248L188.6 254.1L189.2 260.2L189.8 266.3L190.4 270.4L191 273.5L191.6 275.5L192.2 273.5L192.9 274.5L193.3 266.3L193.7 272.4L194.1 262.2L194.5 270.4L194.9 254.1L195.3 268.4L195.7 262.2L196.1 248L196.5 266.3L196.9 271.4L197.6 270.4L198.2 271.4L198.8 269.4L199.4 270.4L200 269.4L200.4 254.1L200.8 246.9L201.2 262.2L201.6 269.4L202.2 268.4L202.9 267.3L203.5 266.3L203.9 254.1L204.3 213.3L204.7 145.9L205.1 144.9L205.5 213.3L205.9 260.2L206.3 258.2L206.7 233.7L207.1 196.9L207.6 233.7L208 260.2L208.4 256.1L208.8 258.2L209.2 254.1L209.6 233.7L210 195.9L210.4 194.9L210.8 233.7L211.2 254.1L211.6 243.9L212 233.7L212.4 241.8L212.9 235.7L213.3 231.6L213.7 239.8L214.1 233.7L214.5 229.6L214.9 233.7L215.3 229.6L215.7 231.6L216.1 233.7L216.5 237.8L216.9 243.9L217.3 252L218 260.2L218.6 266.3L219.2 270.4L219.8 273.5L220.4 275.5L221 277.6L221.6 278.6L222.2 279.6L222.9 280.6L223.5 278.6L224.1 276.5L224.5 266.3L224.9 256.1L225.3 270.4L225.7 274.5L226.3 273.5L226.9 271.4L227.6 269.4L228.2 268.4L228.8 266.3L229.2 254.1L229.8 213.3L230.4 172.4L231 213.3L231.6 262.2L232.2 254.1L232.9 260.2L233.5 258.2L234.1 243.9L234.7 254.1L235.3 245.9L235.9 213.3L236.3 166.3L236.7 213.3L237.1 166.3L237.6 131.6L238 116.3L238.4 152L238.8 188.8L239.2 233.7L239.6 213.3L240 237.8L240.4 215.3L240.8 233.7L241.2 239.8L241.6 229.6L242 237.8L242.4 233.7L242.9 239.8L243.3 209.2L243.7 204.1L244.1 233.7L244.5 237.8L244.9 229.6L245.3 239.8L245.7 231.6L246.1 192.9L246.5 182.7L246.9 223.5L247.3 239.8L247.8 243.9L248.2 250L248.6 254.1L249.2 260.2L249.8 264.3L250.4 267.3L251 270.4L251.6 272.4L252.2 273.5L252.9 274.5L253.5 274.5L254.1 273.5L254.7 272.4L255.3 270.4L255.9 269.4L256.5 268.4L257.1 267.3L257.8 265.3L258.4 267.3L259 268.4L259.6 269.4L260.2 268.4L260.8 270L261.4 269.4L262 270L262.7 269.4L263.3 268.4L263.7 254.1L264.1 233.7L264.5 262.2L264.9 250L265.3 235.7L265.7 254.1L266.1 233.7L266.5 213.3L266.9 184.7L267.3 213.3L267.8 260.2L268.2 233.7L268.6 260.2L269 241.8L269.4 258.2L269.8 213.3L270.2 172.4L270.6 141.8L271 192.9L271.4 195.9L271.8 233.7L272.2 243.9L272.7 233.7L273.1 241.8L273.5 235.7L273.9 243.9L274.3 229.6L274.7 226.5L275.1 233.7L275.5 229.6L275.9 235.7L276.3 243.9L276.7 237.8L277.1 245.9L277.6 254.1L278.2 262.2L278.8 268.4L279.4 272.4L280 274.5L280.6 275.5L281.2 276.5L281.8 276.9L282.4 277.6L283.1 276.5L283.7 276.9L284.3 277.6L284.7 266.3L285.1 256.1L285.5 268.4L285.9 272.4L286.5 270.4L287.1 269.4L287.6 254.1L288 266.3L288.4 254.1L288.8 233.7L289.2 198L289.6 213.3L290 233.7L290.4 217.3L290.8 233.7L291.2 254.1L291.6 262.2L292 250L292.4 260.2L292.9 252L293.3 262.2L293.9 265.3L294.5 263.3L295.1 265.3L295.7 263.3L296.3 264.3L296.7 233.7L297.1 172.4L297.6 132.7L298 192.9L298.4 243.9L298.8 213.3L299.2 178.6L299.6 179.6L300 213.3L300.4 233.7L300.8 215.3L301.2 233.7L301.6 241.8L302 233.7L302.4 239.8L302.9 231.6L303.3 239.8L303.7 233.7L304.1 241.8L304.5 227.6L304.9 225.5L305.3 233.7L305.7 241.8L306.3 250L306.9 258.2L307.6 264.3L308.2 270.4L308.8 274.5L309.4 276.5L310 278.6L310.6 279.6L311.2 279L311.8 278.6L312.4 276.5L313.1 275.5L313.7 274.5L314.3 273.5L314.9 272.4L315.5 271.4L316.1 270.4L316.7 269.4L317.3 268.4L318 266.3L318.6 262.2L319 254.1L319.4 233.7L319.8 190.4L320.2 233.7L320.6 260.2L321.2 263.3L321.8 262.2L322.4 264.3L323.1 266.3L323.7 267.3L324.3 268L324.9 267.3L325.5 268L326.1 266.3L326.5 254.1L326.9 223.5L327.3 243.9L327.8 256.1L328.2 245.9L328.6 252L329 245.9L329.4 254.1L329.8 258.2L330.2 254.1L330.6 260.2L331 256.1L331.4 261.2L331.8 254.1L332.2 262.2L332.7 252L333.1 261.2L333.5 248L333.9 260.2L334.3 246.9L334.7 261.2L335.1 248L335.5 260.2L335.9 246.9L336.3 260.2L336.7 248L337.1 262.2L337.6 260.2L338.2 264.3L338.8 268.4L339.4 266.3L340 271.4L340.6 273.5L341.2 276.5L341.6 278.6L342 271.4L342.4 274.5L342.9 268.4L343.3 270.4L343.7 266.3L344.1 268.4L344.5 262.2L344.9 233.7L345.3 190.8L345.7 233.7L346.1 266.3L346.5 264.3L346.9 260.2L347.3 233.7L347.8 221.4L348.2 254.1L348.6 254.1L349 260.2L349.4 263.3L349.8 262.2L350.2 264.3L350.6 262.2L351 264.3L351.4 262.2L351.8 254.1L352.2 246.9L352.7 262.2L353.1 264.3L353.7 263.3L354.3 264.3L354.9 263.3L355.5 264.3L356.1 263.3L356.7 264.3L357.3 263.3L358 264.3L358.6 263.3L359.2 262.2L359.6 254.1L360 235.7L360.4 250L360.8 254.1L361.2 258.2L361.6 254.1L362 260.2L362.4 262.2L362.9 254.1L363.3 262.2L363.7 250L364.1 241.8L364.5 254.1L364.9 260.2L365.3 264.3L365.7 268.4L366.1 271.4L366.7 274.5L367.3 276.5L368 278.6L368.6 277.6L369.2 279.6L369.8 281.6L370.4 282.7L371 279.6L371.6 278.6L372.2 276.5L372.9 275.5L373.5 274.5L374.1 272.4L374.7 271.4L375.3 270.4L375.9 266.3L376.3 262.2L376.7 269.4L377.1 270.4L377.6 266.3L378 270.4L378.4 262.2L378.8 254.1L379.2 213.3L379.6 172.4L380 131.6L380.4 132.7L380.8 192.9L381.2 233.7L381.6 258.2L382 254.1L382.4 260.2L382.9 262.2L383.3 264.3L383.7 254.1L384.1 262.2L384.5 233.7L384.9 176.5L385.3 177.6L385.7 213.3L386.1 233.7L386.5 245.9L386.9 250L387.3 248L387.8 254.1L388.2 243.9L388.6 256.1L389 245.9L389.4 233.7L389.8 229.6L390.2 233.7L390.6 227.6L391 241.8L391.4 229.6L391.8 245.9L392.2 233.7L392.7 213.3L393.1 203.1L393.5 233.7L393.9 215.3L394.3 233.7L394.7 245.9L395.1 233.7L395.5 243.9L395.9 237.8L396.3 254.1L396.7 258.2L397.3 262.2L398 266.3L398.6 270.4L399.2 272.4L400 258.2L400.5 270.4L401.1 272.4L401.7 273.5L402.3 271.4L403 272.4L403.6 271.4L404.2 270.4L404.8 266.3L405.2 251L405.6 262.2L406 264.3L406.4 254.1L406.8 243.9L407.2 233.7L407.7 220.4L408.1 233.7L408.5 256.1L408.9 264.3L409.3 256.1L409.7 262.2L410.3 265.3L410.9 266.3L411.5 267.3L412.1 266.3L412.8 268L413.4 268.4L414 268.8L414.6 269.4L415.2 269.4L415.8 270L416.4 270.4L417 266.3L417.4 254.1L417.9 233.7L418.3 245.9L418.7 213.3L419.1 201L419.5 233.7L419.9 227.6L420.3 243.9L420.7 254.1L421.1 258.2L421.5 252L421.9 254.1L422.3 245.9L422.8 213.3L423.2 190.4L423.6 213.3L424 245.9L424.4 233.7L424.8 254.1L425.2 222.4L425.6 233.7L426 250L426.4 254.1L426.8 258.2L427.2 264.3L427.7 268.4L428.3 274.5L428.9 277.6L429.5 279.6L430.1 281.6L430.7 280.6L431.3 278.6L431.9 276.5L432.6 274.5L433.2 272.4L433.8 270.4L434.4 271.4L435 269.4L435.6 268.4L436 254.1L436.4 213.3L436.8 193.9L437.2 233.7L437.7 262.2L438.1 213.3L438.5 187.8L438.9 186.7L439.3 233.7L439.7 262.2L440.1 266.3L440.7 264.3L441.3 263.3L441.9 266.3L442.6 268.4L443.2 270.4L443.8 271.4L444.4 270.4L445 268.4L445.6 264.3L446 254.1L446.4 233.7L446.8 203.1L447.2 233.7L447.7 252L448.1 233.7L448.5 245.9L448.9 231.6L449.3 252L449.7 245.9L450.1 256.1L450.5 250L450.9 233.7L451.3 223.5L451.7 233.7L452.1 254.1L452.6 258.2L453.2 264.3L453.8 270.4L454.4 274.5L455 277.6L455.6 280.6L456.2 282.7L456.8 284.7L457.2 274.5L457.7 260.2L458.1 256.1L458.5 274.5L458.9 286.7L459.5 287.8L460.1 284.7L460.7 282.7L461.3 280.6L461.9 281.6L462.6 278.6L463.2 276.5L463.8 277.6L464.4 274.5L465 275.5L465.6 272.4L466.2 271.4L466.8 270.4L467.4 268.4L468.1 271.4L468.5 264.3L468.9 254.1L469.3 233.7L469.7 223.5L470.1 192.9L470.5 190.4L470.9 223.5L471.3 254.1L471.7 264.3L472.1 254.1L472.6 262.2L473 252L473.4 260.2L473.8 254.1L474.2 262.2L474.6 256.1L475 261.2L475.4 254.1L475.8 260.2L476.2 254.1L476.6 256.1L477 233.7L477.4 226.5L477.9 243.9L478.3 252L478.7 245.9L479.1 252L479.5 243.9L479.9 250L480.3 243.9L480.7 241.8L481.1 250L481.5 254.1L481.9 252L482.3 256.1L482.8 260.2L483.2 262.2L483.6 266.3L484 264.3L484.4 270.4L484.8 266.3L485.2 272.4L485.6 274.5L486 272.4L486.4 276.5L487 278.6L487.7 281.6L488.3 282.7L488.9 283.7L489.5 283.7L490.1 282.7L490.7 281.6L491.3 279.6L491.9 276.5L492.6 274.5L493.2 272.4L493.6 266.3L494 262.2L494.4 272.4L494.8 266.3L495.2 260.2L495.6 270.4L496 273.5L496.4 271.4L496.8 272.4L497.2 268.4L497.7 270.4L498.1 262.2L498.5 243.9L498.9 216.3L499.3 233.7L499.7 254.1L500.1 245.9L500.5 262.2L500.9 245.9L501.3 254.1L501.7 248L502.1 256.1L502.6 250L503 258.2L503.4 248L503.8 254.1L504.2 249L504.6 260.2L505 254.1L505.4 248L505.8 252L506.2 233.7L506.6 228.6L507 245.9L507.4 229.6L507.9 250L508.3 237.8L508.7 250L509.1 239.8L509.5 250L509.9 233.7L510.3 223.5L510.7 245.9L511.1 222.4L511.5 241.8L511.9 252L512.3 241.8L512.8 256.1L513.2 243.9L513.6 270.4L514 233.7L514.4 225.5L514.8 245.9L515.2 270.4L515.6 254.1L516 272.4L516.4 248L516.8 268.4L517.2 254.1L517.7 277.6L518.1 266.3L518.5 272.4L518.9 254.1L519.3 243.9L519.7 262.2L520.1 270.4L520.5 266.3L520.9 271.4L521.3 268.4L521.7 272.4L522.1 270.4L522.6 271.4L523 268.4L523.4 270.4L523.8 262.2L524.2 254.1L524.6 266.3L525 250L525.4 262.2L525.8 254.1L526.2 233.7L526.6 258.2L527 245.9L527.4 231.6L527.9 254.1L528.3 213.3L528.7 137.8L529.1 192.9L529.5 243.9L529.9 227.6L530.3 256.1L530.7 233.7L531.1 225.5L531.5 245.9L531.9 221.4L532.3 233.7L532.8 152L533.2 76.5L533.6 131.6L534 223.5L534.4 245.9L534.8 229.6L535.2 248L535.6 233.7L536 256.1L536.4 213.3L536.8 146.9L537.2 172.4L537.7 194.9L538.1 223.5L538.5 213.3L538.9 229.6L539.3 215.3L539.7 212.2L540.1 223.5L540.5 213.3L540.9 225.5L541.3 233.7L541.7 241.8L542.1 250L542.6 254.1L543 258.2L543.4 262.2L543.8 266.3L544.2 274.5L544.6 266.3L545 260.2L545.4 272.4L545.8 275.5L546.2 268.4L546.6 274.5L547 276.5L547.4 270.4L547.9 275.5L548.3 266.3L548.7 256.1L549.1 254.1L549.5 266.3L549.9 274.5L550.3 282.7L550.7 286.7L551.3 288.4L551.9 287.8L552.6 288.4L553.2 286.7L553.8 287.8L554.4 284.7L554.8 254.1L555.2 192.9L555.6 152L556 151L556.4 213.3L556.8 274.5L557.2 266.3L557.7 262.2L558.1 270.4L558.5 266.3L558.9 254.1L559.3 244.9L559.7 262.2L560.1 270.4L560.5 276.5L560.9 274.5L561.3 278.6L561.7 279.6L562.3 280.6L563 279.6L563.6 278.6L564.2 276.5L564.6 254.1L565 243.9L565.4 262.2L565.8 233.7L566.2 266.3L566.6 254.1L567 270.4L567.4 233.7L567.9 264.3L568.3 231.6L568.7 254.1L569.1 272.4L569.5 243.9L569.9 235.7L570.3 254.1L570.7 266.3" fill="none" stroke="#ff0000" stroke-width="1.45" clip-path="url(#clT1)" stroke-linejoin="miter" stroke-miterlimit="3"/>
<path d="M58.2 532.7L59.8 537.8L61.2 545.9L63.3 552L65.3 553.1L67.3 556.5L69.4 555.1L71.4 556.1L73.5 551L74.9 550L76.5 553.1L78.6 556.1L80.6 554.1L82.2 549L83.7 541.8L85.1 529.6L86.3 525.5L87.3 507.1L88.8 505.1L89.8 503.1L90.8 511.2L91.8 505.1L92.9 516.3L94.3 508.2L95.3 513.3L96.5 510.2L97.6 519.4L99 527.6L101 533.7L102.7 536.7L104.7 542.9L106.7 549L109.2 555.1L112.2 558.2L114.3 552L116.3 543.9L118 534.7L119.4 539.8L120.8 540.8L121.8 549L123.5 556.1L125.1 559.2L127.1 564.3L129.2 566.3L131.2 568.4L133.3 563.3L134.7 565.3L136.1 562.2L137.8 569.4L139.8 572.4L141.8 571.4L143.9 570.4L145.9 565.3L148 560.2L150 553.1L151.4 555.1L153.1 549L155.1 545.9L156.5 548L158.2 546.9L160.2 542.9L161.8 538.8L163.3 534.7L164.7 529.6L166.3 531.6L168 534.7L170 538.8L172 542.9L174.5 546.9L176.5 540.8L178.6 531.6L180.6 517.3L182.2 519.4L183.7 508.2L185.1 511.2L186.3 503.1L187.8 506.1L188.8 492.9L189.8 500L190.8 483.7L191.8 490.8L192.9 464.3L193.5 452L194.1 456.1L194.9 438.8L195.7 452L196.5 470.4L197.3 480.6L198.6 492.9L199.6 508.2L201 496.1L202.3 509.2L203.7 497.4L205 509.9L206.4 498L207.8 511.2L209.2 505.1L211.2 511.2L213.3 517.3L215.3 523.5L217.3 531.6L219 541.8L220.4 551L221.8 554.1L223.5 552L225.1 554.1L227.1 557.1L229.2 561.2L231.2 562.7L233.9 563.3L236.3 558.2L238.8 554.1L240.4 549L242 537.8L243.5 519.4L244.5 501L245.5 490.8L246.5 488.8L247.8 484.7L248.6 496.9L249.6 507.1L250.6 513.3L251.6 523.5L252.7 535.7L254.3 539.8L255.7 536.7L256.7 525.5L257.8 533.7L259.2 538.8L260.8 541.8L261.8 546.9L263.3 542.9L264.5 546.9L265.9 543.9L267.3 548L269 546.9L270.6 551L272 554.1L273.5 556.1L274.7 552L276.1 539.8L277.1 527.6L278.8 523.5L279.8 528.6L280.8 531.6L282.2 539.8L283.7 549L285.3 551L286.9 550L288.4 553.1L289.8 551L291.4 555.1L292.9 552L294.1 555.1L295.5 551L297.1 543.9L298.6 541.8L299.6 533.7L300.6 527.6L301.6 531.6L302.7 528.6L303.7 533.7L304.7 525.5L305.7 519.4L306.7 513.3L307.8 505.1L308.8 494.9L310.2 490.8L311.8 482.7L313.5 476.5L314.9 468.4L316.3 452L317.6 435.7L318.6 421.4L319.6 410.2L320.6 423.5L321.6 435.7L322.7 441.8L323.7 437.8L324.7 452L325.7 439.8L326.7 431.6L327.8 445.9L328.8 429.6L329.8 450L330.8 437.8L331.8 433.7L332.9 448L333.9 456.1L334.9 437.8L335.9 425.5L336.9 411.2L338 386.7L339 403.1L340 380.6L340.8 366.3L341.6 390.8L342.4 409.2L343.9 396.9L345.4 420.2L346.9 401.8L348.3 434.1L349.8 417.3L350.6 439.8L351.6 443.9L352.7 449L353.7 437.8L354.7 417.3L355.7 403.1L356.7 386.7L357.8 372.4L358.8 366.3L359.8 359.2L360.8 358.6L361.8 362.2L362.9 366.3L363.9 386.7L364.9 411.2L365.9 435.7L366.9 456.1L368 476.5L369 492.9L370 505.1L371 501L372 511.2L373.1 515.3L374.1 519.4L375.1 525.5L376.7 523.5L378.2 521.4L380.2 529.6L382.2 537.8L384.3 542.9L386.3 549L387.8 543.9L389 545.9L390.4 537.8L391.8 529.6L393.5 517.3L395.1 507.1L396.7 494.9L398.4 482.7L400 470.4L401.2 460.2L402.2 455.1L403.3 472.4L404.3 461.2L405.3 470.4L406.3 484.7L407.3 480.6L408.4 462.2L409.4 480.6L410.4 463.3L411.4 462.2L412.4 484.7L413.5 492.9L414.5 496.9L415.5 511.2L416.5 505.1L418.2 499L419.6 490.8L421 483.7L422.2 488.8L423.3 485.7L424.3 496.9L425.7 507.1L426.7 513.3L427.8 526.5L428.8 519.4L429.8 511.2L430.8 503.1L431.8 492.9L432.9 499L433.9 501L434.9 488.8L435.9 492.9L436.9 507.1L438 490.8L439 496.9L440.4 494.9L441.4 503.1L442.7 511.2L444.1 517.3L445.1 527.6L446.7 535.7L448.2 545.9L450.2 545.9L451.6 541.8L453.3 537.8L454.9 529.6L456.3 536.7L457.8 537.8L459.4 543.9L460.8 541.8L462 544.9L463.5 541.8L465.1 538.8L466.5 531.6L468 523.5L469.2 513.3L470.2 501L471.2 488.8L472.7 480.6L474.1 472.4L475.3 468.4L476.1 463.3L477.1 474.5L478.2 471.4L479.2 477.6L480.2 474.5L481.4 480.6L482.4 472.4L483.5 460.2L484.5 445.9L485.5 435.7L486.5 430.6L487.6 437.8L488.6 441.8L489.6 456.1L490.6 469.4L491.6 464.3L493.1 456.1L494.5 450L495.7 445.9L496.9 435.7L498.2 425.5L499.2 420.4L500.2 409.2L500.8 402L501.6 421.4L502.7 437.8L503.7 431.6L504.7 445.9L505.7 456.1L506.7 452L507.8 470.4L508.8 480.6L509.8 472.4L510.8 478.6L511.8 484.7L512.9 474.5L514.1 470.4L515.3 461.2L516.5 460.2L517.6 472.4L518.6 490.8L519.6 507.1L520.6 523.5L521.6 537.8L522.7 550L524.3 554.1L525.7 562.2L527.8 567.3L529.8 570.4L531.8 570.4L533.9 571.4L535.9 571.4L538 572.4L540 573.5L542 572.9L544.1 568.4L545.5 562.2L546.7 556.1L548.2 551L549.6 552L551.2 545.9L552.9 543.9L554.3 537.8L555.7 532.7L556.9 527.6L558.2 533.7L559.4 529.6L560.6 535.7" fill="none" stroke="#0c0c0c" stroke-width="1.45" stroke-linejoin="round"/>
<path d="M173.9 359.2L174.6 397.2M175.0 415.3L175.8 461.2M176.1 479.0L177.0 525.1M177.3 543.5L178.2 589.0" fill="none" stroke="#0a72c4" stroke-width="5.8"/>
<path d="M209.8 359.2L210.5 397.2M210.9 415.3L211.8 461.2M212.1 479.0L213.0 525.1M213.4 543.5L214.3 589.0" fill="none" stroke="#0a72c4" stroke-width="5.8"/>
<path d="M309.2 359.2L309.9 397.2M310.3 415.3L311.1 461.2M311.4 479.0L312.3 525.1M312.6 543.5L313.5 589.0" fill="none" stroke="#0a72c4" stroke-width="5.8"/>
<path d="M375.7 359.2L376.4 397.2M376.8 415.3L377.7 461.2M378.0 479.0L378.9 525.1M379.3 543.5L380.2 589.0" fill="none" stroke="#0a72c4" stroke-width="5.8"/>
<path d="M468.6 359.2L469.5 397.2M469.9 415.3L471.0 461.2M471.5 479.0L472.6 525.1M473.0 543.5L474.1 589.0" fill="none" stroke="#0a72c4" stroke-width="5.8"/>
<path d="M513.1 359.2L514.0 397.2M514.4 415.3L515.5 461.2M516.0 479.0L517.1 525.1M517.5 543.5L518.6 589.0" fill="none" stroke="#0a72c4" stroke-width="5.8"/>
<text transform="translate(107.6 425.9) scale(0.964 1)" font-size="29.7" font-weight="bold" text-anchor="middle" fill="#e2590c" stroke="#e2590c" stroke-width="0.45" font-family='"Liberation Sans", sans-serif'>A</text>
<text transform="translate(191.2 425.9) scale(0.840 1)" font-size="29.7" font-weight="bold" text-anchor="middle" fill="#e2590c" stroke="#e2590c" stroke-width="0.45" font-family='"Liberation Sans", sans-serif'>B</text>
<text transform="translate(261.8 425.5) scale(0.824 1)" font-size="29.2" font-weight="bold" text-anchor="middle" fill="#e2590c" stroke="#e2590c" stroke-width="0.45" font-family='"Liberation Sans", sans-serif'>C</text>
<text transform="translate(342.9 484.7) scale(0.921 1)" font-size="29.2" font-weight="bold" text-anchor="middle" fill="#e2590c" stroke="#e2590c" stroke-width="0.45" font-family='"Liberation Sans", sans-serif'>D</text>
<text transform="translate(421.2 410.8) scale(0.834 1)" font-size="29.2" font-weight="bold" text-anchor="middle" fill="#e2590c" stroke="#e2590c" stroke-width="0.45" font-family='"Liberation Sans", sans-serif'>E</text>
<text transform="translate(485.9 410.8) scale(0.848 1)" font-size="29.2" font-weight="bold" text-anchor="middle" fill="#e2590c" stroke="#e2590c" stroke-width="0.45" font-family='"Liberation Sans", sans-serif'>F</text>
<text transform="translate(532.9 410.8) scale(0.923 1)" font-size="29.2" font-weight="bold" text-anchor="middle" fill="#e2590c" stroke="#e2590c" stroke-width="0.45" font-family='"Liberation Sans", sans-serif'>G</text>
<path d="M63.2 804.7L64.8 809.8L66.2 821L67.7 824.1L68.9 832.2L70.9 834.3L73 836.3L75 840L77.4 841.4L79.9 840.8L81.9 842L84 840.4L86 839.4L88.1 837.3L89.7 831.2L91.3 824.1L92.8 813.9L93.8 815.9L95 806.7L96.4 812.4L97.8 804.1L99.2 810.3L100.6 800.2L101.9 810.8L103.2 808.8L104.4 818L105.6 824.1L107 828.2L108.5 827.1L109.7 831.2L111.1 828.2L112.6 832.2L113.8 829.2L115.2 833.3L116.8 835.9L118.3 832.2L119.9 824.1L121.3 821L122.8 822L124 815.9L125.4 812.9L126.8 809.8L128.1 802.7L129.1 807.8L130.1 805.7L131.1 812.9L132.1 824.1L133.6 821L135 822L136.2 815.9L137.7 819L139.1 821L140.7 824.1L142.3 821L143.8 815.9L145.2 816.9L146.4 814.9L147.9 819L149.3 824.1L150.5 827.1L151.9 828.2L153.4 830.2L155 828.2L156.4 826.1L157.7 821L159.1 824.1L160.3 823.1L161.5 830.2L162.8 828.2L164 832.2L165.2 826.1L166.8 824.1L168.3 822L169.7 823.1L171.3 819L172.6 816.9L173.8 819L175 812.9L176.4 816.9L177.9 819L179.5 822L181.1 818L182.8 811.8L184.2 805.7L185.6 803.7L186.8 799.6L188.1 793.5L189.3 796.5L190.5 789.4L191.7 791.4L193 785.3L194.2 779.2L195.4 769L196.2 755.7L197 762.9L197.9 753.7L198.7 766.9L199.5 773.1L200.3 777.1L201.1 783.3L201.9 775.1L202.8 766.9L203.6 754.7L204.4 745.5L205.9 756.3L207.3 752.2L208.8 763.7L210.3 762L211.7 768L212.6 752.7L213.4 741.4L214.2 760.8L215 750.6L215.8 734.3L216.6 731.2L217.4 750.6L218.3 762.9L219.3 775.1L220.3 787.3L221.3 793.5L222.3 791.4L223.4 799.6L224 815.9L224.8 828.2L226 829.2L227.4 824.1L228.9 825.1L230.5 822L232.1 823.1L233.8 821L235 819L235.6 814.9L236.8 818L238.3 812.9L239.7 815.9L240.9 811.8L242.3 813.9L243.8 808.8L245 809.8L246 793.5L246.8 805.7L247.9 803.7L248.9 789.4L249.9 797.6L250.9 807.8L251.9 810.8L253.2 815.9L254.4 819L255.6 811.8L256.8 803.7L258.1 799.6L259.3 802.7L260.5 807.8L261.7 803.7L263 797.6L264.2 789.4L265.2 783.3L266.9 788.7L268.6 782.6L270.3 788.4L271.5 785.3L272.6 793.5L273.6 803.7L274.6 813.9L275.6 821L276.8 828.2L278.1 832.2L279.3 835.3L280.5 832.2L281.7 828.2L283.2 824.1L284.6 821L285.8 820L287.2 823.1L288.7 822L289.9 826.1L291.3 824.1L292.8 827.1L294 823.1L295.4 825.1L296.8 822L298.1 824.1L299.3 815.9L300.5 803.7L301.7 793.5L303 781.2L304.2 771L305.4 770L306.6 765.9L307.7 775.1L308.7 777.1L309.7 785.3L310.7 793.5L311.7 787.3L312.8 797.6L314 793.5L315.2 799.6L316.4 797.6L317.9 801.6L319.3 799.6L320.9 805.7L322.6 807.8L324 810.8L325.4 805.7L327 807.8L328.7 804.7L330.1 806.7L331.5 803.7L332.8 797.6L334 802.7L335.2 807.8L336.4 811.8L337.2 815.9L338.5 807.8L339.7 803.7L340.9 797.6L342.1 789.4L343.4 783.3L344.2 772L345 771L345.8 783.3L346.6 791.4L347.4 785.3L348.3 793.5L349.1 797.6L350.5 792.8L351.8 802.1L353.2 798.9L354.6 806.7L355.6 801.6L356.6 797.6L357.7 793.5L358.7 779.2L359.7 758.8L360.7 738.4L361.7 718L362.8 705.7L363.4 671L364 646.5L364.6 660.8L365.2 671L365.8 636.3L366.4 679.2L367.2 705.7L368.1 726.1L368.9 746.5L369.9 771L370.9 787.3L371.9 799.6L373 795.5L374 783.3L375 773.1L376 762.9L376.8 758.8L377.7 766.9L378.5 762.9L379.3 775.1L380.1 781.2L381.1 789.4L382.1 797.6L383.2 803.7L384.2 807.8L385.2 810.8L386.2 803.7L387.2 797.6L388.3 789.4L389.5 793.5L390.7 783.3L391.5 781.2L392.8 793.5L394 797.6L395.4 800.6L396.8 803.7L398.1 810.8L399.5 801.6L400.9 806.7L402.6 803.7L403.8 810.8L405 804.7L406 804.7L407.2 797.6L408.5 790.4L409.3 803.7L410.5 799.6L411.7 807.8L413 810.8L414.2 815.9L415.4 820L416.6 823.1L417.9 822L419.1 827.1L420.3 823.1L421.5 821L422.8 814.9L424 811.8L425.2 809.8L426.4 813.9L427.7 821L428.9 826.1L430.1 829.2L431.3 833.3L432.8 830.2L434.2 827.1L435.8 828.2L437.4 826.1L438.7 822L439.9 818L441.1 812.9L442.3 808.8L443.6 810.8L444.8 805.7L446 809.8L447.2 806.7L448.5 812.9L449.7 807.8L450.7 822L451.7 811.8L453 803.7L454.2 807.8L455.4 799.6L456.6 807.8L457.9 803.7L459.1 808.8L460.3 811.8L461.5 813.9L462.8 816.9L464 819L465.2 823.1L466.4 816.9L467.7 822L468.9 815.9L470.1 824.1L471.3 816.9L472.6 824.1L473.8 821L475 809.8L476.2 801.6L477.4 797.6L478.7 794.5L479.9 800.6L481.1 797.6L482.3 805.7L483.6 799.6L484.8 803.7L485.8 789.4L486.8 779.2L487.9 766.9L488.9 752.7L489.7 739.4L490.5 746.5L491.3 740.4L492.1 750.6L493 766.9L493.8 775.1L494.6 783.3L496.1 776.3L497.6 783.6L499.1 776.4L500.7 788.8L502.2 783.8L503.7 793.8L505.2 793.5L506.2 799.6L507.2 803.7L508.3 810.8L509.3 815.9L510.3 821L511.7 822L513 824.1L514.4 823.1L515.8 825.1L517 824.1L518.5 827.1L519.9 828.2L521.5 832.2L523.2 836.3L524.8 839.4L526.4 842.4L527.7 847.6L528.9 844.5L530.1 845.5L531.3 841.4L532.8 840.4L534.2 837.3L535.4 838.4L536.8 835.3L538.3 836.3L539.5 834.3L540.9 837.3L542.3 835.3L544 839.4L545.6 834.3L546.8 824.1L548.1 816.9L549.1 803.7L550.1 793.5L551.4 794.6L552.7 783.6L554 786.8L555.3 774.5L556.7 781.8L558 774.5L559.3 787.3L560.3 777.1L561.3 773.1L561.9 783.3L562.8 797.6L563.4 811.8" fill="none" stroke="#0c0c0c" stroke-width="1.45" stroke-linejoin="round"/>
<path d="M179.7 629.2L180.4 666.8M180.7 684.9L181.5 731.2M181.8 749.0L182.7 795.1M183.0 813.5L183.8 858.8" fill="none" stroke="#0a72c4" stroke-width="5.8"/>
<path d="M216.2 629.2L216.8 666.8M217.1 684.9L217.8 731.2M218.1 749.0L218.9 795.1M219.2 813.5L219.9 858.8" fill="none" stroke="#0a72c4" stroke-width="5.8"/>
<path d="M315.2 629.2L315.9 666.8M316.2 684.9L317.0 731.2M317.3 749.0L318.2 795.1M318.5 813.5L319.3 858.8" fill="none" stroke="#0a72c4" stroke-width="5.8"/>
<path d="M381.7 628.2L382.4 665.8M382.8 683.7L383.7 729.8M384.0 747.8L384.9 793.9M385.3 811.8L386.2 857.8" fill="none" stroke="#0a72c4" stroke-width="5.8"/>
<path d="M475.0 628.2L475.7 665.8M476.0 683.7L476.9 729.8M477.2 747.8L478.1 793.9M478.4 811.8L479.3 857.8" fill="none" stroke="#0a72c4" stroke-width="5.8"/>
<path d="M519.9 628.2L520.5 665.8M520.8 683.7L521.5 729.8M521.8 747.8L522.6 793.9M522.8 811.8L523.6 857.8" fill="none" stroke="#0a72c4" stroke-width="5.8"/>
<text transform="translate(113.2 695.9) scale(0.921 1)" font-size="31.1" font-weight="bold" text-anchor="middle" fill="#e2590c" stroke="#e2590c" stroke-width="0.45" font-family='"Liberation Sans", sans-serif'>A</text>
<text transform="translate(196.8 695.9) scale(0.803 1)" font-size="31.1" font-weight="bold" text-anchor="middle" fill="#e2590c" stroke="#e2590c" stroke-width="0.45" font-family='"Liberation Sans", sans-serif'>B</text>
<text transform="translate(267.9 696.5) scale(0.824 1)" font-size="29.2" font-weight="bold" text-anchor="middle" fill="#e2590c" stroke="#e2590c" stroke-width="0.45" font-family='"Liberation Sans", sans-serif'>C</text>
<text transform="translate(348.5 754.7) scale(0.921 1)" font-size="29.2" font-weight="bold" text-anchor="middle" fill="#e2590c" stroke="#e2590c" stroke-width="0.45" font-family='"Liberation Sans", sans-serif'>D</text>
<text transform="translate(427.2 680.8) scale(0.834 1)" font-size="29.2" font-weight="bold" text-anchor="middle" fill="#e2590c" stroke="#e2590c" stroke-width="0.45" font-family='"Liberation Sans", sans-serif'>E</text>
<text transform="translate(491.9 680.8) scale(0.848 1)" font-size="29.2" font-weight="bold" text-anchor="middle" fill="#e2590c" stroke="#e2590c" stroke-width="0.45" font-family='"Liberation Sans", sans-serif'>F</text>
<text transform="translate(538.9 680.8) scale(0.923 1)" font-size="29.2" font-weight="bold" text-anchor="middle" fill="#e2590c" stroke="#e2590c" stroke-width="0.45" font-family='"Liberation Sans", sans-serif'>G</text>
<path d="M58.2 1070.7L59.4 1073.8L60.6 1087L61.8 1091.1L63.1 1097.2L64.7 1099.3L66.3 1101.3L68.4 1103.8L70.4 1105.4L72.4 1103.8L74.5 1104.4L76.5 1106.4L78.6 1107.9L80.6 1105.8L82.7 1103.4L84.3 1095.2L85.7 1089.1L86.7 1078.9L87.8 1074.8L89.5 1077.2L91.2 1071.1L92.9 1072.8L93.9 1069.7L94.9 1067.7L95.9 1072.8L96.9 1076.8L98.2 1078.9L99.4 1089.1L100.6 1093.2L102 1092.1L103.5 1095.2L104.7 1094.2L106.1 1097.2L107.6 1096.2L109.2 1099.3L110.6 1100.3L111.8 1102.3L113.3 1099.3L114.5 1093.2L115.7 1087L116.9 1085L118.2 1081.9L119.4 1080.5L120.6 1079.9L121.8 1081.9L123.1 1086L124.3 1091.1L125.5 1093.2L126.7 1102.3L128.4 1101.3L130 1099.3L131.6 1100.3L133.3 1098.9L134.9 1099.7L136.5 1098.3L138.2 1100.3L139.8 1099.3L141.4 1101.3L143.1 1100.9L144.7 1102.3L146.3 1101.7L148 1100.3L149.6 1097.2L151.2 1095.2L152.9 1093.2L154.5 1095.2L156.1 1097.2L157.8 1096.2L159.4 1100.3L161 1097.2L162.7 1095.2L164.3 1093.2L165.5 1090.1L166.7 1092.1L168 1087L169.2 1085L170.4 1089.1L171.6 1091.1L172.9 1095.2L174.5 1094.2L176.1 1091.1L177.6 1084L178.6 1076.8L179.8 1074.8L181 1072.8L182.2 1066.6L183.5 1068.7L184.7 1062.6L185.9 1060.5L187.1 1056.4L188.4 1048.3L189.4 1042.1L190.4 1031.9L191.4 1023.8L192.2 1016.6L193.1 1025.8L193.9 1036L194.7 1042.1L195.5 1048.3L196.5 1044.2L197.6 1040.1L198.6 1035L200.3 1038.4L202 1036.7L203.7 1040.1L204.7 1038.1L205.7 1036L206.7 1031.9L207.6 1027.9L208.4 1036L209.2 1038.1L210 1034L210.6 1030.9L211.2 1040.1L212 1048.3L212.9 1050.3L213.7 1048.3L214.5 1056.4L215.3 1064.6L216.1 1068.7L216.9 1066.6L217.8 1076.8L218.6 1087L219.4 1093.2L220.6 1095.2L222.2 1096.2L223.9 1095.2L225.5 1097.2L227.6 1097.7L230 1097.2L232.2 1097.2L234.3 1094.2L235.9 1093.2L237.6 1089.1L238.8 1087L240 1076.8L241.2 1070.7L242 1062.6L242.9 1054.4L243.7 1060.5L244.5 1064.6L245.3 1068.7L246.1 1072.8L246.9 1075.8L247.8 1073.8L248.6 1078.9L249.4 1084L250.2 1074.8L251.4 1070.7L252.7 1071.7L253.9 1073.8L255.1 1075.8L256.3 1072.8L257.6 1066.6L258.8 1068.7L260 1070.7L261.2 1065.6L262.4 1069.7L263.7 1067.7L264.9 1072.8L266.1 1074.8L267.3 1080.9L268.6 1086L269.8 1089.1L271 1095.2L272.2 1097.2L273.5 1096.2L274.7 1089.1L275.9 1086L277.1 1081.9L278.4 1079.9L279.6 1083L280.8 1089.1L282 1092.1L283.3 1095.2L284.9 1096.8L286.5 1096.2L288.2 1097.2L289.8 1096.2L291.4 1096.2L293.1 1094.2L294.3 1085L295.5 1074.8L296.7 1068.7L298 1056.4L299.2 1051.3L300.4 1056.4L301.2 1062.6L302.6 1053.8L304 1063.1L305.5 1054L306.9 1058.1L308.3 1048.6L309.7 1054.6L311.1 1048.7L312.5 1054.5L313.9 1047.5L315.3 1055.1L316.7 1048.3L317.6 1057.4L318.8 1058.5L320 1059.5L321.2 1060.5L322.4 1058.5L323.7 1062.6L324.9 1056.4L326.1 1046.2L327.8 1055.4L329.4 1048.3L330.2 1058.5L331 1063.6L331.8 1054.4L332.7 1048.3L333.5 1044.2L334.3 1036L335.1 1025.8L335.9 1027.9L336.7 1015.6L337.6 1001.3L338.4 1017.7L339.2 1031.9L340 1023.8L340.8 1027.9L341.6 1040.1L343 1035.3L344.4 1048.9L345.7 1042.1L346.5 1048.3L347.3 1054.4L348.2 1058.5L349 1048.3L349.8 1050.3L350.6 1044.2L351.4 1031.9L352.2 1015.6L353.1 999.3L353.9 983L354.7 966.6L355.5 948.3L356.1 925.8L356.7 938.1L357.3 927.9L358 936L358.8 921.7L359.6 911.5L360.2 942.1L360.8 966.6L361.6 987L362.4 1007.4L363.3 1027.9L364.1 1046.2L364.9 1054.4L365.7 1060.5L367.3 1050.3L369 1050.3L369.8 1046.2L370.6 1041.1L371.4 1050.3L372.2 1048.3L373.1 1056.4L373.9 1062.6L374.7 1064.6L375.5 1066.6L376.3 1072.8L377.1 1076.8L378.4 1080.9L379.6 1086L380.8 1080.9L382 1077.9L383.3 1078.9L384.5 1074.8L385.7 1072.8L386.9 1073.8L388.2 1070.7L389.4 1071.7L390.6 1068.7L391.8 1069.7L393.1 1065.6L394.3 1066.6L395.5 1062.6L396.7 1063.6L398 1058.5L399.2 1054.4L400 1052.3L400.6 1058.5L401.4 1048.3L402.2 1044.2L403.1 1056.4L403.9 1050.3L404.7 1060.5L405.9 1058.5L407.1 1064.6L408.4 1068.7L409.6 1076.8L410.8 1075.8L412 1083L413.3 1078.9L414.5 1074.8L415.7 1066.6L416.9 1064.6L418.2 1062.6L419.4 1064.6L420.6 1072.8L421.8 1078.9L423.1 1083L424.3 1088.1L425.5 1084L426.7 1080.9L428 1081.9L429.2 1077.9L430.4 1076.8L431.6 1071.7L432.9 1068.7L434.1 1065.6L435.3 1067.7L436.5 1064.6L437.8 1068.7L439 1070.7L440.2 1074.8L441.4 1072.8L442.7 1077.9L443.9 1085L445.1 1080.9L446.3 1075.8L447.6 1072.8L448.8 1068.7L450 1065.6L451.2 1070.7L452.4 1073.8L453.7 1078.9L454.9 1080.9L456.1 1084L457.3 1086L458.6 1089.1L459.8 1085L461 1081.9L462.2 1084L463.5 1076.8L464.7 1078.9L465.9 1072.8L467.1 1066.6L468.4 1060.5L469.6 1054.4L470.8 1056.4L471.6 1051.3L472.9 1058.5L474.1 1060.5L475.3 1058.5L476.5 1064.6L477.8 1058.5L479 1052.3L479.8 1031.9L480.6 1015.6L481.4 1003.4L482.2 996.2L483.1 1007.4L483.9 997.2L484.7 1007.4L485.5 1023.8L486.3 1036L487.7 1031.3L489 1038.7L490.4 1027.9L491.8 1036.4L493.1 1026.2L494.5 1036L495.9 1027.9L497.2 1040.8L498.6 1040.1L499.4 1048.3L500.2 1054.4L501 1060.5L501.8 1066.6L502.7 1072.8L503.5 1076.8L504.7 1075.8L505.9 1077.9L507.1 1076.8L508.4 1078.9L509.6 1079.9L510.8 1081.9L512 1083L513.3 1087L514.5 1093.2L515.7 1099.3L516.9 1104.4L518.2 1107.4L519.8 1109.5L521.4 1110.5L523.1 1111.1L524.7 1111.1L526.7 1110.5L528.8 1111.1L530.8 1110.5L532.9 1110.5L534.9 1111.1L536.9 1110.5L538.6 1108.5L539.8 1101.3L541 1093.2L542.2 1087L543.5 1080.9L544.7 1078.9L545.9 1072.8L547.1 1068.7L548.4 1062.6L549.6 1064.6L550.8 1058.5L551.6 1054.4L552.4 1060.5L553.3 1058.5L554.1 1064.6L554.9 1072.8L555.7 1078.9" fill="none" stroke="#0c0c0c" stroke-width="1.45" stroke-linejoin="round"/>
<path d="M183.1 891.1L183.8 927.9M184.1 946.6L184.9 992.1M185.2 1011.1L186.0 1056.8M186.3 1075.2L187.1 1120.7" fill="none" stroke="#0a72c4" stroke-width="5.8"/>
<path d="M219.4 891.1L220.1 927.9M220.4 946.6L221.2 992.1M221.5 1011.1L222.4 1056.8M222.7 1075.2L223.5 1120.7" fill="none" stroke="#0a72c4" stroke-width="5.8"/>
<path d="M319.0 891.1L319.6 927.9M319.9 946.6L320.6 992.1M320.9 1011.1L321.7 1056.8M322.0 1075.2L322.7 1120.7" fill="none" stroke="#0a72c4" stroke-width="5.8"/>
<path d="M384.3 889.5L384.9 926.9M385.1 945.4L385.8 991.1M386.1 1009.7L386.8 1055.4M387.1 1073.8L387.8 1119.7" fill="none" stroke="#0a72c4" stroke-width="5.8"/>
<path d="M477.8 889.5L478.4 926.9M478.8 945.4L479.5 991.1M479.9 1009.7L480.7 1055.4M481.0 1073.8L481.8 1119.7" fill="none" stroke="#0a72c4" stroke-width="5.8"/>
<path d="M523.1 889.5L523.7 926.9M524.1 945.4L524.8 991.1M525.2 1009.7L526.0 1055.4M526.3 1073.8L527.1 1119.7" fill="none" stroke="#0a72c4" stroke-width="5.8"/>
<text transform="translate(115.7 957.4) scale(0.968 1)" font-size="29.6" font-weight="bold" text-anchor="middle" fill="#e2590c" stroke="#e2590c" stroke-width="0.45" font-family='"Liberation Sans", sans-serif'>A</text>
<text transform="translate(199.4 957.4) scale(0.844 1)" font-size="29.6" font-weight="bold" text-anchor="middle" fill="#e2590c" stroke="#e2590c" stroke-width="0.45" font-family='"Liberation Sans", sans-serif'>B</text>
<text transform="translate(270.0 957.4) scale(0.813 1)" font-size="29.6" font-weight="bold" text-anchor="middle" fill="#e2590c" stroke="#e2590c" stroke-width="0.45" font-family='"Liberation Sans", sans-serif'>C</text>
<text transform="translate(351.0 1016.0) scale(0.929 1)" font-size="28.9" font-weight="bold" text-anchor="middle" fill="#e2590c" stroke="#e2590c" stroke-width="0.45" font-family='"Liberation Sans", sans-serif'>D</text>
<text transform="translate(429.4 942.8) scale(0.834 1)" font-size="29.2" font-weight="bold" text-anchor="middle" fill="#e2590c" stroke="#e2590c" stroke-width="0.45" font-family='"Liberation Sans", sans-serif'>E</text>
<text transform="translate(495.5 942.8) scale(0.848 1)" font-size="29.2" font-weight="bold" text-anchor="middle" fill="#e2590c" stroke="#e2590c" stroke-width="0.45" font-family='"Liberation Sans", sans-serif'>F</text>
<text transform="translate(542.7 942.8) scale(0.923 1)" font-size="29.2" font-weight="bold" text-anchor="middle" fill="#e2590c" stroke="#e2590c" stroke-width="0.45" font-family='"Liberation Sans", sans-serif'>G</text>
</g>
<text x="269.9" y="1187" font-size="36.5" text-anchor="middle" fill="#1a1a1a" font-family='"Liberation Serif", serif' font-weight="normal">(<tspan font-weight="bold">a</tspan>)</text>
<text x="896" y="1187" font-size="36.5" text-anchor="middle" fill="#1a1a1a" font-family='"Liberation Serif", serif' font-weight="normal">(<tspan font-weight="bold">b</tspan>)</text>
<text x="1506.6" y="1187" font-size="36.5" text-anchor="middle" fill="#1a1a1a" font-family='"Liberation Serif", serif' font-weight="normal">(<tspan font-weight="bold">c</tspan>)</text>
</svg>
</body></html>
